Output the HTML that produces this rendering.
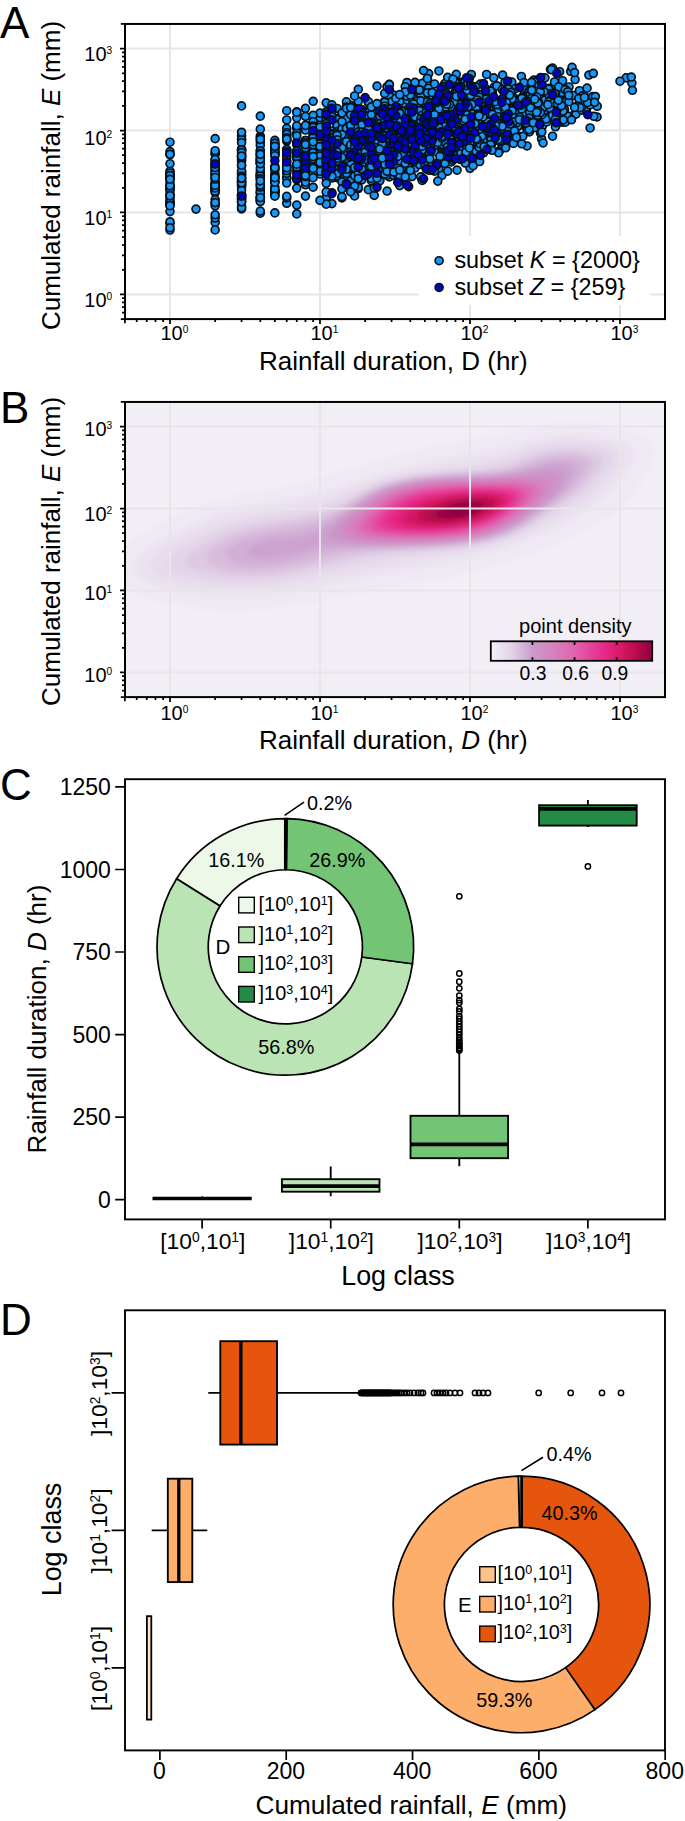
<!DOCTYPE html>
<html><head><meta charset="utf-8"><title>Rainfall duration and cumulated rainfall</title>
<style>html,body{margin:0;padding:0;background:#fff}svg{display:block}text{font-family:'Liberation Sans', Arial, sans-serif;fill:#000}</style>
</head><body>
<svg width="685" height="1821" viewBox="0 0 685 1821">
<defs>
<clipPath id="clipA"><rect x="125" y="23.95" width="540" height="295.15"/></clipPath>
<clipPath id="clipB"><rect x="125" y="401.95" width="540" height="295.15"/></clipPath>
<filter id="blur" x="-5%" y="-5%" width="110%" height="110%"><feGaussianBlur stdDeviation="2.5"/></filter>
<linearGradient id="cbar" x1="0" x2="1" y1="0" y2="0"><stop offset="0" stop-color="#f3f0f7"/><stop offset="0.13" stop-color="#e2d3e8"/><stop offset="0.26" stop-color="#c99bcb"/><stop offset="0.4" stop-color="#d77fbd"/><stop offset="0.52" stop-color="#df63af"/><stop offset="0.7" stop-color="#e7298a"/><stop offset="0.85" stop-color="#ce1256"/><stop offset="1" stop-color="#8e0040"/></linearGradient>
</defs>
<g id="panelA">
<path d="M170 23.95V319.1M125 294.43H665M320 23.95V319.1M125 212.49H665M470 23.95V319.1M125 130.55H665M620 23.95V319.1M125 48.61H665" stroke="#e6e6e6" stroke-width="2" fill="none" opacity="1"/>
<g clip-path="url(#clipA)"><g stroke="#04101a" stroke-width="1.7"><g fill="#1797f7"><circle cx="403.45" cy="126.94" r="3.95"/><circle cx="241.57" cy="186.86" r="3.95"/><circle cx="511.81" cy="82.07" r="3.95"/><circle cx="354.57" cy="138.18" r="3.95"/><circle cx="365.15" cy="144.05" r="3.95"/><circle cx="296.76" cy="154.29" r="3.95"/><circle cx="305.46" cy="176.88" r="3.95"/><circle cx="560.63" cy="88" r="3.95"/><circle cx="341.92" cy="153.56" r="3.95"/><circle cx="477.96" cy="101.87" r="3.95"/><circle cx="358.29" cy="112.64" r="3.95"/><circle cx="361.81" cy="179.85" r="3.95"/><circle cx="260.31" cy="175.89" r="3.95"/><circle cx="413.49" cy="109.99" r="3.95"/><circle cx="510.08" cy="100.17" r="3.95"/><circle cx="337.09" cy="160.18" r="3.95"/><circle cx="361.81" cy="147.95" r="3.95"/><circle cx="507.56" cy="125.2" r="3.95"/><circle cx="463.14" cy="101.5" r="3.95"/><circle cx="170" cy="223.62" r="3.95"/><circle cx="326.21" cy="161.6" r="3.95"/><circle cx="490.51" cy="107.3" r="3.95"/><circle cx="626.21" cy="77.83" r="3.95"/><circle cx="451.26" cy="117.35" r="3.95"/><circle cx="503.02" cy="108.88" r="3.95"/><circle cx="350.62" cy="150.79" r="3.95"/><circle cx="462.41" cy="82.11" r="3.95"/><circle cx="478.54" cy="134.64" r="3.95"/><circle cx="358.29" cy="159.41" r="3.95"/><circle cx="286.72" cy="150.17" r="3.95"/><circle cx="411.92" cy="130" r="3.95"/><circle cx="384.7" cy="101.16" r="3.95"/><circle cx="495.98" cy="129.48" r="3.95"/><circle cx="401.61" cy="162.46" r="3.95"/><circle cx="487.09" cy="137.44" r="3.95"/><circle cx="524.26" cy="113.17" r="3.95"/><circle cx="529.43" cy="131.83" r="3.95"/><circle cx="469.35" cy="123.33" r="3.95"/><circle cx="432.23" cy="101.04" r="3.95"/><circle cx="420.81" cy="95.92" r="3.95"/><circle cx="505.71" cy="102.61" r="3.95"/><circle cx="410.31" cy="145.81" r="3.95"/><circle cx="416.52" cy="126.8" r="3.95"/><circle cx="379.69" cy="172.27" r="3.95"/><circle cx="286.72" cy="135.09" r="3.95"/><circle cx="286.72" cy="157.43" r="3.95"/><circle cx="341.92" cy="197.97" r="3.95"/><circle cx="441.94" cy="140.24" r="3.95"/><circle cx="446.76" cy="152.36" r="3.95"/><circle cx="415.02" cy="168.02" r="3.95"/><circle cx="578.76" cy="94.28" r="3.95"/><circle cx="511.12" cy="124.89" r="3.95"/><circle cx="413.49" cy="109.61" r="3.95"/><circle cx="397.78" cy="125.4" r="3.95"/><circle cx="326.21" cy="140.72" r="3.95"/><circle cx="346.41" cy="168.04" r="3.95"/><circle cx="483.49" cy="97.09" r="3.95"/><circle cx="484.54" cy="118.19" r="3.95"/><circle cx="491.92" cy="124.76" r="3.95"/><circle cx="365.15" cy="129.61" r="3.95"/><circle cx="387.07" cy="151.32" r="3.95"/><circle cx="545.16" cy="94.28" r="3.95"/><circle cx="476.21" cy="123.04" r="3.95"/><circle cx="286.72" cy="161.07" r="3.95"/><circle cx="524.54" cy="92.89" r="3.95"/><circle cx="429.86" cy="101.24" r="3.95"/><circle cx="305.46" cy="184.77" r="3.95"/><circle cx="286.72" cy="110.69" r="3.95"/><circle cx="499.38" cy="150.9" r="3.95"/><circle cx="553.45" cy="95.24" r="3.95"/><circle cx="374.26" cy="156.63" r="3.95"/><circle cx="491.45" cy="144.63" r="3.95"/><circle cx="545.77" cy="99.17" r="3.95"/><circle cx="497.7" cy="124.52" r="3.95"/><circle cx="427.4" cy="128.3" r="3.95"/><circle cx="313.14" cy="158.93" r="3.95"/><circle cx="458.64" cy="123.64" r="3.95"/><circle cx="354.57" cy="139.81" r="3.95"/><circle cx="503.8" cy="137.13" r="3.95"/><circle cx="452.12" cy="120.26" r="3.95"/><circle cx="405.23" cy="149.36" r="3.95"/><circle cx="419.41" cy="142.86" r="3.95"/><circle cx="504.57" cy="95.04" r="3.95"/><circle cx="518.95" cy="137.78" r="3.95"/><circle cx="588.86" cy="75.03" r="3.95"/><circle cx="466.66" cy="96.8" r="3.95"/><circle cx="497.7" cy="111.11" r="3.95"/><circle cx="260.31" cy="177.92" r="3.95"/><circle cx="476.8" cy="102.24" r="3.95"/><circle cx="565.32" cy="96.94" r="3.95"/><circle cx="455.46" cy="125.66" r="3.95"/><circle cx="241.57" cy="171.65" r="3.95"/><circle cx="479.1" cy="143.53" r="3.95"/><circle cx="453.81" cy="131.68" r="3.95"/><circle cx="509.01" cy="99.03" r="3.95"/><circle cx="534.22" cy="114.11" r="3.95"/><circle cx="449.5" cy="133.53" r="3.95"/><circle cx="485.57" cy="88.55" r="3.95"/><circle cx="469.35" cy="125.11" r="3.95"/><circle cx="326.21" cy="150.59" r="3.95"/><circle cx="411.92" cy="95.17" r="3.95"/><circle cx="471.93" cy="122.2" r="3.95"/><circle cx="320" cy="158.78" r="3.95"/><circle cx="476.21" cy="151.25" r="3.95"/><circle cx="337.09" cy="121.69" r="3.95"/><circle cx="170" cy="174.66" r="3.95"/><circle cx="354.57" cy="147.78" r="3.95"/><circle cx="428.64" cy="88.18" r="3.95"/><circle cx="422.19" cy="154.03" r="3.95"/><circle cx="533.98" cy="79.98" r="3.95"/><circle cx="423.53" cy="125.04" r="3.95"/><circle cx="490.03" cy="95.99" r="3.95"/><circle cx="326.21" cy="148.21" r="3.95"/><circle cx="341.92" cy="138.59" r="3.95"/><circle cx="482.42" cy="137.08" r="3.95"/><circle cx="379.69" cy="154.01" r="3.95"/><circle cx="428.64" cy="73.54" r="3.95"/><circle cx="331.88" cy="156.34" r="3.95"/><circle cx="379.69" cy="145.9" r="3.95"/><circle cx="354.57" cy="138.24" r="3.95"/><circle cx="541.57" cy="138.98" r="3.95"/><circle cx="274.85" cy="190.99" r="3.95"/><circle cx="482.42" cy="131.05" r="3.95"/><circle cx="313.14" cy="133.42" r="3.95"/><circle cx="384.7" cy="115.03" r="3.95"/><circle cx="444.88" cy="97.16" r="3.95"/><circle cx="361.81" cy="145.63" r="3.95"/><circle cx="440.93" cy="121.77" r="3.95"/><circle cx="559.16" cy="110.94" r="3.95"/><circle cx="170" cy="175.82" r="3.95"/><circle cx="441.94" cy="130.69" r="3.95"/><circle cx="560.31" cy="93.78" r="3.95"/><circle cx="379.69" cy="180.47" r="3.95"/><circle cx="405.23" cy="126.33" r="3.95"/><circle cx="523.12" cy="102.17" r="3.95"/><circle cx="508.29" cy="121.55" r="3.95"/><circle cx="389.36" cy="154.75" r="3.95"/><circle cx="502.62" cy="145.08" r="3.95"/><circle cx="427.4" cy="118.41" r="3.95"/><circle cx="416.52" cy="147.86" r="3.95"/><circle cx="393.7" cy="101.42" r="3.95"/><circle cx="274.85" cy="195.31" r="3.95"/><circle cx="341.92" cy="121.98" r="3.95"/><circle cx="320" cy="156.41" r="3.95"/><circle cx="296.76" cy="179.61" r="3.95"/><circle cx="361.81" cy="142.89" r="3.95"/><circle cx="241.57" cy="159.42" r="3.95"/><circle cx="377.03" cy="165.41" r="3.95"/><circle cx="428.64" cy="122.44" r="3.95"/><circle cx="350.62" cy="171.62" r="3.95"/><circle cx="492.38" cy="92.57" r="3.95"/><circle cx="260.31" cy="136.05" r="3.95"/><circle cx="551.42" cy="106.5" r="3.95"/><circle cx="296.76" cy="127.68" r="3.95"/><circle cx="399.72" cy="171.63" r="3.95"/><circle cx="397.78" cy="126.94" r="3.95"/><circle cx="382.25" cy="121.79" r="3.95"/><circle cx="387.07" cy="137.49" r="3.95"/><circle cx="337.09" cy="174.54" r="3.95"/><circle cx="341.92" cy="138.34" r="3.95"/><circle cx="320" cy="158.78" r="3.95"/><circle cx="540.47" cy="103.44" r="3.95"/><circle cx="495.54" cy="120.96" r="3.95"/><circle cx="470" cy="142.74" r="3.95"/><circle cx="492.38" cy="110.89" r="3.95"/><circle cx="475.61" cy="96.86" r="3.95"/><circle cx="382.25" cy="126.79" r="3.95"/><circle cx="305.46" cy="141.38" r="3.95"/><circle cx="411.92" cy="124.57" r="3.95"/><circle cx="423.53" cy="101.76" r="3.95"/><circle cx="416.52" cy="135.33" r="3.95"/><circle cx="350.62" cy="137.17" r="3.95"/><circle cx="320" cy="167.55" r="3.95"/><circle cx="241.57" cy="202.05" r="3.95"/><circle cx="427.4" cy="78.84" r="3.95"/><circle cx="550.48" cy="69.34" r="3.95"/><circle cx="486.08" cy="112.75" r="3.95"/><circle cx="472.56" cy="164.63" r="3.95"/><circle cx="393.7" cy="123.23" r="3.95"/><circle cx="241.57" cy="208.9" r="3.95"/><circle cx="354.57" cy="143.08" r="3.95"/><circle cx="546.58" cy="107.76" r="3.95"/><circle cx="496.85" cy="108.81" r="3.95"/><circle cx="460.93" cy="130.72" r="3.95"/><circle cx="337.09" cy="161.58" r="3.95"/><circle cx="555.23" cy="108.02" r="3.95"/><circle cx="331.88" cy="137.8" r="3.95"/><circle cx="498.55" cy="126.43" r="3.95"/><circle cx="350.62" cy="158.59" r="3.95"/><circle cx="494.21" cy="86.95" r="3.95"/><circle cx="437.8" cy="124.32" r="3.95"/><circle cx="305.46" cy="182.05" r="3.95"/><circle cx="241.57" cy="173.45" r="3.95"/><circle cx="374.26" cy="140.86" r="3.95"/><circle cx="459.41" cy="107.5" r="3.95"/><circle cx="326.21" cy="139.83" r="3.95"/><circle cx="350.62" cy="136.19" r="3.95"/><circle cx="358.29" cy="155.28" r="3.95"/><circle cx="296.76" cy="111.83" r="3.95"/><circle cx="401.61" cy="121.44" r="3.95"/><circle cx="436.72" cy="142.57" r="3.95"/><circle cx="476.8" cy="133.73" r="3.95"/><circle cx="241.57" cy="206.34" r="3.95"/><circle cx="433.38" cy="110.78" r="3.95"/><circle cx="337.09" cy="171" r="3.95"/><circle cx="511.47" cy="111.57" r="3.95"/><circle cx="561.92" cy="93.09" r="3.95"/><circle cx="405.23" cy="134.69" r="3.95"/><circle cx="341.92" cy="135.41" r="3.95"/><circle cx="371.36" cy="149.06" r="3.95"/><circle cx="320" cy="166.95" r="3.95"/><circle cx="382.25" cy="119.14" r="3.95"/><circle cx="384.7" cy="127.18" r="3.95"/><circle cx="620" cy="81.22" r="3.95"/><circle cx="486.08" cy="117.83" r="3.95"/><circle cx="488.58" cy="131.69" r="3.95"/><circle cx="440.93" cy="106.78" r="3.95"/><circle cx="274.85" cy="166.41" r="3.95"/><circle cx="313.14" cy="140.85" r="3.95"/><circle cx="241.57" cy="174.54" r="3.95"/><circle cx="512.5" cy="137.9" r="3.95"/><circle cx="420.81" cy="176.74" r="3.95"/><circle cx="510.08" cy="100.86" r="3.95"/><circle cx="320" cy="152.96" r="3.95"/><circle cx="438.86" cy="132.59" r="3.95"/><circle cx="527.3" cy="115.97" r="3.95"/><circle cx="337.09" cy="108.47" r="3.95"/><circle cx="358.29" cy="178.5" r="3.95"/><circle cx="514.83" cy="118.31" r="3.95"/><circle cx="498.55" cy="152.79" r="3.95"/><circle cx="341.92" cy="167.35" r="3.95"/><circle cx="456.27" cy="115.33" r="3.95"/><circle cx="170" cy="201.65" r="3.95"/><circle cx="286.72" cy="169.75" r="3.95"/><circle cx="480.78" cy="127.16" r="3.95"/><circle cx="331.88" cy="130.97" r="3.95"/><circle cx="467.34" cy="98.47" r="3.95"/><circle cx="480.78" cy="107.69" r="3.95"/><circle cx="377.03" cy="170.95" r="3.95"/><circle cx="493.3" cy="103.9" r="3.95"/><circle cx="422.19" cy="138.69" r="3.95"/><circle cx="241.57" cy="185.26" r="3.95"/><circle cx="549.14" cy="88.18" r="3.95"/><circle cx="411.92" cy="96.64" r="3.95"/><circle cx="460.17" cy="113.09" r="3.95"/><circle cx="485.57" cy="137.14" r="3.95"/><circle cx="379.69" cy="118.19" r="3.95"/><circle cx="475.01" cy="104.76" r="3.95"/><circle cx="449.5" cy="140.48" r="3.95"/><circle cx="465.27" cy="86.89" r="3.95"/><circle cx="484.54" cy="126.9" r="3.95"/><circle cx="286.72" cy="167.4" r="3.95"/><circle cx="346.41" cy="141.89" r="3.95"/><circle cx="286.72" cy="178.11" r="3.95"/><circle cx="452.12" cy="116.72" r="3.95"/><circle cx="525.94" cy="100.85" r="3.95"/><circle cx="368.33" cy="156.31" r="3.95"/><circle cx="393.7" cy="118.32" r="3.95"/><circle cx="170" cy="151.54" r="3.95"/><circle cx="521.95" cy="124.82" r="3.95"/><circle cx="471.29" cy="124.88" r="3.95"/><circle cx="215.15" cy="165.77" r="3.95"/><circle cx="305.46" cy="165.14" r="3.95"/><circle cx="426.14" cy="162.56" r="3.95"/><circle cx="529.43" cy="88.73" r="3.95"/><circle cx="389.36" cy="176.88" r="3.95"/><circle cx="401.61" cy="138.73" r="3.95"/><circle cx="454.64" cy="124.5" r="3.95"/><circle cx="337.09" cy="177.61" r="3.95"/><circle cx="422.19" cy="83.29" r="3.95"/><circle cx="393.7" cy="95.16" r="3.95"/><circle cx="215.15" cy="167.09" r="3.95"/><circle cx="305.46" cy="164.08" r="3.95"/><circle cx="519.56" cy="107.45" r="3.95"/><circle cx="170" cy="203.85" r="3.95"/><circle cx="521.07" cy="123.79" r="3.95"/><circle cx="241.57" cy="139.47" r="3.95"/><circle cx="460.17" cy="142.69" r="3.95"/><circle cx="459.41" cy="110.32" r="3.95"/><circle cx="382.25" cy="125.37" r="3.95"/><circle cx="448.6" cy="130.31" r="3.95"/><circle cx="504.95" cy="113.95" r="3.95"/><circle cx="397.78" cy="150.62" r="3.95"/><circle cx="241.57" cy="149.18" r="3.95"/><circle cx="326.21" cy="135.33" r="3.95"/><circle cx="423.53" cy="145.27" r="3.95"/><circle cx="470" cy="131.9" r="3.95"/><circle cx="395.77" cy="128.36" r="3.95"/><circle cx="241.57" cy="161.13" r="3.95"/><circle cx="438.86" cy="145.89" r="3.95"/><circle cx="516.12" cy="105.99" r="3.95"/><circle cx="331.88" cy="157.81" r="3.95"/><circle cx="498.55" cy="101.96" r="3.95"/><circle cx="331.88" cy="203.58" r="3.95"/><circle cx="449.5" cy="121.97" r="3.95"/><circle cx="374.26" cy="140.24" r="3.95"/><circle cx="498.97" cy="101.7" r="3.95"/><circle cx="405.23" cy="113.75" r="3.95"/><circle cx="286.72" cy="203.26" r="3.95"/><circle cx="517.4" cy="115.78" r="3.95"/><circle cx="455.46" cy="116.05" r="3.95"/><circle cx="543.07" cy="142.93" r="3.95"/><circle cx="496.41" cy="120.2" r="3.95"/><circle cx="350.62" cy="154.97" r="3.95"/><circle cx="365.15" cy="153.22" r="3.95"/><circle cx="286.72" cy="128.41" r="3.95"/><circle cx="438.86" cy="169.27" r="3.95"/><circle cx="413.49" cy="85.5" r="3.95"/><circle cx="420.81" cy="120.29" r="3.95"/><circle cx="489.07" cy="111.56" r="3.95"/><circle cx="215.15" cy="203.29" r="3.95"/><circle cx="422.19" cy="132.46" r="3.95"/><circle cx="354.57" cy="132.17" r="3.95"/><circle cx="341.92" cy="147.14" r="3.95"/><circle cx="437.8" cy="101.71" r="3.95"/><circle cx="446.76" cy="107.08" r="3.95"/><circle cx="215.15" cy="205.77" r="3.95"/><circle cx="429.86" cy="136.78" r="3.95"/><circle cx="452.12" cy="120.93" r="3.95"/><circle cx="296.76" cy="205.09" r="3.95"/><circle cx="449.5" cy="140.88" r="3.95"/><circle cx="493.3" cy="109.07" r="3.95"/><circle cx="260.31" cy="175.14" r="3.95"/><circle cx="346.41" cy="153.16" r="3.95"/><circle cx="529.17" cy="100.25" r="3.95"/><circle cx="533.49" cy="114.9" r="3.95"/><circle cx="358.29" cy="147.3" r="3.95"/><circle cx="274.85" cy="169.91" r="3.95"/><circle cx="341.92" cy="134.05" r="3.95"/><circle cx="483.49" cy="140.31" r="3.95"/><circle cx="452.97" cy="127.25" r="3.95"/><circle cx="382.25" cy="127.08" r="3.95"/><circle cx="320" cy="160.41" r="3.95"/><circle cx="566.67" cy="99.25" r="3.95"/><circle cx="538.91" cy="105.87" r="3.95"/><circle cx="326.21" cy="102.87" r="3.95"/><circle cx="408.66" cy="145.01" r="3.95"/><circle cx="436.72" cy="114.3" r="3.95"/><circle cx="423.53" cy="70.6" r="3.95"/><circle cx="517.71" cy="114.78" r="3.95"/><circle cx="387.07" cy="175.11" r="3.95"/><circle cx="215.15" cy="192.61" r="3.95"/><circle cx="631.88" cy="83.04" r="3.95"/><circle cx="413.49" cy="151.66" r="3.95"/><circle cx="437.8" cy="114.48" r="3.95"/><circle cx="433.38" cy="133.01" r="3.95"/><circle cx="320" cy="117.58" r="3.95"/><circle cx="408.66" cy="115.38" r="3.95"/><circle cx="460.17" cy="110.84" r="3.95"/><circle cx="492.38" cy="102.2" r="3.95"/><circle cx="382.25" cy="153.42" r="3.95"/><circle cx="296.76" cy="158.51" r="3.95"/><circle cx="476.8" cy="111.15" r="3.95"/><circle cx="241.57" cy="135.85" r="3.95"/><circle cx="406.97" cy="155.8" r="3.95"/><circle cx="274.85" cy="147.38" r="3.95"/><circle cx="305.46" cy="140.46" r="3.95"/><circle cx="441.94" cy="175.28" r="3.95"/><circle cx="460.17" cy="126.47" r="3.95"/><circle cx="465.27" cy="115.34" r="3.95"/><circle cx="483.49" cy="152.77" r="3.95"/><circle cx="313.14" cy="154.89" r="3.95"/><circle cx="377.03" cy="150.63" r="3.95"/><circle cx="326.21" cy="122.76" r="3.95"/><circle cx="480.23" cy="94.72" r="3.95"/><circle cx="597.04" cy="116.95" r="3.95"/><circle cx="274.85" cy="190.88" r="3.95"/><circle cx="431.05" cy="123.68" r="3.95"/><circle cx="413.49" cy="132.88" r="3.95"/><circle cx="365.15" cy="131.63" r="3.95"/><circle cx="495.98" cy="105.88" r="3.95"/><circle cx="393.7" cy="167.75" r="3.95"/><circle cx="365.15" cy="160.2" r="3.95"/><circle cx="365.15" cy="151.63" r="3.95"/><circle cx="485.57" cy="140.35" r="3.95"/><circle cx="313.14" cy="149.46" r="3.95"/><circle cx="170" cy="171.15" r="3.95"/><circle cx="470.65" cy="132.92" r="3.95"/><circle cx="170" cy="154.61" r="3.95"/><circle cx="350.62" cy="110.34" r="3.95"/><circle cx="215.15" cy="182.74" r="3.95"/><circle cx="399.72" cy="161.85" r="3.95"/><circle cx="368.33" cy="102.32" r="3.95"/><circle cx="215.15" cy="186.04" r="3.95"/><circle cx="406.97" cy="82.5" r="3.95"/><circle cx="260.31" cy="171.49" r="3.95"/><circle cx="358.29" cy="188.52" r="3.95"/><circle cx="406.97" cy="116.83" r="3.95"/><circle cx="346.41" cy="178.93" r="3.95"/><circle cx="518.33" cy="102.79" r="3.95"/><circle cx="387.07" cy="135.35" r="3.95"/><circle cx="554.88" cy="118.96" r="3.95"/><circle cx="419.41" cy="139.58" r="3.95"/><circle cx="436.72" cy="145.21" r="3.95"/><circle cx="358.29" cy="154.85" r="3.95"/><circle cx="434.51" cy="151.55" r="3.95"/><circle cx="331.88" cy="171.69" r="3.95"/><circle cx="260.31" cy="200.96" r="3.95"/><circle cx="523.69" cy="120.59" r="3.95"/><circle cx="419.41" cy="90.3" r="3.95"/><circle cx="471.93" cy="89.18" r="3.95"/><circle cx="337.09" cy="142.57" r="3.95"/><circle cx="415.02" cy="137.66" r="3.95"/><circle cx="424.85" cy="125.27" r="3.95"/><circle cx="286.72" cy="178" r="3.95"/><circle cx="461.67" cy="93.16" r="3.95"/><circle cx="393.7" cy="117.41" r="3.95"/><circle cx="519.87" cy="109.25" r="3.95"/><circle cx="313.14" cy="160.56" r="3.95"/><circle cx="296.76" cy="117.84" r="3.95"/><circle cx="354.57" cy="134.12" r="3.95"/><circle cx="401.61" cy="136.81" r="3.95"/><circle cx="241.57" cy="154.52" r="3.95"/><circle cx="476.8" cy="115.88" r="3.95"/><circle cx="286.72" cy="132.68" r="3.95"/><circle cx="260.31" cy="160.79" r="3.95"/><circle cx="320" cy="132.35" r="3.95"/><circle cx="531.24" cy="128.47" r="3.95"/><circle cx="479.67" cy="121.66" r="3.95"/><circle cx="540.69" cy="95.79" r="3.95"/><circle cx="504.95" cy="124.19" r="3.95"/><circle cx="215.15" cy="189.89" r="3.95"/><circle cx="544.75" cy="115.01" r="3.95"/><circle cx="470" cy="168.35" r="3.95"/><circle cx="399.72" cy="138.31" r="3.95"/><circle cx="417.98" cy="160.53" r="3.95"/><circle cx="464.57" cy="149.93" r="3.95"/><circle cx="326.21" cy="162.77" r="3.95"/><circle cx="468.68" cy="90.02" r="3.95"/><circle cx="485.06" cy="126.35" r="3.95"/><circle cx="403.45" cy="147.13" r="3.95"/><circle cx="215.15" cy="154.32" r="3.95"/><circle cx="434.51" cy="171.12" r="3.95"/><circle cx="513.17" cy="115.84" r="3.95"/><circle cx="456.27" cy="134.73" r="3.95"/><circle cx="389.36" cy="95.31" r="3.95"/><circle cx="521.36" cy="76.44" r="3.95"/><circle cx="457.86" cy="154.6" r="3.95"/><circle cx="350.62" cy="105.23" r="3.95"/><circle cx="337.09" cy="144.95" r="3.95"/><circle cx="455.46" cy="111.08" r="3.95"/><circle cx="274.85" cy="140.29" r="3.95"/><circle cx="313.14" cy="187.23" r="3.95"/><circle cx="286.72" cy="141" r="3.95"/><circle cx="296.76" cy="127.45" r="3.95"/><circle cx="403.45" cy="164.89" r="3.95"/><circle cx="368.33" cy="138.86" r="3.95"/><circle cx="525.94" cy="88.64" r="3.95"/><circle cx="434.51" cy="115.75" r="3.95"/><circle cx="377.03" cy="153.88" r="3.95"/><circle cx="331.88" cy="178.04" r="3.95"/><circle cx="441.94" cy="148.33" r="3.95"/><circle cx="441.94" cy="108.46" r="3.95"/><circle cx="260.31" cy="154.79" r="3.95"/><circle cx="518.64" cy="136.28" r="3.95"/><circle cx="389.36" cy="135.2" r="3.95"/><circle cx="384.7" cy="132.71" r="3.95"/><circle cx="393.7" cy="128.86" r="3.95"/><circle cx="384.7" cy="93.46" r="3.95"/><circle cx="260.31" cy="129.13" r="3.95"/><circle cx="296.76" cy="150.97" r="3.95"/><circle cx="443.91" cy="129.23" r="3.95"/><circle cx="354.57" cy="169.73" r="3.95"/><circle cx="337.09" cy="148.17" r="3.95"/><circle cx="395.77" cy="121.36" r="3.95"/><circle cx="457.86" cy="95.13" r="3.95"/><circle cx="403.45" cy="111.54" r="3.95"/><circle cx="337.09" cy="118.45" r="3.95"/><circle cx="241.57" cy="181.25" r="3.95"/><circle cx="453.81" cy="138.43" r="3.95"/><circle cx="411.92" cy="176.5" r="3.95"/><circle cx="422.19" cy="103.75" r="3.95"/><circle cx="528.37" cy="122.94" r="3.95"/><circle cx="326.21" cy="123.85" r="3.95"/><circle cx="450.38" cy="145.37" r="3.95"/><circle cx="350.62" cy="126.35" r="3.95"/><circle cx="395.77" cy="119.8" r="3.95"/><circle cx="433.38" cy="128.2" r="3.95"/><circle cx="465.97" cy="110.97" r="3.95"/><circle cx="463.86" cy="114.01" r="3.95"/><circle cx="354.57" cy="136.48" r="3.95"/><circle cx="457.07" cy="100.1" r="3.95"/><circle cx="274.85" cy="173.79" r="3.95"/><circle cx="341.92" cy="169.46" r="3.95"/><circle cx="423.53" cy="129.45" r="3.95"/><circle cx="260.31" cy="162.67" r="3.95"/><circle cx="337.09" cy="131.72" r="3.95"/><circle cx="274.85" cy="147.3" r="3.95"/><circle cx="521.66" cy="102.62" r="3.95"/><circle cx="305.46" cy="172.5" r="3.95"/><circle cx="260.31" cy="198.03" r="3.95"/><circle cx="450.38" cy="123.39" r="3.95"/><circle cx="326.21" cy="155.13" r="3.95"/><circle cx="472.56" cy="126.69" r="3.95"/><circle cx="454.64" cy="82.16" r="3.95"/><circle cx="483.49" cy="144.72" r="3.95"/><circle cx="476.8" cy="101.68" r="3.95"/><circle cx="471.29" cy="108.62" r="3.95"/><circle cx="337.09" cy="119.26" r="3.95"/><circle cx="337.09" cy="148.78" r="3.95"/><circle cx="260.31" cy="141.66" r="3.95"/><circle cx="555.23" cy="112.96" r="3.95"/><circle cx="274.85" cy="154.96" r="3.95"/><circle cx="575.11" cy="79.53" r="3.95"/><circle cx="387.07" cy="130.06" r="3.95"/><circle cx="399.72" cy="179.09" r="3.95"/><circle cx="313.14" cy="163.8" r="3.95"/><circle cx="481.33" cy="107.14" r="3.95"/><circle cx="543.07" cy="111.4" r="3.95"/><circle cx="350.62" cy="180.97" r="3.95"/><circle cx="537.54" cy="99.25" r="3.95"/><circle cx="535.9" cy="115.55" r="3.95"/><circle cx="487.59" cy="108.7" r="3.95"/><circle cx="460.93" cy="111.88" r="3.95"/><circle cx="465.27" cy="100.11" r="3.95"/><circle cx="350.62" cy="138.82" r="3.95"/><circle cx="423.53" cy="102.95" r="3.95"/><circle cx="432.23" cy="98.49" r="3.95"/><circle cx="170" cy="205.14" r="3.95"/><circle cx="443.91" cy="123.95" r="3.95"/><circle cx="431.05" cy="170.03" r="3.95"/><circle cx="507.93" cy="125.32" r="3.95"/><circle cx="534.95" cy="127.57" r="3.95"/><circle cx="535.9" cy="81.84" r="3.95"/><circle cx="473.18" cy="120.39" r="3.95"/><circle cx="498.55" cy="122.92" r="3.95"/><circle cx="419.41" cy="89.73" r="3.95"/><circle cx="433.38" cy="142.92" r="3.95"/><circle cx="423.53" cy="124.3" r="3.95"/><circle cx="379.69" cy="142.87" r="3.95"/><circle cx="632.42" cy="90.29" r="3.95"/><circle cx="449.5" cy="120.18" r="3.95"/><circle cx="382.25" cy="147.68" r="3.95"/><circle cx="358.29" cy="187.28" r="3.95"/><circle cx="241.57" cy="184.98" r="3.95"/><circle cx="494.21" cy="124.63" r="3.95"/><circle cx="377.03" cy="86.17" r="3.95"/><circle cx="422.19" cy="180.42" r="3.95"/><circle cx="455.46" cy="91.43" r="3.95"/><circle cx="379.69" cy="136.21" r="3.95"/><circle cx="559.82" cy="105.78" r="3.95"/><circle cx="215.15" cy="222.41" r="3.95"/><circle cx="514.17" cy="110.89" r="3.95"/><circle cx="341.92" cy="155.39" r="3.95"/><circle cx="341.92" cy="147.89" r="3.95"/><circle cx="431.05" cy="140.3" r="3.95"/><circle cx="452.97" cy="117.8" r="3.95"/><circle cx="557.31" cy="102.22" r="3.95"/><circle cx="260.31" cy="156.86" r="3.95"/><circle cx="475.61" cy="101.84" r="3.95"/><circle cx="489.55" cy="108.07" r="3.95"/><circle cx="365.15" cy="150.42" r="3.95"/><circle cx="331.88" cy="148.33" r="3.95"/><circle cx="403.45" cy="175.23" r="3.95"/><circle cx="415.02" cy="123.21" r="3.95"/><circle cx="346.41" cy="144.61" r="3.95"/><circle cx="432.23" cy="142.21" r="3.95"/><circle cx="492.38" cy="123.77" r="3.95"/><circle cx="491.92" cy="135.42" r="3.95"/><circle cx="313.14" cy="152.51" r="3.95"/><circle cx="320" cy="149.38" r="3.95"/><circle cx="445.83" cy="150.3" r="3.95"/><circle cx="260.31" cy="116.14" r="3.95"/><circle cx="241.57" cy="165.82" r="3.95"/><circle cx="260.31" cy="193.18" r="3.95"/><circle cx="428.64" cy="161.51" r="3.95"/><circle cx="583.72" cy="93.77" r="3.95"/><circle cx="444.88" cy="144.74" r="3.95"/><circle cx="541.35" cy="81.73" r="3.95"/><circle cx="436.72" cy="115.37" r="3.95"/><circle cx="350.62" cy="123.32" r="3.95"/><circle cx="500.21" cy="108.67" r="3.95"/><circle cx="482.95" cy="127.02" r="3.95"/><circle cx="439.9" cy="116.94" r="3.95"/><circle cx="554.52" cy="81.95" r="3.95"/><circle cx="573" cy="115.67" r="3.95"/><circle cx="384.7" cy="145.24" r="3.95"/><circle cx="516.76" cy="127.29" r="3.95"/><circle cx="331.88" cy="156.53" r="3.95"/><circle cx="423.53" cy="127.39" r="3.95"/><circle cx="459.41" cy="157.21" r="3.95"/><circle cx="215.15" cy="152.93" r="3.95"/><circle cx="460.93" cy="110.98" r="3.95"/><circle cx="454.64" cy="123.91" r="3.95"/><circle cx="448.6" cy="119.78" r="3.95"/><circle cx="389.36" cy="146.02" r="3.95"/><circle cx="313.14" cy="164.7" r="3.95"/><circle cx="508.65" cy="129.12" r="3.95"/><circle cx="379.69" cy="134.38" r="3.95"/><circle cx="410.31" cy="122.75" r="3.95"/><circle cx="470.65" cy="90.94" r="3.95"/><circle cx="523.98" cy="82.57" r="3.95"/><circle cx="326.21" cy="160.48" r="3.95"/><circle cx="446.76" cy="124.45" r="3.95"/><circle cx="498.55" cy="136.52" r="3.95"/><circle cx="350.62" cy="153.62" r="3.95"/><circle cx="337.09" cy="125.67" r="3.95"/><circle cx="458.64" cy="141.62" r="3.95"/><circle cx="403.45" cy="142.64" r="3.95"/><circle cx="548.56" cy="98.2" r="3.95"/><circle cx="419.41" cy="106.15" r="3.95"/><circle cx="387.07" cy="167.88" r="3.95"/><circle cx="406.97" cy="159.42" r="3.95"/><circle cx="502.23" cy="88.65" r="3.95"/><circle cx="576.01" cy="114.03" r="3.95"/><circle cx="592.63" cy="96.54" r="3.95"/><circle cx="499.38" cy="125.15" r="3.95"/><circle cx="313.14" cy="135.12" r="3.95"/><circle cx="361.81" cy="122.42" r="3.95"/><circle cx="483.49" cy="140.64" r="3.95"/><circle cx="518.33" cy="102.14" r="3.95"/><circle cx="435.63" cy="144.77" r="3.95"/><circle cx="486.59" cy="74.46" r="3.95"/><circle cx="587.05" cy="88.17" r="3.95"/><circle cx="548.56" cy="89.01" r="3.95"/><circle cx="403.45" cy="156.14" r="3.95"/><circle cx="509.37" cy="100.87" r="3.95"/><circle cx="368.33" cy="189.65" r="3.95"/><circle cx="296.76" cy="213.9" r="3.95"/><circle cx="374.26" cy="195.35" r="3.95"/><circle cx="326.21" cy="113.34" r="3.95"/><circle cx="590.11" cy="127.95" r="3.95"/><circle cx="274.85" cy="145.07" r="3.95"/><circle cx="305.46" cy="141.8" r="3.95"/><circle cx="523.4" cy="111.89" r="3.95"/><circle cx="354.57" cy="117.28" r="3.95"/><circle cx="399.72" cy="137.61" r="3.95"/><circle cx="374.26" cy="116.74" r="3.95"/><circle cx="346.41" cy="134.91" r="3.95"/><circle cx="527.57" cy="119.22" r="3.95"/><circle cx="296.76" cy="179.34" r="3.95"/><circle cx="346.41" cy="172.41" r="3.95"/><circle cx="480.78" cy="108.55" r="3.95"/><circle cx="387.07" cy="146.77" r="3.95"/><circle cx="382.25" cy="167.75" r="3.95"/><circle cx="451.26" cy="161.93" r="3.95"/><circle cx="429.86" cy="119.42" r="3.95"/><circle cx="331.88" cy="174.24" r="3.95"/><circle cx="313.14" cy="164.4" r="3.95"/><circle cx="361.81" cy="123.71" r="3.95"/><circle cx="326.21" cy="151.51" r="3.95"/><circle cx="477.96" cy="131.03" r="3.95"/><circle cx="296.76" cy="142.11" r="3.95"/><circle cx="529.17" cy="90.55" r="3.95"/><circle cx="393.7" cy="154.27" r="3.95"/><circle cx="416.52" cy="107.62" r="3.95"/><circle cx="545.16" cy="116.78" r="3.95"/><circle cx="331.88" cy="144.5" r="3.95"/><circle cx="481.88" cy="136.16" r="3.95"/><circle cx="374.26" cy="150.25" r="3.95"/><circle cx="411.92" cy="123.9" r="3.95"/><circle cx="483.49" cy="115.15" r="3.95"/><circle cx="365.15" cy="128.76" r="3.95"/><circle cx="437.8" cy="94.63" r="3.95"/><circle cx="560.15" cy="99.58" r="3.95"/><circle cx="320" cy="145.56" r="3.95"/><circle cx="331.88" cy="133.82" r="3.95"/><circle cx="524.54" cy="106.51" r="3.95"/><circle cx="305.46" cy="174.43" r="3.95"/><circle cx="393.7" cy="105.14" r="3.95"/><circle cx="350.62" cy="158.07" r="3.95"/><circle cx="379.69" cy="130.02" r="3.95"/><circle cx="578.4" cy="104.94" r="3.95"/><circle cx="379.69" cy="178.66" r="3.95"/><circle cx="358.29" cy="151.58" r="3.95"/><circle cx="368.33" cy="162.24" r="3.95"/><circle cx="215.15" cy="160.1" r="3.95"/><circle cx="415.02" cy="147.94" r="3.95"/><circle cx="393.7" cy="175.36" r="3.95"/><circle cx="305.46" cy="153.87" r="3.95"/><circle cx="597.23" cy="106.24" r="3.95"/><circle cx="445.83" cy="107.78" r="3.95"/><circle cx="517.4" cy="105.91" r="3.95"/><circle cx="534.22" cy="112.65" r="3.95"/><circle cx="577.53" cy="94.64" r="3.95"/><circle cx="424.85" cy="102.73" r="3.95"/><circle cx="382.25" cy="143.94" r="3.95"/><circle cx="542.43" cy="126.06" r="3.95"/><circle cx="354.57" cy="143.34" r="3.95"/><circle cx="436.72" cy="104.14" r="3.95"/><circle cx="331.88" cy="157.95" r="3.95"/><circle cx="413.49" cy="133.61" r="3.95"/><circle cx="481.33" cy="116.85" r="3.95"/><circle cx="341.92" cy="140.9" r="3.95"/><circle cx="361.81" cy="143.59" r="3.95"/><circle cx="539.13" cy="112.23" r="3.95"/><circle cx="346.41" cy="173.33" r="3.95"/><circle cx="442.93" cy="118.63" r="3.95"/><circle cx="286.72" cy="149.44" r="3.95"/><circle cx="326.21" cy="117.17" r="3.95"/><circle cx="461.67" cy="95.7" r="3.95"/><circle cx="445.83" cy="119.96" r="3.95"/><circle cx="562.55" cy="122.17" r="3.95"/><circle cx="387.07" cy="86.68" r="3.95"/><circle cx="320" cy="154.13" r="3.95"/><circle cx="305.46" cy="147.68" r="3.95"/><circle cx="389.36" cy="129.59" r="3.95"/><circle cx="170" cy="163.68" r="3.95"/><circle cx="260.31" cy="197.06" r="3.95"/><circle cx="215.15" cy="190.14" r="3.95"/><circle cx="431.05" cy="149.93" r="3.95"/><circle cx="432.23" cy="125.76" r="3.95"/><circle cx="476.8" cy="108.41" r="3.95"/><circle cx="546.78" cy="121.96" r="3.95"/><circle cx="403.45" cy="155.55" r="3.95"/><circle cx="326.21" cy="170.58" r="3.95"/><circle cx="215.15" cy="188.77" r="3.95"/><circle cx="358.29" cy="128.7" r="3.95"/><circle cx="420.81" cy="122.02" r="3.95"/><circle cx="498.55" cy="112.39" r="3.95"/><circle cx="361.81" cy="137.03" r="3.95"/><circle cx="490.98" cy="93.05" r="3.95"/><circle cx="341.92" cy="127.88" r="3.95"/><circle cx="305.46" cy="157.37" r="3.95"/><circle cx="313.14" cy="137.4" r="3.95"/><circle cx="468.68" cy="119.79" r="3.95"/><circle cx="416.52" cy="145.89" r="3.95"/><circle cx="447.69" cy="111.16" r="3.95"/><circle cx="405.23" cy="135.47" r="3.95"/><circle cx="382.25" cy="142.36" r="3.95"/><circle cx="286.72" cy="134.45" r="3.95"/><circle cx="350.62" cy="162.75" r="3.95"/><circle cx="387.07" cy="160.71" r="3.95"/><circle cx="429.86" cy="136.38" r="3.95"/><circle cx="480.78" cy="144.32" r="3.95"/><circle cx="472.56" cy="115.96" r="3.95"/><circle cx="358.29" cy="89.32" r="3.95"/><circle cx="496.41" cy="115.36" r="3.95"/><circle cx="286.72" cy="183.03" r="3.95"/><circle cx="379.69" cy="144.91" r="3.95"/><circle cx="479.1" cy="128.62" r="3.95"/><circle cx="377.03" cy="144.33" r="3.95"/><circle cx="215.15" cy="170.11" r="3.95"/><circle cx="331.88" cy="104.84" r="3.95"/><circle cx="503.8" cy="98.21" r="3.95"/><circle cx="528.37" cy="104.89" r="3.95"/><circle cx="411.92" cy="140.53" r="3.95"/><circle cx="374.26" cy="130.71" r="3.95"/><circle cx="457.07" cy="170.11" r="3.95"/><circle cx="504.95" cy="82.04" r="3.95"/><circle cx="562.08" cy="92.4" r="3.95"/><circle cx="384.7" cy="173.88" r="3.95"/><circle cx="581.64" cy="110.16" r="3.95"/><circle cx="241.57" cy="194.76" r="3.95"/><circle cx="405.23" cy="107.33" r="3.95"/><circle cx="427.4" cy="135.94" r="3.95"/><circle cx="452.97" cy="119.88" r="3.95"/><circle cx="365.15" cy="155.11" r="3.95"/><circle cx="395.77" cy="163.54" r="3.95"/><circle cx="463.86" cy="154.05" r="3.95"/><circle cx="391.57" cy="141.76" r="3.95"/><circle cx="459.41" cy="128.87" r="3.95"/><circle cx="443.91" cy="148.35" r="3.95"/><circle cx="525.94" cy="114.47" r="3.95"/><circle cx="499.8" cy="141.73" r="3.95"/><circle cx="451.26" cy="131.17" r="3.95"/><circle cx="451.26" cy="120.21" r="3.95"/><circle cx="433.38" cy="109.03" r="3.95"/><circle cx="337.09" cy="142.43" r="3.95"/><circle cx="365.15" cy="170.45" r="3.95"/><circle cx="399.72" cy="147.26" r="3.95"/><circle cx="365.15" cy="156.54" r="3.95"/><circle cx="296.76" cy="158.08" r="3.95"/><circle cx="354.57" cy="151.06" r="3.95"/><circle cx="415.02" cy="128.83" r="3.95"/><circle cx="455.46" cy="139.17" r="3.95"/><circle cx="443.91" cy="147.32" r="3.95"/><circle cx="426.14" cy="161.7" r="3.95"/><circle cx="501.02" cy="112.79" r="3.95"/><circle cx="405.23" cy="124.87" r="3.95"/><circle cx="274.85" cy="191.15" r="3.95"/><circle cx="515.48" cy="109.39" r="3.95"/><circle cx="447.69" cy="128.31" r="3.95"/><circle cx="486.59" cy="123.23" r="3.95"/><circle cx="397.78" cy="163.11" r="3.95"/><circle cx="426.14" cy="114.47" r="3.95"/><circle cx="377.03" cy="146.14" r="3.95"/><circle cx="468.02" cy="122.2" r="3.95"/><circle cx="416.52" cy="135.03" r="3.95"/><circle cx="460.17" cy="159.34" r="3.95"/><circle cx="490.98" cy="124.22" r="3.95"/><circle cx="313.14" cy="122.74" r="3.95"/><circle cx="417.98" cy="138.93" r="3.95"/><circle cx="354.57" cy="151" r="3.95"/><circle cx="331.88" cy="111.31" r="3.95"/><circle cx="358.29" cy="166.1" r="3.95"/><circle cx="350.62" cy="110.99" r="3.95"/><circle cx="478.54" cy="113.27" r="3.95"/><circle cx="429.86" cy="101.69" r="3.95"/><circle cx="573.13" cy="95.47" r="3.95"/><circle cx="484.01" cy="119.35" r="3.95"/><circle cx="500.21" cy="140.5" r="3.95"/><circle cx="532.25" cy="121.89" r="3.95"/><circle cx="484.54" cy="119.88" r="3.95"/><circle cx="477.96" cy="129.64" r="3.95"/><circle cx="371.36" cy="162.44" r="3.95"/><circle cx="449.5" cy="101.25" r="3.95"/><circle cx="505.71" cy="117.67" r="3.95"/><circle cx="326.21" cy="163.34" r="3.95"/><circle cx="274.85" cy="153.52" r="3.95"/><circle cx="296.76" cy="132.92" r="3.95"/><circle cx="397.78" cy="118.14" r="3.95"/><circle cx="458.64" cy="130.15" r="3.95"/><circle cx="549.34" cy="93.74" r="3.95"/><circle cx="464.57" cy="130.86" r="3.95"/><circle cx="215.15" cy="174.15" r="3.95"/><circle cx="358.29" cy="150.09" r="3.95"/><circle cx="354.57" cy="117.32" r="3.95"/><circle cx="401.61" cy="142.68" r="3.95"/><circle cx="548.76" cy="107.05" r="3.95"/><circle cx="320" cy="139.32" r="3.95"/><circle cx="326.21" cy="156.81" r="3.95"/><circle cx="274.85" cy="177.92" r="3.95"/><circle cx="170" cy="201.76" r="3.95"/><circle cx="470.65" cy="116.17" r="3.95"/><circle cx="496.85" cy="112.6" r="3.95"/><circle cx="260.31" cy="199.39" r="3.95"/><circle cx="483.49" cy="104.43" r="3.95"/><circle cx="475.61" cy="97.99" r="3.95"/><circle cx="554.34" cy="99.68" r="3.95"/><circle cx="286.72" cy="171.27" r="3.95"/><circle cx="500.62" cy="111.43" r="3.95"/><circle cx="439.9" cy="107.36" r="3.95"/><circle cx="448.6" cy="102.45" r="3.95"/><circle cx="377.03" cy="136.09" r="3.95"/><circle cx="320" cy="159.05" r="3.95"/><circle cx="524.26" cy="104.05" r="3.95"/><circle cx="331.88" cy="152.2" r="3.95"/><circle cx="365.15" cy="159.22" r="3.95"/><circle cx="337.09" cy="147.75" r="3.95"/><circle cx="382.25" cy="115.76" r="3.95"/><circle cx="320" cy="144.89" r="3.95"/><circle cx="535.42" cy="89.58" r="3.95"/><circle cx="420.81" cy="124.51" r="3.95"/><circle cx="326.21" cy="147.68" r="3.95"/><circle cx="326.21" cy="154.02" r="3.95"/><circle cx="286.72" cy="197.98" r="3.95"/><circle cx="528.37" cy="104.44" r="3.95"/><circle cx="401.61" cy="120.33" r="3.95"/><circle cx="466.66" cy="120.97" r="3.95"/><circle cx="274.85" cy="191.04" r="3.95"/><circle cx="365.15" cy="132.9" r="3.95"/><circle cx="494.21" cy="127.54" r="3.95"/><circle cx="536.61" cy="116.6" r="3.95"/><circle cx="457.07" cy="137.4" r="3.95"/><circle cx="529.17" cy="98.01" r="3.95"/><circle cx="531.49" cy="114.49" r="3.95"/><circle cx="452.97" cy="128.27" r="3.95"/><circle cx="444.88" cy="163.48" r="3.95"/><circle cx="461.67" cy="119.97" r="3.95"/><circle cx="526.49" cy="119.53" r="3.95"/><circle cx="411.92" cy="140.21" r="3.95"/><circle cx="461.67" cy="121.8" r="3.95"/><circle cx="399.72" cy="140.2" r="3.95"/><circle cx="436.72" cy="109.31" r="3.95"/><circle cx="475.61" cy="99.6" r="3.95"/><circle cx="486.08" cy="96.69" r="3.95"/><circle cx="593.81" cy="116.24" r="3.95"/><circle cx="539.36" cy="97.84" r="3.95"/><circle cx="350.62" cy="150.16" r="3.95"/><circle cx="286.72" cy="152.41" r="3.95"/><circle cx="399.72" cy="185.59" r="3.95"/><circle cx="452.97" cy="160.03" r="3.95"/><circle cx="457.07" cy="90.7" r="3.95"/><circle cx="541.78" cy="112.73" r="3.95"/><circle cx="531.49" cy="84.57" r="3.95"/><circle cx="296.76" cy="144.56" r="3.95"/><circle cx="389.36" cy="119.78" r="3.95"/><circle cx="533.49" cy="116.34" r="3.95"/><circle cx="326.21" cy="163.77" r="3.95"/><circle cx="274.85" cy="177.16" r="3.95"/><circle cx="305.46" cy="176.57" r="3.95"/><circle cx="170" cy="211.61" r="3.95"/><circle cx="397.78" cy="114.98" r="3.95"/><circle cx="500.62" cy="106.39" r="3.95"/><circle cx="488.58" cy="117.75" r="3.95"/><circle cx="368.33" cy="110.45" r="3.95"/><circle cx="451.26" cy="147.89" r="3.95"/><circle cx="411.92" cy="131.58" r="3.95"/><circle cx="454.64" cy="98.74" r="3.95"/><circle cx="476.21" cy="128.85" r="3.95"/><circle cx="470.65" cy="122.43" r="3.95"/><circle cx="346.41" cy="112.52" r="3.95"/><circle cx="521.95" cy="112.5" r="3.95"/><circle cx="525.38" cy="123.44" r="3.95"/><circle cx="498.97" cy="118.1" r="3.95"/><circle cx="350.62" cy="130.38" r="3.95"/><circle cx="215.15" cy="174.49" r="3.95"/><circle cx="453.81" cy="105.11" r="3.95"/><circle cx="260.31" cy="213.14" r="3.95"/><circle cx="403.45" cy="139.04" r="3.95"/><circle cx="427.4" cy="129.18" r="3.95"/><circle cx="365.15" cy="112.68" r="3.95"/><circle cx="457.86" cy="111.33" r="3.95"/><circle cx="331.88" cy="135.06" r="3.95"/><circle cx="170" cy="188.23" r="3.95"/><circle cx="260.31" cy="163.36" r="3.95"/><circle cx="391.57" cy="101.61" r="3.95"/><circle cx="274.85" cy="143.37" r="3.95"/><circle cx="507.56" cy="115.33" r="3.95"/><circle cx="358.29" cy="172.41" r="3.95"/><circle cx="564.56" cy="109.66" r="3.95"/><circle cx="371.36" cy="165.42" r="3.95"/><circle cx="408.66" cy="93.52" r="3.95"/><circle cx="545.98" cy="94.67" r="3.95"/><circle cx="410.31" cy="100.95" r="3.95"/><circle cx="215.15" cy="162.88" r="3.95"/><circle cx="377.03" cy="136.13" r="3.95"/><circle cx="417.98" cy="107.03" r="3.95"/><circle cx="465.27" cy="89.56" r="3.95"/><circle cx="448.6" cy="111.89" r="3.95"/><circle cx="405.23" cy="148.4" r="3.95"/><circle cx="361.81" cy="138.07" r="3.95"/><circle cx="368.33" cy="151.96" r="3.95"/><circle cx="417.98" cy="100.68" r="3.95"/><circle cx="586.29" cy="110.06" r="3.95"/><circle cx="337.09" cy="166.22" r="3.95"/><circle cx="341.92" cy="196.53" r="3.95"/><circle cx="358.29" cy="114.09" r="3.95"/><circle cx="374.26" cy="120.33" r="3.95"/><circle cx="274.85" cy="186.78" r="3.95"/><circle cx="513.51" cy="122.91" r="3.95"/><circle cx="393.7" cy="129.73" r="3.95"/><circle cx="241.57" cy="194.92" r="3.95"/><circle cx="548.17" cy="102.8" r="3.95"/><circle cx="445.83" cy="121.75" r="3.95"/><circle cx="215.15" cy="229.89" r="3.95"/><circle cx="416.52" cy="147.54" r="3.95"/><circle cx="465.97" cy="98.76" r="3.95"/><circle cx="405.23" cy="174.87" r="3.95"/><circle cx="337.09" cy="138.96" r="3.95"/><circle cx="542.43" cy="99.59" r="3.95"/><circle cx="447.69" cy="171.12" r="3.95"/><circle cx="361.81" cy="109.52" r="3.95"/><circle cx="529.43" cy="120.83" r="3.95"/><circle cx="274.85" cy="150.47" r="3.95"/><circle cx="432.23" cy="120.38" r="3.95"/><circle cx="361.81" cy="134.41" r="3.95"/><circle cx="528.11" cy="96.72" r="3.95"/><circle cx="469.35" cy="91.86" r="3.95"/><circle cx="305.46" cy="140.44" r="3.95"/><circle cx="432.23" cy="132.42" r="3.95"/><circle cx="486.08" cy="102.1" r="3.95"/><circle cx="374.26" cy="162.72" r="3.95"/><circle cx="274.85" cy="143.4" r="3.95"/><circle cx="384.7" cy="166.02" r="3.95"/><circle cx="361.81" cy="152.69" r="3.95"/><circle cx="538.45" cy="87.8" r="3.95"/><circle cx="427.4" cy="125.32" r="3.95"/><circle cx="553.81" cy="110.3" r="3.95"/><circle cx="408.66" cy="121.78" r="3.95"/><circle cx="305.46" cy="161.04" r="3.95"/><circle cx="570.68" cy="71.39" r="3.95"/><circle cx="486.08" cy="147.39" r="3.95"/><circle cx="406.97" cy="119.38" r="3.95"/><circle cx="326.21" cy="161.68" r="3.95"/><circle cx="371.36" cy="180.68" r="3.95"/><circle cx="241.57" cy="139.59" r="3.95"/><circle cx="477.38" cy="143.66" r="3.95"/><circle cx="260.31" cy="173.77" r="3.95"/><circle cx="447.69" cy="100.54" r="3.95"/><circle cx="439.9" cy="107.96" r="3.95"/><circle cx="458.64" cy="143.42" r="3.95"/><circle cx="506.08" cy="104.62" r="3.95"/><circle cx="426.14" cy="126.1" r="3.95"/><circle cx="274.85" cy="212.92" r="3.95"/><circle cx="397.78" cy="118.46" r="3.95"/><circle cx="457.07" cy="117.6" r="3.95"/><circle cx="405.23" cy="102.15" r="3.95"/><circle cx="260.31" cy="175.9" r="3.95"/><circle cx="331.88" cy="168.07" r="3.95"/><circle cx="389.36" cy="124.33" r="3.95"/><circle cx="320" cy="113.13" r="3.95"/><circle cx="403.45" cy="106.81" r="3.95"/><circle cx="170" cy="177.28" r="3.95"/><circle cx="450.38" cy="118.92" r="3.95"/><circle cx="436.72" cy="120.72" r="3.95"/><circle cx="365.15" cy="143.8" r="3.95"/><circle cx="331.88" cy="167.26" r="3.95"/><circle cx="495.98" cy="120.2" r="3.95"/><circle cx="241.57" cy="198.12" r="3.95"/><circle cx="395.77" cy="116.58" r="3.95"/><circle cx="533.73" cy="106.01" r="3.95"/><circle cx="274.85" cy="193.22" r="3.95"/><circle cx="513.84" cy="97.67" r="3.95"/><circle cx="457.07" cy="92.22" r="3.95"/><circle cx="350.62" cy="129.64" r="3.95"/><circle cx="241.57" cy="150.94" r="3.95"/><circle cx="241.57" cy="156.25" r="3.95"/><circle cx="422.19" cy="151.5" r="3.95"/><circle cx="195.98" cy="209.1" r="3.95"/><circle cx="397.78" cy="119.79" r="3.95"/><circle cx="371.36" cy="153.61" r="3.95"/><circle cx="423.53" cy="133.85" r="3.95"/><circle cx="462.41" cy="86.92" r="3.95"/><circle cx="368.33" cy="112.36" r="3.95"/><circle cx="361.81" cy="163.8" r="3.95"/><circle cx="341.92" cy="121.99" r="3.95"/><circle cx="241.57" cy="171.02" r="3.95"/><circle cx="416.52" cy="131.52" r="3.95"/><circle cx="170" cy="142.18" r="3.95"/><circle cx="241.57" cy="157.66" r="3.95"/><circle cx="518.02" cy="126.12" r="3.95"/><circle cx="326.21" cy="173.84" r="3.95"/><circle cx="286.72" cy="139.91" r="3.95"/><circle cx="499.8" cy="132.26" r="3.95"/><circle cx="415.02" cy="119.15" r="3.95"/><circle cx="506.46" cy="105.66" r="3.95"/><circle cx="260.31" cy="197.74" r="3.95"/><circle cx="387.07" cy="118.36" r="3.95"/><circle cx="457.07" cy="143.54" r="3.95"/><circle cx="215.15" cy="178.24" r="3.95"/><circle cx="393.7" cy="118.25" r="3.95"/><circle cx="374.26" cy="121.28" r="3.95"/><circle cx="579.37" cy="90.68" r="3.95"/><circle cx="465.27" cy="126.21" r="3.95"/><circle cx="377.03" cy="140.65" r="3.95"/><circle cx="434.51" cy="95.64" r="3.95"/><circle cx="555.93" cy="100.87" r="3.95"/><circle cx="487.09" cy="110.17" r="3.95"/><circle cx="522.25" cy="97.13" r="3.95"/><circle cx="427.4" cy="117.89" r="3.95"/><circle cx="365.15" cy="135.83" r="3.95"/><circle cx="431.05" cy="112.12" r="3.95"/><circle cx="456.27" cy="132.77" r="3.95"/><circle cx="582.46" cy="95.85" r="3.95"/><circle cx="215.15" cy="184.38" r="3.95"/><circle cx="341.92" cy="126.52" r="3.95"/><circle cx="346.41" cy="118.79" r="3.95"/><circle cx="524.54" cy="115.08" r="3.95"/><circle cx="365.15" cy="135.24" r="3.95"/><circle cx="215.15" cy="188.88" r="3.95"/><circle cx="493.75" cy="77.82" r="3.95"/><circle cx="514.17" cy="139.72" r="3.95"/><circle cx="507.2" cy="138.02" r="3.95"/><circle cx="442.93" cy="144.34" r="3.95"/><circle cx="566.96" cy="100.21" r="3.95"/><circle cx="170" cy="194.24" r="3.95"/><circle cx="422.19" cy="122.55" r="3.95"/><circle cx="538.68" cy="86.19" r="3.95"/><circle cx="215.15" cy="199.6" r="3.95"/><circle cx="497.28" cy="117.47" r="3.95"/><circle cx="387.07" cy="163.25" r="3.95"/><circle cx="502.23" cy="110.92" r="3.95"/><circle cx="331.88" cy="137.99" r="3.95"/><circle cx="463.14" cy="109.1" r="3.95"/><circle cx="450.38" cy="116.47" r="3.95"/><circle cx="493.3" cy="100.22" r="3.95"/><circle cx="361.81" cy="174.57" r="3.95"/><circle cx="428.64" cy="147.28" r="3.95"/><circle cx="241.57" cy="149.41" r="3.95"/><circle cx="326.21" cy="178.13" r="3.95"/><circle cx="470.65" cy="121.38" r="3.95"/><circle cx="515.48" cy="88.66" r="3.95"/><circle cx="477.38" cy="104.88" r="3.95"/><circle cx="241.57" cy="142.69" r="3.95"/><circle cx="528.64" cy="92.93" r="3.95"/><circle cx="490.98" cy="139.76" r="3.95"/><circle cx="326.21" cy="147.69" r="3.95"/><circle cx="170" cy="177.45" r="3.95"/><circle cx="395.77" cy="151.73" r="3.95"/><circle cx="422.19" cy="124.47" r="3.95"/><circle cx="432.23" cy="97.09" r="3.95"/><circle cx="320" cy="173.92" r="3.95"/><circle cx="358.29" cy="101.26" r="3.95"/><circle cx="350.62" cy="145.76" r="3.95"/><circle cx="460.17" cy="113.9" r="3.95"/><circle cx="552.53" cy="136.21" r="3.95"/><circle cx="274.85" cy="182.34" r="3.95"/><circle cx="358.29" cy="142.05" r="3.95"/><circle cx="241.57" cy="149.92" r="3.95"/><circle cx="433.38" cy="142.18" r="3.95"/><circle cx="433.38" cy="123.87" r="3.95"/><circle cx="445.83" cy="117" r="3.95"/><circle cx="374.26" cy="134.94" r="3.95"/><circle cx="493.3" cy="123.41" r="3.95"/><circle cx="361.81" cy="171.83" r="3.95"/><circle cx="305.46" cy="142.67" r="3.95"/><circle cx="442.93" cy="154.11" r="3.95"/><circle cx="478.54" cy="96.03" r="3.95"/><circle cx="393.7" cy="130.56" r="3.95"/><circle cx="555.76" cy="92.49" r="3.95"/><circle cx="465.27" cy="163" r="3.95"/><circle cx="408.66" cy="135.66" r="3.95"/><circle cx="473.18" cy="125.11" r="3.95"/><circle cx="296.76" cy="112.27" r="3.95"/><circle cx="472.56" cy="101.11" r="3.95"/><circle cx="305.46" cy="159.75" r="3.95"/><circle cx="320" cy="135.94" r="3.95"/><circle cx="440.93" cy="127.93" r="3.95"/><circle cx="534.22" cy="112.27" r="3.95"/><circle cx="434.51" cy="83.96" r="3.95"/><circle cx="484.54" cy="99.08" r="3.95"/><circle cx="530.73" cy="115.27" r="3.95"/><circle cx="286.72" cy="137.76" r="3.95"/><circle cx="489.55" cy="129.43" r="3.95"/><circle cx="556.8" cy="114.59" r="3.95"/><circle cx="473.8" cy="112.01" r="3.95"/><circle cx="510.43" cy="93.77" r="3.95"/><circle cx="354.57" cy="146.64" r="3.95"/><circle cx="427.4" cy="92.73" r="3.95"/><circle cx="354.57" cy="186" r="3.95"/><circle cx="446.76" cy="122.82" r="3.95"/><circle cx="593.33" cy="73.37" r="3.95"/><circle cx="437.8" cy="181.1" r="3.95"/><circle cx="399.72" cy="101.67" r="3.95"/><circle cx="286.72" cy="119.94" r="3.95"/><circle cx="170" cy="182.64" r="3.95"/><circle cx="326.21" cy="133.07" r="3.95"/><circle cx="379.69" cy="157.55" r="3.95"/><circle cx="419.41" cy="164.56" r="3.95"/><circle cx="434.51" cy="115.3" r="3.95"/><circle cx="439.9" cy="119.14" r="3.95"/><circle cx="581.41" cy="107.39" r="3.95"/><circle cx="260.31" cy="168.35" r="3.95"/><circle cx="428.64" cy="151.76" r="3.95"/><circle cx="361.81" cy="131.29" r="3.95"/><circle cx="354.57" cy="175.86" r="3.95"/><circle cx="439.9" cy="107.33" r="3.95"/><circle cx="468.02" cy="95.27" r="3.95"/><circle cx="313.14" cy="115.24" r="3.95"/><circle cx="487.59" cy="118.81" r="3.95"/><circle cx="337.09" cy="125.42" r="3.95"/><circle cx="296.76" cy="164.88" r="3.95"/><circle cx="313.14" cy="129.36" r="3.95"/><circle cx="536.37" cy="91.64" r="3.95"/><circle cx="241.57" cy="176.26" r="3.95"/><circle cx="358.29" cy="149.6" r="3.95"/><circle cx="405.23" cy="138.04" r="3.95"/><circle cx="391.57" cy="151.53" r="3.95"/><circle cx="406.97" cy="110.3" r="3.95"/><circle cx="451.26" cy="99.04" r="3.95"/><circle cx="451.26" cy="122.63" r="3.95"/><circle cx="384.7" cy="147.09" r="3.95"/><circle cx="368.33" cy="161.5" r="3.95"/><circle cx="320" cy="134.13" r="3.95"/><circle cx="516.76" cy="100.14" r="3.95"/><circle cx="260.31" cy="150.93" r="3.95"/><circle cx="479.67" cy="129.13" r="3.95"/><circle cx="445.83" cy="120.53" r="3.95"/><circle cx="313.14" cy="167.44" r="3.95"/><circle cx="568.99" cy="86.93" r="3.95"/><circle cx="368.33" cy="130.79" r="3.95"/><circle cx="408.66" cy="134.47" r="3.95"/><circle cx="453.81" cy="112.03" r="3.95"/><circle cx="429.86" cy="133.84" r="3.95"/><circle cx="445.83" cy="151.81" r="3.95"/><circle cx="361.81" cy="130.25" r="3.95"/><circle cx="368.33" cy="140.38" r="3.95"/><circle cx="326.21" cy="197.58" r="3.95"/><circle cx="589.9" cy="104.9" r="3.95"/><circle cx="313.14" cy="127.71" r="3.95"/><circle cx="326.21" cy="111.87" r="3.95"/><circle cx="524.26" cy="122.55" r="3.95"/><circle cx="443.91" cy="123.61" r="3.95"/><circle cx="305.46" cy="165.61" r="3.95"/><circle cx="433.38" cy="115.12" r="3.95"/><circle cx="326.21" cy="173.9" r="3.95"/><circle cx="354.57" cy="109.29" r="3.95"/><circle cx="320" cy="143.58" r="3.95"/><circle cx="326.21" cy="138.81" r="3.95"/><circle cx="565.32" cy="122.18" r="3.95"/><circle cx="420.81" cy="120.87" r="3.95"/><circle cx="446.76" cy="154.13" r="3.95"/><circle cx="170" cy="230.03" r="3.95"/><circle cx="170" cy="198.59" r="3.95"/><circle cx="354.57" cy="157.71" r="3.95"/><circle cx="490.98" cy="97.55" r="3.95"/><circle cx="595.35" cy="96.49" r="3.95"/><circle cx="484.54" cy="106.51" r="3.95"/><circle cx="411.92" cy="159.51" r="3.95"/><circle cx="384.7" cy="155.45" r="3.95"/><circle cx="296.76" cy="171.34" r="3.95"/><circle cx="437.8" cy="134.3" r="3.95"/><circle cx="346.41" cy="101.77" r="3.95"/><circle cx="422.19" cy="135.19" r="3.95"/><circle cx="215.15" cy="150.71" r="3.95"/><circle cx="415.02" cy="123.75" r="3.95"/><circle cx="354.57" cy="118.9" r="3.95"/><circle cx="305.46" cy="144.61" r="3.95"/><circle cx="436.72" cy="129.25" r="3.95"/><circle cx="498.55" cy="125.11" r="3.95"/><circle cx="391.57" cy="125.91" r="3.95"/><circle cx="499.8" cy="137.94" r="3.95"/><circle cx="496.41" cy="112.46" r="3.95"/><circle cx="433.38" cy="107.35" r="3.95"/><circle cx="444.88" cy="83.44" r="3.95"/><circle cx="481.88" cy="122.85" r="3.95"/><circle cx="379.69" cy="134.02" r="3.95"/><circle cx="427.4" cy="127.2" r="3.95"/><circle cx="368.33" cy="115.9" r="3.95"/><circle cx="564.56" cy="102.56" r="3.95"/><circle cx="350.62" cy="127.4" r="3.95"/><circle cx="365.15" cy="142.31" r="3.95"/><circle cx="350.62" cy="148.11" r="3.95"/><circle cx="326.21" cy="127.74" r="3.95"/><circle cx="326.21" cy="118.21" r="3.95"/><circle cx="532.5" cy="102.84" r="3.95"/><circle cx="331.88" cy="170.11" r="3.95"/><circle cx="341.92" cy="144.9" r="3.95"/><circle cx="481.88" cy="94.4" r="3.95"/><circle cx="389.36" cy="115.87" r="3.95"/><circle cx="320" cy="143.71" r="3.95"/><circle cx="480.23" cy="119.33" r="3.95"/><circle cx="260.31" cy="145.23" r="3.95"/><circle cx="358.29" cy="152.27" r="3.95"/><circle cx="490.98" cy="110.61" r="3.95"/><circle cx="389.36" cy="157.73" r="3.95"/><circle cx="397.78" cy="107.69" r="3.95"/><circle cx="241.57" cy="201.59" r="3.95"/><circle cx="440.93" cy="108.69" r="3.95"/><circle cx="341.92" cy="113.1" r="3.95"/><circle cx="502.62" cy="121.9" r="3.95"/><circle cx="550.1" cy="108.07" r="3.95"/><circle cx="439.9" cy="137.21" r="3.95"/><circle cx="379.69" cy="180.78" r="3.95"/><circle cx="305.46" cy="108.35" r="3.95"/><circle cx="320" cy="171.29" r="3.95"/><circle cx="371.36" cy="139.36" r="3.95"/><circle cx="490.51" cy="144.61" r="3.95"/><circle cx="473.18" cy="165.63" r="3.95"/><circle cx="463.86" cy="87.41" r="3.95"/><circle cx="320" cy="156.09" r="3.95"/><circle cx="286.72" cy="139.57" r="3.95"/><circle cx="427.4" cy="146.92" r="3.95"/><circle cx="384.7" cy="126.56" r="3.95"/><circle cx="426.14" cy="128.98" r="3.95"/><circle cx="350.62" cy="142.55" r="3.95"/><circle cx="405.23" cy="142.16" r="3.95"/><circle cx="286.72" cy="173.35" r="3.95"/><circle cx="546.58" cy="114.63" r="3.95"/><circle cx="579.86" cy="107.71" r="3.95"/><circle cx="341.92" cy="149.11" r="3.95"/><circle cx="401.61" cy="134.68" r="3.95"/><circle cx="460.17" cy="104.55" r="3.95"/><circle cx="397.78" cy="123.97" r="3.95"/><circle cx="410.31" cy="159.55" r="3.95"/><circle cx="326.21" cy="151.05" r="3.95"/><circle cx="403.45" cy="161" r="3.95"/><circle cx="341.92" cy="166.92" r="3.95"/><circle cx="387.07" cy="147.26" r="3.95"/><circle cx="450.38" cy="123.69" r="3.95"/><circle cx="346.41" cy="152.36" r="3.95"/><circle cx="517.08" cy="117.93" r="3.95"/><circle cx="389.36" cy="115.18" r="3.95"/><circle cx="447.69" cy="77.27" r="3.95"/><circle cx="552.53" cy="68.09" r="3.95"/><circle cx="487.59" cy="115.38" r="3.95"/><circle cx="260.31" cy="190.12" r="3.95"/><circle cx="469.35" cy="121.98" r="3.95"/><circle cx="631.33" cy="77.03" r="3.95"/><circle cx="426.14" cy="146.61" r="3.95"/><circle cx="494.21" cy="107.15" r="3.95"/><circle cx="541.78" cy="92.04" r="3.95"/><circle cx="337.09" cy="131.65" r="3.95"/><circle cx="405.23" cy="120.66" r="3.95"/><circle cx="469.35" cy="126.04" r="3.95"/><circle cx="391.57" cy="171.05" r="3.95"/><circle cx="437.8" cy="133.92" r="3.95"/><circle cx="457.86" cy="118.8" r="3.95"/><circle cx="440.93" cy="103.13" r="3.95"/><circle cx="313.14" cy="121.68" r="3.95"/><circle cx="296.76" cy="188.09" r="3.95"/><circle cx="374.26" cy="142.51" r="3.95"/><circle cx="466.66" cy="92.46" r="3.95"/><circle cx="441.94" cy="97.95" r="3.95"/><circle cx="374.26" cy="166.19" r="3.95"/><circle cx="377.03" cy="161.68" r="3.95"/><circle cx="384.7" cy="114.8" r="3.95"/><circle cx="397.78" cy="136.33" r="3.95"/><circle cx="326.21" cy="143.69" r="3.95"/><circle cx="296.76" cy="178.6" r="3.95"/><circle cx="562.55" cy="80.68" r="3.95"/><circle cx="241.57" cy="207.69" r="3.95"/><circle cx="466.66" cy="131.31" r="3.95"/><circle cx="578.76" cy="98.49" r="3.95"/><circle cx="368.33" cy="129.32" r="3.95"/><circle cx="313.14" cy="144.63" r="3.95"/><circle cx="387.07" cy="154.9" r="3.95"/><circle cx="415.02" cy="123.4" r="3.95"/><circle cx="274.85" cy="193.13" r="3.95"/><circle cx="401.61" cy="167.93" r="3.95"/><circle cx="296.76" cy="135.73" r="3.95"/><circle cx="377.03" cy="140.09" r="3.95"/><circle cx="384.7" cy="102.42" r="3.95"/><circle cx="170" cy="173.2" r="3.95"/><circle cx="389.36" cy="84.41" r="3.95"/><circle cx="428.64" cy="170" r="3.95"/><circle cx="475.61" cy="119.18" r="3.95"/><circle cx="215.15" cy="217.99" r="3.95"/><circle cx="337.09" cy="133.52" r="3.95"/><circle cx="305.46" cy="163.1" r="3.95"/><circle cx="341.92" cy="128.78" r="3.95"/><circle cx="479.1" cy="120.44" r="3.95"/><circle cx="361.81" cy="170.44" r="3.95"/><circle cx="470" cy="113.64" r="3.95"/><circle cx="395.77" cy="170.26" r="3.95"/><circle cx="361.81" cy="124.84" r="3.95"/><circle cx="458.64" cy="126.24" r="3.95"/><circle cx="350.62" cy="138.49" r="3.95"/><circle cx="476.21" cy="108.62" r="3.95"/><circle cx="170" cy="221.74" r="3.95"/><circle cx="426.14" cy="126.79" r="3.95"/><circle cx="426.14" cy="123.73" r="3.95"/><circle cx="420.81" cy="101.67" r="3.95"/><circle cx="415.02" cy="130.55" r="3.95"/><circle cx="331.88" cy="192.69" r="3.95"/><circle cx="516.76" cy="122.7" r="3.95"/><circle cx="241.57" cy="178.96" r="3.95"/><circle cx="458.64" cy="107.85" r="3.95"/><circle cx="444.88" cy="98.51" r="3.95"/><circle cx="487.59" cy="131.33" r="3.95"/><circle cx="350.62" cy="162.75" r="3.95"/><circle cx="502.62" cy="110.33" r="3.95"/><circle cx="438.86" cy="111.67" r="3.95"/><circle cx="296.76" cy="156.47" r="3.95"/><circle cx="405.23" cy="94.37" r="3.95"/><circle cx="320" cy="136.34" r="3.95"/><circle cx="466.66" cy="116.24" r="3.95"/><circle cx="170" cy="205.72" r="3.95"/><circle cx="470" cy="114.2" r="3.95"/><circle cx="449.5" cy="116.66" r="3.95"/><circle cx="413.49" cy="138.04" r="3.95"/><circle cx="475.01" cy="135.2" r="3.95"/><circle cx="215.15" cy="214.77" r="3.95"/><circle cx="387.07" cy="171.26" r="3.95"/><circle cx="274.85" cy="189.18" r="3.95"/><circle cx="326.21" cy="143.38" r="3.95"/><circle cx="567.4" cy="116.01" r="3.95"/><circle cx="350.62" cy="151.22" r="3.95"/><circle cx="454.64" cy="114.47" r="3.95"/><circle cx="296.76" cy="143.68" r="3.95"/><circle cx="260.31" cy="192.39" r="3.95"/><circle cx="444.88" cy="115.08" r="3.95"/><circle cx="416.52" cy="106.36" r="3.95"/><circle cx="368.33" cy="101.72" r="3.95"/><circle cx="479.67" cy="161.56" r="3.95"/><circle cx="419.41" cy="110.6" r="3.95"/><circle cx="529.69" cy="112.56" r="3.95"/><circle cx="419.41" cy="140.57" r="3.95"/><circle cx="445.83" cy="134.53" r="3.95"/><circle cx="296.76" cy="125.82" r="3.95"/><circle cx="555.58" cy="125.56" r="3.95"/><circle cx="397.78" cy="150.24" r="3.95"/><circle cx="558.66" cy="86.89" r="3.95"/><circle cx="506.08" cy="106.67" r="3.95"/><circle cx="241.57" cy="180.89" r="3.95"/><circle cx="544.33" cy="118.57" r="3.95"/><circle cx="397.78" cy="175.59" r="3.95"/><circle cx="460.17" cy="118.26" r="3.95"/><circle cx="479.1" cy="147.28" r="3.95"/><circle cx="503.02" cy="117.3" r="3.95"/><circle cx="401.61" cy="146.24" r="3.95"/><circle cx="480.23" cy="84.05" r="3.95"/><circle cx="505.33" cy="135.76" r="3.95"/><circle cx="374.26" cy="146.72" r="3.95"/><circle cx="274.85" cy="180.75" r="3.95"/><circle cx="491.92" cy="90.95" r="3.95"/><circle cx="346.41" cy="153.35" r="3.95"/><circle cx="350.62" cy="114.51" r="3.95"/><circle cx="377.03" cy="111.69" r="3.95"/><circle cx="341.92" cy="142.6" r="3.95"/><circle cx="437.8" cy="114.92" r="3.95"/><circle cx="286.72" cy="170.57" r="3.95"/><circle cx="371.36" cy="157.95" r="3.95"/><circle cx="525.1" cy="105.51" r="3.95"/><circle cx="354.57" cy="130.38" r="3.95"/><circle cx="382.25" cy="127.67" r="3.95"/><circle cx="346.41" cy="136.87" r="3.95"/><circle cx="410.31" cy="89.76" r="3.95"/><circle cx="274.85" cy="152.87" r="3.95"/><circle cx="274.85" cy="148.88" r="3.95"/><circle cx="408.66" cy="111.28" r="3.95"/><circle cx="468.02" cy="136.45" r="3.95"/><circle cx="528.64" cy="101.02" r="3.95"/><circle cx="379.69" cy="123.47" r="3.95"/><circle cx="305.46" cy="173.31" r="3.95"/><circle cx="274.85" cy="168.85" r="3.95"/><circle cx="543.91" cy="91.63" r="3.95"/><circle cx="523.12" cy="98.26" r="3.95"/><circle cx="274.85" cy="182.19" r="3.95"/><circle cx="405.23" cy="135.4" r="3.95"/><circle cx="513.51" cy="143.45" r="3.95"/><circle cx="415.02" cy="158.13" r="3.95"/><circle cx="546.18" cy="119.05" r="3.95"/><circle cx="490.98" cy="106.99" r="3.95"/><circle cx="417.98" cy="120.75" r="3.95"/><circle cx="260.31" cy="138.16" r="3.95"/><circle cx="572.05" cy="67.32" r="3.95"/><circle cx="480.23" cy="143.95" r="3.95"/><circle cx="395.77" cy="108.57" r="3.95"/><circle cx="587.48" cy="102.47" r="3.95"/><circle cx="377.03" cy="106.53" r="3.95"/><circle cx="379.69" cy="120.79" r="3.95"/><circle cx="527.03" cy="129.97" r="3.95"/><circle cx="313.14" cy="173.25" r="3.95"/><circle cx="274.85" cy="152.45" r="3.95"/><circle cx="477.96" cy="121.1" r="3.95"/><circle cx="468.68" cy="126.68" r="3.95"/><circle cx="473.8" cy="140.67" r="3.95"/><circle cx="541.78" cy="114.7" r="3.95"/><circle cx="326.21" cy="145.35" r="3.95"/><circle cx="514.17" cy="100.59" r="3.95"/><circle cx="346.41" cy="158.39" r="3.95"/><circle cx="479.1" cy="97" r="3.95"/><circle cx="346.41" cy="107.08" r="3.95"/><circle cx="550.86" cy="99.22" r="3.95"/><circle cx="286.72" cy="165.57" r="3.95"/><circle cx="358.29" cy="150.65" r="3.95"/><circle cx="422.19" cy="127.76" r="3.95"/><circle cx="526.76" cy="124.05" r="3.95"/><circle cx="382.25" cy="128.16" r="3.95"/><circle cx="215.15" cy="170.81" r="3.95"/><circle cx="397.78" cy="166.48" r="3.95"/><circle cx="413.49" cy="111.26" r="3.95"/><circle cx="382.25" cy="138.68" r="3.95"/><circle cx="461.67" cy="150.36" r="3.95"/><circle cx="377.03" cy="139.97" r="3.95"/><circle cx="446.76" cy="93.57" r="3.95"/><circle cx="540.47" cy="133.1" r="3.95"/><circle cx="452.97" cy="106.82" r="3.95"/><circle cx="377.03" cy="164.69" r="3.95"/><circle cx="411.92" cy="89.76" r="3.95"/><circle cx="529.17" cy="118.17" r="3.95"/><circle cx="326.21" cy="171.59" r="3.95"/><circle cx="399.72" cy="176.1" r="3.95"/><circle cx="313.14" cy="158.75" r="3.95"/><circle cx="326.21" cy="134.74" r="3.95"/><circle cx="451.26" cy="128.4" r="3.95"/><circle cx="331.88" cy="174.02" r="3.95"/><circle cx="379.69" cy="162.51" r="3.95"/><circle cx="445.83" cy="138.13" r="3.95"/><circle cx="439.9" cy="156.46" r="3.95"/><circle cx="514.5" cy="130.97" r="3.95"/><circle cx="260.31" cy="160.59" r="3.95"/><circle cx="493.75" cy="106.65" r="3.95"/><circle cx="313.14" cy="137.6" r="3.95"/><circle cx="501.02" cy="103.15" r="3.95"/><circle cx="413.49" cy="158.45" r="3.95"/><circle cx="537.77" cy="115.13" r="3.95"/><circle cx="424.85" cy="137.72" r="3.95"/><circle cx="413.49" cy="125.47" r="3.95"/><circle cx="354.57" cy="128.66" r="3.95"/><circle cx="393.7" cy="134.04" r="3.95"/><circle cx="521.95" cy="101.68" r="3.95"/><circle cx="341.92" cy="128.76" r="3.95"/><circle cx="495.98" cy="111.14" r="3.95"/><circle cx="215.15" cy="183.29" r="3.95"/><circle cx="428.64" cy="164.88" r="3.95"/><circle cx="432.23" cy="92.48" r="3.95"/><circle cx="313.14" cy="101.32" r="3.95"/><circle cx="341.92" cy="181.78" r="3.95"/><circle cx="525.66" cy="106.15" r="3.95"/><circle cx="326.21" cy="159.82" r="3.95"/><circle cx="528.11" cy="95.67" r="3.95"/><circle cx="450.38" cy="130.35" r="3.95"/><circle cx="260.31" cy="163.72" r="3.95"/><circle cx="429.86" cy="120.29" r="3.95"/><circle cx="429.86" cy="126.81" r="3.95"/><circle cx="460.17" cy="136.79" r="3.95"/><circle cx="504.18" cy="112.65" r="3.95"/><circle cx="384.7" cy="132.41" r="3.95"/><circle cx="506.83" cy="93.86" r="3.95"/><circle cx="436.72" cy="133.73" r="3.95"/><circle cx="406.97" cy="140.82" r="3.95"/><circle cx="326.21" cy="156.44" r="3.95"/><circle cx="444.88" cy="104.93" r="3.95"/><circle cx="406.97" cy="132.75" r="3.95"/><circle cx="361.81" cy="165.22" r="3.95"/><circle cx="522.83" cy="136.33" r="3.95"/><circle cx="403.45" cy="142.84" r="3.95"/><circle cx="361.81" cy="150.49" r="3.95"/><circle cx="496.41" cy="122.19" r="3.95"/><circle cx="420.81" cy="100.78" r="3.95"/><circle cx="457.07" cy="121.53" r="3.95"/><circle cx="486.59" cy="149.12" r="3.95"/><circle cx="406.97" cy="96.15" r="3.95"/><circle cx="384.7" cy="157.01" r="3.95"/><circle cx="474.41" cy="134.64" r="3.95"/><circle cx="486.59" cy="98.86" r="3.95"/><circle cx="411.92" cy="125.07" r="3.95"/><circle cx="563.33" cy="119.86" r="3.95"/><circle cx="527.03" cy="145.96" r="3.95"/><circle cx="574.58" cy="107.4" r="3.95"/><circle cx="492.84" cy="129.42" r="3.95"/><circle cx="460.93" cy="153.25" r="3.95"/><circle cx="528.9" cy="129.6" r="3.95"/><circle cx="346.41" cy="128.29" r="3.95"/><circle cx="463.86" cy="134.96" r="3.95"/><circle cx="453.81" cy="101.99" r="3.95"/><circle cx="544.75" cy="110.25" r="3.95"/><circle cx="429.86" cy="170.13" r="3.95"/><circle cx="393.7" cy="137.45" r="3.95"/><circle cx="391.57" cy="132.31" r="3.95"/><circle cx="525.66" cy="122.86" r="3.95"/><circle cx="495.98" cy="115.49" r="3.95"/><circle cx="518.95" cy="107.61" r="3.95"/><circle cx="433.38" cy="124.02" r="3.95"/><circle cx="594.59" cy="102.35" r="3.95"/><circle cx="274.85" cy="167.73" r="3.95"/><circle cx="490.03" cy="119.68" r="3.95"/><circle cx="389.36" cy="84.66" r="3.95"/><circle cx="346.41" cy="108.23" r="3.95"/><circle cx="241.57" cy="183.39" r="3.95"/><circle cx="350.62" cy="125.92" r="3.95"/><circle cx="391.57" cy="124.78" r="3.95"/><circle cx="361.81" cy="170.6" r="3.95"/><circle cx="384.7" cy="136.86" r="3.95"/><circle cx="467.34" cy="114.61" r="3.95"/><circle cx="436.72" cy="163.64" r="3.95"/><circle cx="350.62" cy="107.56" r="3.95"/><circle cx="296.76" cy="167.18" r="3.95"/><circle cx="540.25" cy="93.74" r="3.95"/><circle cx="423.53" cy="149.36" r="3.95"/><circle cx="563.18" cy="111.08" r="3.95"/><circle cx="548.95" cy="101.91" r="3.95"/><circle cx="405.23" cy="176.89" r="3.95"/><circle cx="542.86" cy="107.76" r="3.95"/><circle cx="413.49" cy="145.52" r="3.95"/><circle cx="399.72" cy="160.64" r="3.95"/><circle cx="408.66" cy="139.55" r="3.95"/><circle cx="354.57" cy="195.91" r="3.95"/><circle cx="406.97" cy="160.74" r="3.95"/><circle cx="497.28" cy="112.24" r="3.95"/><circle cx="526.21" cy="121.58" r="3.95"/><circle cx="556.97" cy="123.83" r="3.95"/><circle cx="170" cy="190.39" r="3.95"/><circle cx="260.31" cy="150.76" r="3.95"/><circle cx="341.92" cy="150.03" r="3.95"/><circle cx="346.41" cy="155.7" r="3.95"/><circle cx="354.57" cy="127.7" r="3.95"/><circle cx="337.09" cy="160.83" r="3.95"/><circle cx="260.31" cy="158.78" r="3.95"/><circle cx="450.38" cy="126.38" r="3.95"/><circle cx="540.25" cy="91.58" r="3.95"/><circle cx="555.93" cy="118.39" r="3.95"/><circle cx="408.66" cy="127.1" r="3.95"/><circle cx="460.17" cy="133.62" r="3.95"/><circle cx="341.92" cy="147.54" r="3.95"/><circle cx="379.69" cy="127.04" r="3.95"/><circle cx="286.72" cy="196.31" r="3.95"/><circle cx="517.71" cy="102.47" r="3.95"/><circle cx="368.33" cy="154.11" r="3.95"/><circle cx="422.19" cy="115.2" r="3.95"/><circle cx="469.35" cy="130.68" r="3.95"/><circle cx="426.14" cy="112.76" r="3.95"/><circle cx="566.37" cy="101.39" r="3.95"/><circle cx="260.31" cy="183.65" r="3.95"/><circle cx="361.81" cy="142.03" r="3.95"/><circle cx="260.31" cy="201.51" r="3.95"/><circle cx="477.38" cy="117.67" r="3.95"/><circle cx="361.81" cy="140.57" r="3.95"/><circle cx="296.76" cy="167.18" r="3.95"/><circle cx="477.38" cy="139.63" r="3.95"/><circle cx="525.38" cy="103.09" r="3.95"/><circle cx="406.97" cy="144.66" r="3.95"/><circle cx="241.57" cy="165.14" r="3.95"/><circle cx="405.23" cy="118.61" r="3.95"/><circle cx="464.57" cy="136.17" r="3.95"/><circle cx="461.67" cy="119.15" r="3.95"/><circle cx="274.85" cy="176.45" r="3.95"/><circle cx="260.31" cy="186.99" r="3.95"/><circle cx="490.98" cy="132.63" r="3.95"/><circle cx="403.45" cy="151.16" r="3.95"/><circle cx="529.17" cy="104.29" r="3.95"/><circle cx="410.31" cy="95.03" r="3.95"/><circle cx="341.92" cy="147.71" r="3.95"/><circle cx="313.14" cy="156.54" r="3.95"/><circle cx="326.21" cy="191.89" r="3.95"/><circle cx="428.64" cy="133.98" r="3.95"/><circle cx="529.95" cy="95.47" r="3.95"/><circle cx="466.66" cy="121.03" r="3.95"/><circle cx="557.82" cy="99.47" r="3.95"/><circle cx="510.78" cy="91.43" r="3.95"/><circle cx="371.36" cy="122.13" r="3.95"/><circle cx="371.36" cy="152.08" r="3.95"/><circle cx="511.47" cy="122.46" r="3.95"/><circle cx="393.7" cy="172" r="3.95"/><circle cx="241.57" cy="182.12" r="3.95"/><circle cx="331.88" cy="144.1" r="3.95"/><circle cx="215.15" cy="138.67" r="3.95"/><circle cx="486.08" cy="99.15" r="3.95"/><circle cx="525.1" cy="99" r="3.95"/><circle cx="506.46" cy="123.36" r="3.95"/><circle cx="401.61" cy="154.36" r="3.95"/><circle cx="350.62" cy="191.74" r="3.95"/><circle cx="313.14" cy="168.45" r="3.95"/><circle cx="443.91" cy="133.03" r="3.95"/><circle cx="437.8" cy="142.38" r="3.95"/><circle cx="415.02" cy="116.86" r="3.95"/><circle cx="241.57" cy="105.88" r="3.95"/><circle cx="456.27" cy="131.49" r="3.95"/><circle cx="354.57" cy="126.51" r="3.95"/><circle cx="326.21" cy="148.99" r="3.95"/><circle cx="464.57" cy="94.39" r="3.95"/><circle cx="488.58" cy="114.85" r="3.95"/><circle cx="274.85" cy="155.71" r="3.95"/><circle cx="445.83" cy="143.46" r="3.95"/><circle cx="341.92" cy="134.57" r="3.95"/><circle cx="403.45" cy="155.87" r="3.95"/><circle cx="452.12" cy="111.22" r="3.95"/><circle cx="215.15" cy="173.24" r="3.95"/><circle cx="408.66" cy="154.79" r="3.95"/><circle cx="320" cy="162.38" r="3.95"/><circle cx="460.17" cy="130.41" r="3.95"/><circle cx="313.14" cy="125.96" r="3.95"/><circle cx="361.81" cy="146.72" r="3.95"/><circle cx="510.08" cy="119.26" r="3.95"/><circle cx="454.64" cy="158.74" r="3.95"/><circle cx="451.26" cy="107.81" r="3.95"/><circle cx="260.31" cy="159.04" r="3.95"/><circle cx="429.86" cy="158.83" r="3.95"/><circle cx="516.44" cy="137.42" r="3.95"/><circle cx="513.17" cy="119.18" r="3.95"/><circle cx="449.5" cy="148.21" r="3.95"/><circle cx="399.72" cy="169.96" r="3.95"/><circle cx="423.53" cy="124.06" r="3.95"/><circle cx="405.23" cy="86.7" r="3.95"/><circle cx="215.15" cy="191.21" r="3.95"/><circle cx="215.15" cy="202.6" r="3.95"/><circle cx="416.52" cy="156.11" r="3.95"/><circle cx="509.01" cy="112.47" r="3.95"/><circle cx="420.81" cy="118.81" r="3.95"/><circle cx="484.01" cy="146.6" r="3.95"/><circle cx="305.46" cy="130.03" r="3.95"/><circle cx="536.84" cy="100.22" r="3.95"/><circle cx="241.57" cy="195.16" r="3.95"/><circle cx="379.69" cy="163.73" r="3.95"/><circle cx="313.14" cy="127.3" r="3.95"/><circle cx="384.7" cy="133.42" r="3.95"/><circle cx="241.57" cy="199.1" r="3.95"/><circle cx="313.14" cy="141.86" r="3.95"/><circle cx="408.66" cy="138.95" r="3.95"/><circle cx="477.38" cy="99.96" r="3.95"/><circle cx="468.68" cy="144.84" r="3.95"/><circle cx="455.46" cy="147.66" r="3.95"/><circle cx="361.81" cy="134.74" r="3.95"/><circle cx="534.95" cy="103.52" r="3.95"/><circle cx="536.84" cy="97.11" r="3.95"/><circle cx="521.95" cy="98.42" r="3.95"/><circle cx="462.41" cy="146.52" r="3.95"/><circle cx="326.21" cy="129.43" r="3.95"/><circle cx="382.25" cy="156.91" r="3.95"/><circle cx="498.55" cy="139.41" r="3.95"/><circle cx="458.64" cy="95.21" r="3.95"/><circle cx="538.68" cy="102.63" r="3.95"/><circle cx="530.98" cy="98.57" r="3.95"/><circle cx="170" cy="195.83" r="3.95"/><circle cx="565.17" cy="89.5" r="3.95"/><circle cx="358.29" cy="173.59" r="3.95"/><circle cx="387.07" cy="119.56" r="3.95"/><circle cx="506.08" cy="117.75" r="3.95"/><circle cx="313.14" cy="177.63" r="3.95"/><circle cx="241.57" cy="190.36" r="3.95"/><circle cx="410.31" cy="155.67" r="3.95"/><circle cx="170" cy="179.1" r="3.95"/><circle cx="557.65" cy="108.66" r="3.95"/><circle cx="531.49" cy="82.36" r="3.95"/><circle cx="429.86" cy="124.15" r="3.95"/><circle cx="241.57" cy="198.88" r="3.95"/><circle cx="410.31" cy="170.33" r="3.95"/><circle cx="470" cy="125.77" r="3.95"/><circle cx="401.61" cy="121.3" r="3.95"/><circle cx="503.41" cy="100.59" r="3.95"/><circle cx="384.7" cy="106.2" r="3.95"/><circle cx="350.62" cy="133.3" r="3.95"/><circle cx="431.05" cy="116.57" r="3.95"/><circle cx="574.58" cy="72.54" r="3.95"/><circle cx="443.91" cy="86.51" r="3.95"/><circle cx="476.21" cy="138.76" r="3.95"/><circle cx="416.52" cy="133.43" r="3.95"/><circle cx="405.23" cy="91.91" r="3.95"/><circle cx="491.92" cy="150.29" r="3.95"/><circle cx="413.49" cy="103.81" r="3.95"/><circle cx="305.46" cy="196.09" r="3.95"/><circle cx="371.36" cy="114.8" r="3.95"/><circle cx="377.03" cy="128.9" r="3.95"/><circle cx="460.93" cy="96.7" r="3.95"/><circle cx="371.36" cy="151.81" r="3.95"/><circle cx="365.15" cy="152.15" r="3.95"/><circle cx="341.92" cy="121.59" r="3.95"/><circle cx="170" cy="188.94" r="3.95"/><circle cx="260.31" cy="211.1" r="3.95"/><circle cx="405.23" cy="163.29" r="3.95"/><circle cx="260.31" cy="197.58" r="3.95"/><circle cx="453.81" cy="130.4" r="3.95"/><circle cx="559.65" cy="71.69" r="3.95"/><circle cx="393.7" cy="146.4" r="3.95"/><circle cx="470.65" cy="85.95" r="3.95"/><circle cx="471.93" cy="124.44" r="3.95"/><circle cx="286.72" cy="165.4" r="3.95"/><circle cx="571.5" cy="119.77" r="3.95"/><circle cx="516.44" cy="113.43" r="3.95"/><circle cx="537.07" cy="107.35" r="3.95"/><circle cx="326.21" cy="171.3" r="3.95"/><circle cx="490.51" cy="126.27" r="3.95"/><circle cx="413.49" cy="162.01" r="3.95"/><circle cx="519.56" cy="117.07" r="3.95"/><circle cx="241.57" cy="182.82" r="3.95"/><circle cx="506.46" cy="138.28" r="3.95"/><circle cx="395.77" cy="98.26" r="3.95"/><circle cx="365.15" cy="157.23" r="3.95"/><circle cx="476.21" cy="126.81" r="3.95"/><circle cx="509.01" cy="99.35" r="3.95"/><circle cx="326.21" cy="204.13" r="3.95"/><circle cx="241.57" cy="196.78" r="3.95"/><circle cx="384.7" cy="164.26" r="3.95"/><circle cx="508.29" cy="89.04" r="3.95"/><circle cx="447.69" cy="122.09" r="3.95"/><circle cx="341.92" cy="158.29" r="3.95"/><circle cx="505.71" cy="147.74" r="3.95"/><circle cx="438.86" cy="70.95" r="3.95"/><circle cx="260.31" cy="153.54" r="3.95"/><circle cx="341.92" cy="157.33" r="3.95"/><circle cx="408.66" cy="142.79" r="3.95"/><circle cx="452.12" cy="134.58" r="3.95"/><circle cx="437.8" cy="133.55" r="3.95"/><circle cx="458.64" cy="137.86" r="3.95"/><circle cx="435.63" cy="105.1" r="3.95"/><circle cx="361.81" cy="159.13" r="3.95"/><circle cx="358.29" cy="178.61" r="3.95"/><circle cx="427.4" cy="101.76" r="3.95"/><circle cx="456.27" cy="74.32" r="3.95"/><circle cx="286.72" cy="139.11" r="3.95"/><circle cx="458.64" cy="112.49" r="3.95"/><circle cx="426.14" cy="119.56" r="3.95"/><circle cx="326.21" cy="162.68" r="3.95"/><circle cx="531.74" cy="90.24" r="3.95"/><circle cx="215.15" cy="187.95" r="3.95"/><circle cx="512.16" cy="114.92" r="3.95"/><circle cx="537.77" cy="103.18" r="3.95"/><circle cx="274.85" cy="177.63" r="3.95"/><circle cx="365.15" cy="159.3" r="3.95"/><circle cx="286.72" cy="155.86" r="3.95"/><circle cx="444.88" cy="126.51" r="3.95"/><circle cx="411.92" cy="143.49" r="3.95"/><circle cx="413.49" cy="138.25" r="3.95"/><circle cx="382.25" cy="132.43" r="3.95"/><circle cx="391.57" cy="158.94" r="3.95"/><circle cx="241.57" cy="178.28" r="3.95"/><circle cx="470.65" cy="95.3" r="3.95"/><circle cx="397.78" cy="123.55" r="3.95"/><circle cx="337.09" cy="135.34" r="3.95"/><circle cx="389.36" cy="144.37" r="3.95"/><circle cx="337.09" cy="158.22" r="3.95"/><circle cx="379.69" cy="115.73" r="3.95"/><circle cx="464.57" cy="82.61" r="3.95"/><circle cx="439.9" cy="118.52" r="3.95"/><circle cx="286.72" cy="151.56" r="3.95"/><circle cx="527.03" cy="100.92" r="3.95"/><circle cx="170" cy="175.55" r="3.95"/><circle cx="384.7" cy="129.98" r="3.95"/><circle cx="170" cy="195.69" r="3.95"/><circle cx="494.21" cy="99.13" r="3.95"/><circle cx="320" cy="135.99" r="3.95"/><circle cx="326.21" cy="128.05" r="3.95"/><circle cx="331.88" cy="147.21" r="3.95"/><circle cx="358.29" cy="131.77" r="3.95"/><circle cx="170" cy="227.76" r="3.95"/><circle cx="354.57" cy="167.59" r="3.95"/><circle cx="170" cy="186.06" r="3.95"/><circle cx="466.66" cy="90.49" r="3.95"/><circle cx="456.27" cy="81.35" r="3.95"/><circle cx="393.7" cy="137.45" r="3.95"/><circle cx="326.21" cy="171.64" r="3.95"/><circle cx="521.66" cy="143.81" r="3.95"/><circle cx="215.15" cy="167.47" r="3.95"/><circle cx="527.57" cy="120.95" r="3.95"/><circle cx="296.76" cy="151.07" r="3.95"/><circle cx="495.1" cy="104.36" r="3.95"/><circle cx="549.91" cy="108.1" r="3.95"/><circle cx="568.84" cy="101.79" r="3.95"/><circle cx="389.36" cy="138.18" r="3.95"/><circle cx="286.72" cy="167.79" r="3.95"/><circle cx="387.07" cy="117.46" r="3.95"/><circle cx="484.01" cy="110.38" r="3.95"/><circle cx="241.57" cy="156.77" r="3.95"/><circle cx="371.36" cy="166.45" r="3.95"/><circle cx="426.14" cy="124.15" r="3.95"/><circle cx="382.25" cy="135.48" r="3.95"/><circle cx="491.45" cy="131.76" r="3.95"/><circle cx="540.47" cy="112.54" r="3.95"/><circle cx="241.57" cy="201.86" r="3.95"/><circle cx="274.85" cy="146.29" r="3.95"/><circle cx="470" cy="142.53" r="3.95"/><circle cx="260.31" cy="185.18" r="3.95"/><circle cx="401.61" cy="110.73" r="3.95"/><circle cx="553.81" cy="102.95" r="3.95"/><circle cx="489.55" cy="119.73" r="3.95"/><circle cx="391.57" cy="143.94" r="3.95"/><circle cx="326.21" cy="161.16" r="3.95"/><circle cx="429.86" cy="103.57" r="3.95"/><circle cx="541.78" cy="84.76" r="3.95"/><circle cx="434.51" cy="131.21" r="3.95"/><circle cx="391.57" cy="108.93" r="3.95"/><circle cx="502.62" cy="75.02" r="3.95"/><circle cx="473.18" cy="113.87" r="3.95"/><circle cx="486.59" cy="112.77" r="3.95"/><circle cx="326.21" cy="162.31" r="3.95"/><circle cx="525.94" cy="122.85" r="3.95"/><circle cx="399.72" cy="121.81" r="3.95"/><circle cx="326.21" cy="123.67" r="3.95"/><circle cx="492.38" cy="114.26" r="3.95"/><circle cx="469.35" cy="156.49" r="3.95"/><circle cx="456.27" cy="96.34" r="3.95"/><circle cx="458.64" cy="115.81" r="3.95"/><circle cx="260.31" cy="154.36" r="3.95"/><circle cx="422.19" cy="150.12" r="3.95"/><circle cx="260.31" cy="178.74" r="3.95"/><circle cx="497.7" cy="116.72" r="3.95"/><circle cx="510.78" cy="92.25" r="3.95"/><circle cx="416.52" cy="135.85" r="3.95"/><circle cx="481.88" cy="102.56" r="3.95"/><circle cx="462.41" cy="139.22" r="3.95"/><circle cx="326.21" cy="183.25" r="3.95"/><circle cx="436.72" cy="124.67" r="3.95"/><circle cx="408.66" cy="134.01" r="3.95"/><circle cx="502.62" cy="100.7" r="3.95"/><circle cx="215.15" cy="185.42" r="3.95"/><circle cx="241.57" cy="132.23" r="3.95"/><circle cx="379.69" cy="123.73" r="3.95"/><circle cx="326.21" cy="114.73" r="3.95"/><circle cx="494.21" cy="122.09" r="3.95"/><circle cx="507.56" cy="93.96" r="3.95"/><circle cx="379.69" cy="151.05" r="3.95"/><circle cx="215.15" cy="159.32" r="3.95"/><circle cx="496.41" cy="122.88" r="3.95"/><circle cx="504.57" cy="93.31" r="3.95"/><circle cx="471.93" cy="104.34" r="3.95"/><circle cx="371.36" cy="178.46" r="3.95"/><circle cx="431.05" cy="129.81" r="3.95"/><circle cx="215.15" cy="179.06" r="3.95"/><circle cx="584.4" cy="97.45" r="3.95"/><circle cx="537.54" cy="110.77" r="3.95"/><circle cx="399.72" cy="94.65" r="3.95"/><circle cx="420.81" cy="159.06" r="3.95"/><circle cx="552.35" cy="115.35" r="3.95"/><circle cx="405.23" cy="136.78" r="3.95"/><circle cx="477.96" cy="114.07" r="3.95"/><circle cx="443.91" cy="133.3" r="3.95"/><circle cx="337.09" cy="175.85" r="3.95"/><circle cx="387.07" cy="191.02" r="3.95"/><circle cx="555.41" cy="119.13" r="3.95"/><circle cx="557.31" cy="103.41" r="3.95"/><circle cx="437.8" cy="120.13" r="3.95"/><circle cx="382.25" cy="143.87" r="3.95"/><circle cx="260.31" cy="180.87" r="3.95"/><circle cx="499.8" cy="130.58" r="3.95"/><circle cx="447.69" cy="146.73" r="3.95"/><circle cx="496.85" cy="85.82" r="3.95"/><circle cx="488.09" cy="121.76" r="3.95"/><circle cx="361.81" cy="132.03" r="3.95"/><circle cx="331.88" cy="116.54" r="3.95"/><circle cx="493.3" cy="130.11" r="3.95"/><circle cx="361.81" cy="169.35" r="3.95"/><circle cx="561.44" cy="105.74" r="3.95"/><circle cx="445.83" cy="107.01" r="3.95"/><circle cx="466.66" cy="148.87" r="3.95"/><circle cx="530.47" cy="107.72" r="3.95"/><circle cx="482.95" cy="116.88" r="3.95"/><circle cx="241.57" cy="178.04" r="3.95"/><circle cx="379.69" cy="149.04" r="3.95"/><circle cx="320" cy="200.38" r="3.95"/><circle cx="551.42" cy="69.72" r="3.95"/><circle cx="544.95" cy="77.87" r="3.95"/><circle cx="490.51" cy="91.02" r="3.95"/><circle cx="455.46" cy="82.51" r="3.95"/><circle cx="395.77" cy="109.03" r="3.95"/><circle cx="403.45" cy="134.46" r="3.95"/><circle cx="382.25" cy="157.89" r="3.95"/><circle cx="420.81" cy="122.32" r="3.95"/><circle cx="358.29" cy="142.02" r="3.95"/><circle cx="393.7" cy="141.68" r="3.95"/><circle cx="438.86" cy="127.61" r="3.95"/><circle cx="446.76" cy="132.74" r="3.95"/><circle cx="374.26" cy="188.07" r="3.95"/><circle cx="387.07" cy="127.85" r="3.95"/><circle cx="341.92" cy="188.79" r="3.95"/><circle cx="439.9" cy="116.52" r="3.95"/><circle cx="305.46" cy="125.39" r="3.95"/><circle cx="326.21" cy="131.94" r="3.95"/><circle cx="320" cy="127.13" r="3.95"/><circle cx="346.41" cy="169.28" r="3.95"/><circle cx="512.16" cy="110.54" r="3.95"/><circle cx="350.62" cy="156.83" r="3.95"/><circle cx="170" cy="154.3" r="3.95"/><circle cx="377.03" cy="178" r="3.95"/><circle cx="337.09" cy="169.6" r="3.95"/><circle cx="496.85" cy="104.47" r="3.95"/><circle cx="512.16" cy="98.84" r="3.95"/><circle cx="337.09" cy="173.5" r="3.95"/><circle cx="567.84" cy="91.75" r="3.95"/><circle cx="427.4" cy="78.46" r="3.95"/><circle cx="513.51" cy="121.79" r="3.95"/><circle cx="534.7" cy="99.19" r="3.95"/><circle cx="389.36" cy="122.12" r="3.95"/><circle cx="455.46" cy="113.8" r="3.95"/><circle cx="346.41" cy="141.63" r="3.95"/><circle cx="399.72" cy="112.11" r="3.95"/><circle cx="393.7" cy="152.58" r="3.95"/><circle cx="521.66" cy="108.97" r="3.95"/><circle cx="502.23" cy="126.31" r="3.95"/><circle cx="475.61" cy="118.95" r="3.95"/><circle cx="495.54" cy="125.36" r="3.95"/><circle cx="459.41" cy="131.3" r="3.95"/><circle cx="436.72" cy="117.82" r="3.95"/><circle cx="475.61" cy="86.79" r="3.95"/><circle cx="215.15" cy="163.93" r="3.95"/><circle cx="393.7" cy="117.84" r="3.95"/><circle cx="415.02" cy="152.52" r="3.95"/><circle cx="403.45" cy="139.62" r="3.95"/><circle cx="506.46" cy="102.27" r="3.95"/><circle cx="441.94" cy="138.2" r="3.95"/><circle cx="371.36" cy="106.91" r="3.95"/><circle cx="408.66" cy="127.73" r="3.95"/><circle cx="453.81" cy="134.89" r="3.95"/><circle cx="502.23" cy="89.53" r="3.95"/><circle cx="170" cy="185.73" r="3.95"/><circle cx="399.72" cy="113.46" r="3.95"/><circle cx="422.19" cy="146.2" r="3.95"/><circle cx="568.7" cy="95.34" r="3.95"/><circle cx="463.86" cy="120.93" r="3.95"/><circle cx="547.78" cy="104.67" r="3.95"/><circle cx="465.97" cy="152.2" r="3.95"/><circle cx="403.45" cy="154.71" r="3.95"/><circle cx="510.08" cy="124.06" r="3.95"/><circle cx="438.86" cy="108.94" r="3.95"/><circle cx="465.97" cy="85.61" r="3.95"/><circle cx="241.57" cy="152.49" r="3.95"/><circle cx="533.24" cy="122.66" r="3.95"/><circle cx="475.01" cy="123.59" r="3.95"/><circle cx="554.88" cy="93.55" r="3.95"/><circle cx="449.5" cy="104.24" r="3.95"/><circle cx="446.76" cy="104.21" r="3.95"/><circle cx="477.96" cy="115.12" r="3.95"/><circle cx="441.94" cy="136.19" r="3.95"/><circle cx="274.85" cy="196.19" r="3.95"/><circle cx="320" cy="146.51" r="3.95"/><circle cx="451.26" cy="134.92" r="3.95"/><circle cx="389.36" cy="149.05" r="3.95"/><circle cx="331.88" cy="176.17" r="3.95"/><circle cx="260.31" cy="139.37" r="3.95"/><circle cx="470" cy="136.93" r="3.95"/><circle cx="465.27" cy="119.14" r="3.95"/><circle cx="473.18" cy="133.17" r="3.95"/><circle cx="424.85" cy="165.67" r="3.95"/><circle cx="456.27" cy="134.14" r="3.95"/><circle cx="441.94" cy="136.19" r="3.95"/><circle cx="429.86" cy="108.18" r="3.95"/><circle cx="509.72" cy="95.09" r="3.95"/><circle cx="460.93" cy="134.44" r="3.95"/><circle cx="305.46" cy="175.57" r="3.95"/><circle cx="442.93" cy="86.65" r="3.95"/><circle cx="397.78" cy="156.41" r="3.95"/><circle cx="431.05" cy="118.97" r="3.95"/><circle cx="384.7" cy="136.19" r="3.95"/><circle cx="241.57" cy="156.14" r="3.95"/><circle cx="505.33" cy="107.45" r="3.95"/><circle cx="417.98" cy="127.36" r="3.95"/><circle cx="471.29" cy="74.46" r="3.95"/><circle cx="459.41" cy="107.86" r="3.95"/><circle cx="350.62" cy="144.81" r="3.95"/><circle cx="541.78" cy="131.94" r="3.95"/><circle cx="434.51" cy="114.68" r="3.95"/><circle cx="215.15" cy="177.47" r="3.95"/><circle cx="479.1" cy="115.96" r="3.95"/><circle cx="495.1" cy="101.73" r="3.95"/><circle cx="469.35" cy="147.88" r="3.95"/><circle cx="468.02" cy="106.47" r="3.95"/><circle cx="555.41" cy="126.79" r="3.95"/><circle cx="471.29" cy="131.72" r="3.95"/><circle cx="410.31" cy="134.72" r="3.95"/><circle cx="452.97" cy="79.19" r="3.95"/><circle cx="346.41" cy="183.44" r="3.95"/><circle cx="397.78" cy="126.36" r="3.95"/><circle cx="305.46" cy="116.37" r="3.95"/><circle cx="296.76" cy="164.22" r="3.95"/><circle cx="350.62" cy="125.53" r="3.95"/><circle cx="384.7" cy="122.11" r="3.95"/><circle cx="337.09" cy="139.83" r="3.95"/><circle cx="485.06" cy="110.69" r="3.95"/><circle cx="391.57" cy="146.79" r="3.95"/><circle cx="354.57" cy="146.96" r="3.95"/><circle cx="411.92" cy="131.56" r="3.95"/><circle cx="519.26" cy="119.54" r="3.95"/><circle cx="337.09" cy="151.85" r="3.95"/><circle cx="415.02" cy="82.35" r="3.95"/><circle cx="558.32" cy="100.26" r="3.95"/><circle cx="536.61" cy="112.35" r="3.95"/><circle cx="377.03" cy="103.67" r="3.95"/><circle cx="170" cy="179.24" r="3.95"/><circle cx="354.57" cy="95.97" r="3.95"/></g><g fill="#0303c6"><circle cx="365.15" cy="175.61" r="3.95"/><circle cx="410.31" cy="106.95" r="3.95"/><circle cx="296.76" cy="178.2" r="3.95"/><circle cx="395.77" cy="106.81" r="3.95"/><circle cx="520.47" cy="105.26" r="3.95"/><circle cx="494.65" cy="118.42" r="3.95"/><circle cx="463.86" cy="141.16" r="3.95"/><circle cx="391.57" cy="127.28" r="3.95"/><circle cx="368.33" cy="173.87" r="3.95"/><circle cx="411.92" cy="111.85" r="3.95"/><circle cx="423.53" cy="119.69" r="3.95"/><circle cx="215.15" cy="163.98" r="3.95"/><circle cx="455.46" cy="120.38" r="3.95"/><circle cx="556.1" cy="122.64" r="3.95"/><circle cx="389.36" cy="134.92" r="3.95"/><circle cx="434.51" cy="122.06" r="3.95"/><circle cx="448.6" cy="128.63" r="3.95"/><circle cx="393.7" cy="144.81" r="3.95"/><circle cx="403.45" cy="138.66" r="3.95"/><circle cx="331.88" cy="150.39" r="3.95"/><circle cx="382.25" cy="126.45" r="3.95"/><circle cx="432.23" cy="128.76" r="3.95"/><circle cx="389.36" cy="89.63" r="3.95"/><circle cx="441.94" cy="117.06" r="3.95"/><circle cx="350.62" cy="131.96" r="3.95"/><circle cx="452.12" cy="114.41" r="3.95"/><circle cx="449.5" cy="157.47" r="3.95"/><circle cx="393.7" cy="161.83" r="3.95"/><circle cx="331.88" cy="108.35" r="3.95"/><circle cx="465.97" cy="103.88" r="3.95"/><circle cx="450.38" cy="119.92" r="3.95"/><circle cx="331.88" cy="154.38" r="3.95"/><circle cx="449.5" cy="84.69" r="3.95"/><circle cx="413.49" cy="108.07" r="3.95"/><circle cx="424.85" cy="118.12" r="3.95"/><circle cx="408.66" cy="186.59" r="3.95"/><circle cx="434.51" cy="122.99" r="3.95"/><circle cx="447.69" cy="95.55" r="3.95"/><circle cx="361.81" cy="110.53" r="3.95"/><circle cx="542" cy="84.85" r="3.95"/><circle cx="377.03" cy="164.8" r="3.95"/><circle cx="397.78" cy="129.98" r="3.95"/><circle cx="389.36" cy="163.9" r="3.95"/><circle cx="416.52" cy="132.23" r="3.95"/><circle cx="497.28" cy="132.92" r="3.95"/><circle cx="457.07" cy="134.26" r="3.95"/><circle cx="413.49" cy="128.92" r="3.95"/><circle cx="296.76" cy="174.61" r="3.95"/><circle cx="389.36" cy="113.09" r="3.95"/><circle cx="455.46" cy="146.54" r="3.95"/><circle cx="508.65" cy="121.96" r="3.95"/><circle cx="436.72" cy="102.51" r="3.95"/><circle cx="457.07" cy="111.16" r="3.95"/><circle cx="424.85" cy="137.65" r="3.95"/><circle cx="415.02" cy="145.98" r="3.95"/><circle cx="556.28" cy="112.22" r="3.95"/><circle cx="457.07" cy="86.95" r="3.95"/><circle cx="337.09" cy="143.44" r="3.95"/><circle cx="488.58" cy="103.86" r="3.95"/><circle cx="471.29" cy="117.08" r="3.95"/><circle cx="448.6" cy="156.61" r="3.95"/><circle cx="424.85" cy="142.8" r="3.95"/><circle cx="488.58" cy="129.87" r="3.95"/><circle cx="525.38" cy="120.31" r="3.95"/><circle cx="397.78" cy="143.08" r="3.95"/><circle cx="399.72" cy="129.74" r="3.95"/><circle cx="489.07" cy="101.12" r="3.95"/><circle cx="507.56" cy="81" r="3.95"/><circle cx="326.21" cy="134.99" r="3.95"/><circle cx="501.83" cy="99.42" r="3.95"/><circle cx="395.77" cy="125.84" r="3.95"/><circle cx="470.65" cy="85.35" r="3.95"/><circle cx="354.57" cy="152.06" r="3.95"/><circle cx="490.98" cy="124.2" r="3.95"/><circle cx="358.29" cy="134.81" r="3.95"/><circle cx="460.17" cy="111.37" r="3.95"/><circle cx="485.57" cy="90.98" r="3.95"/><circle cx="331.88" cy="119.84" r="3.95"/><circle cx="361.81" cy="141.31" r="3.95"/><circle cx="296.76" cy="153.35" r="3.95"/><circle cx="326.21" cy="149.69" r="3.95"/><circle cx="431.05" cy="150.75" r="3.95"/><circle cx="406.97" cy="138.5" r="3.95"/><circle cx="465.27" cy="130.43" r="3.95"/><circle cx="451.26" cy="142.69" r="3.95"/><circle cx="395.77" cy="115.54" r="3.95"/><circle cx="296.76" cy="143.09" r="3.95"/><circle cx="440.93" cy="87.94" r="3.95"/><circle cx="241.57" cy="196.11" r="3.95"/><circle cx="320" cy="134.32" r="3.95"/><circle cx="286.72" cy="152.91" r="3.95"/><circle cx="411.92" cy="159.47" r="3.95"/><circle cx="479.1" cy="102.22" r="3.95"/><circle cx="449.5" cy="152.11" r="3.95"/><circle cx="350.62" cy="155.13" r="3.95"/><circle cx="507.2" cy="134.2" r="3.95"/><circle cx="371.36" cy="122.27" r="3.95"/><circle cx="358.29" cy="144.95" r="3.95"/><circle cx="485.57" cy="110.14" r="3.95"/><circle cx="313.14" cy="130.67" r="3.95"/><circle cx="326.21" cy="159.62" r="3.95"/><circle cx="389.36" cy="120.67" r="3.95"/><circle cx="361.81" cy="158.22" r="3.95"/><circle cx="368.33" cy="146.44" r="3.95"/><circle cx="426.14" cy="168.87" r="3.95"/><circle cx="393.7" cy="138.19" r="3.95"/><circle cx="460.93" cy="86.4" r="3.95"/><circle cx="413.49" cy="152.41" r="3.95"/><circle cx="432.23" cy="140.32" r="3.95"/><circle cx="480.23" cy="155.25" r="3.95"/><circle cx="423.53" cy="128.53" r="3.95"/><circle cx="495.1" cy="137.77" r="3.95"/><circle cx="368.33" cy="122.61" r="3.95"/><circle cx="305.46" cy="162.46" r="3.95"/><circle cx="406.97" cy="159.02" r="3.95"/><circle cx="434.51" cy="122.25" r="3.95"/><circle cx="326.21" cy="126.1" r="3.95"/><circle cx="326.21" cy="166.65" r="3.95"/><circle cx="331.88" cy="168.77" r="3.95"/><circle cx="354.57" cy="157.05" r="3.95"/><circle cx="379.69" cy="136.87" r="3.95"/><circle cx="326.21" cy="131.5" r="3.95"/><circle cx="519.56" cy="87.42" r="3.95"/><circle cx="413.49" cy="128.6" r="3.95"/><circle cx="326.21" cy="141.18" r="3.95"/><circle cx="358.29" cy="158.08" r="3.95"/><circle cx="488.09" cy="126.55" r="3.95"/><circle cx="470" cy="137.7" r="3.95"/><circle cx="365.15" cy="132.93" r="3.95"/><circle cx="358.29" cy="167.36" r="3.95"/><circle cx="365.15" cy="97.58" r="3.95"/><circle cx="455.46" cy="158.45" r="3.95"/><circle cx="413.49" cy="160.38" r="3.95"/><circle cx="432.23" cy="134.61" r="3.95"/><circle cx="401.61" cy="140.65" r="3.95"/><circle cx="458.64" cy="88.17" r="3.95"/><circle cx="379.69" cy="126.62" r="3.95"/><circle cx="371.36" cy="153.41" r="3.95"/><circle cx="326.21" cy="173.93" r="3.95"/><circle cx="393.7" cy="154.65" r="3.95"/><circle cx="405.23" cy="142.18" r="3.95"/><circle cx="488.09" cy="126.76" r="3.95"/><circle cx="446.76" cy="115.84" r="3.95"/><circle cx="354.57" cy="115.53" r="3.95"/><circle cx="501.83" cy="102.42" r="3.95"/><circle cx="387.07" cy="117.72" r="3.95"/><circle cx="384.7" cy="125.27" r="3.95"/><circle cx="354.57" cy="139.25" r="3.95"/><circle cx="465.27" cy="128.49" r="3.95"/><circle cx="410.31" cy="125.51" r="3.95"/><circle cx="346.41" cy="184.48" r="3.95"/><circle cx="331.88" cy="140.57" r="3.95"/><circle cx="539.58" cy="124.67" r="3.95"/><circle cx="423.53" cy="178.86" r="3.95"/><circle cx="503.8" cy="91.41" r="3.95"/><circle cx="337.09" cy="155.52" r="3.95"/><circle cx="429.86" cy="106.14" r="3.95"/><circle cx="393.7" cy="110.58" r="3.95"/><circle cx="447.69" cy="150.92" r="3.95"/><circle cx="358.29" cy="145.79" r="3.95"/><circle cx="487.09" cy="149.29" r="3.95"/><circle cx="426.14" cy="138.37" r="3.95"/><circle cx="440.93" cy="131.68" r="3.95"/><circle cx="384.7" cy="108.91" r="3.95"/><circle cx="405.23" cy="123.93" r="3.95"/><circle cx="504.18" cy="116.65" r="3.95"/><circle cx="354.57" cy="142.03" r="3.95"/><circle cx="587.8" cy="114.63" r="3.95"/><circle cx="427.4" cy="124.42" r="3.95"/><circle cx="431.05" cy="124.73" r="3.95"/><circle cx="438.86" cy="135.06" r="3.95"/><circle cx="354.57" cy="120.99" r="3.95"/><circle cx="506.46" cy="139.49" r="3.95"/><circle cx="371.36" cy="160.14" r="3.95"/><circle cx="525.66" cy="101.82" r="3.95"/><circle cx="389.36" cy="156.93" r="3.95"/><circle cx="474.41" cy="132.39" r="3.95"/><circle cx="326.21" cy="144.98" r="3.95"/><circle cx="463.86" cy="107.6" r="3.95"/><circle cx="326.21" cy="153.52" r="3.95"/><circle cx="462.41" cy="158.66" r="3.95"/><circle cx="494.21" cy="129.75" r="3.95"/><circle cx="389.36" cy="124.65" r="3.95"/><circle cx="473.18" cy="88.28" r="3.95"/><circle cx="377.03" cy="127.87" r="3.95"/><circle cx="377.03" cy="173.32" r="3.95"/><circle cx="440.93" cy="119.7" r="3.95"/><circle cx="397.78" cy="182.39" r="3.95"/><circle cx="274.85" cy="160.72" r="3.95"/><circle cx="401.61" cy="131.2" r="3.95"/><circle cx="435.63" cy="100.51" r="3.95"/><circle cx="406.97" cy="184.69" r="3.95"/><circle cx="508.29" cy="113.83" r="3.95"/><circle cx="436.72" cy="165.12" r="3.95"/><circle cx="397.78" cy="145.77" r="3.95"/><circle cx="506.46" cy="117.58" r="3.95"/><circle cx="411.92" cy="139.41" r="3.95"/><circle cx="408.66" cy="132.16" r="3.95"/><circle cx="391.57" cy="112.37" r="3.95"/><circle cx="447.69" cy="133.88" r="3.95"/><circle cx="556.8" cy="73.38" r="3.95"/><circle cx="469.35" cy="78.58" r="3.95"/><circle cx="470.65" cy="138.23" r="3.95"/><circle cx="482.42" cy="126.43" r="3.95"/><circle cx="460.17" cy="107.2" r="3.95"/><circle cx="427.4" cy="115.97" r="3.95"/><circle cx="461.67" cy="95.35" r="3.95"/><circle cx="371.36" cy="147.23" r="3.95"/><circle cx="382.25" cy="109.45" r="3.95"/><circle cx="358.29" cy="108.7" r="3.95"/><circle cx="458.64" cy="131.72" r="3.95"/><circle cx="422.19" cy="159.91" r="3.95"/><circle cx="379.69" cy="111.31" r="3.95"/><circle cx="444.88" cy="101.41" r="3.95"/><circle cx="405.23" cy="118.42" r="3.95"/><circle cx="331.88" cy="193.61" r="3.95"/><circle cx="452.12" cy="124.01" r="3.95"/><circle cx="438.86" cy="94.26" r="3.95"/><circle cx="471.93" cy="158.4" r="3.95"/><circle cx="305.46" cy="156.09" r="3.95"/><circle cx="420.81" cy="140.63" r="3.95"/><circle cx="326.21" cy="131.44" r="3.95"/><circle cx="331.88" cy="163.15" r="3.95"/><circle cx="473.8" cy="91.51" r="3.95"/><circle cx="432.23" cy="169.41" r="3.95"/><circle cx="341.92" cy="166.43" r="3.95"/><circle cx="433.38" cy="123.31" r="3.95"/><circle cx="466.66" cy="77.69" r="3.95"/><circle cx="382.25" cy="114.04" r="3.95"/><circle cx="326.21" cy="113.96" r="3.95"/><circle cx="361.81" cy="114.48" r="3.95"/><circle cx="305.46" cy="167.77" r="3.95"/><circle cx="374.26" cy="158" r="3.95"/><circle cx="493.75" cy="96.79" r="3.95"/><circle cx="427.4" cy="114.9" r="3.95"/><circle cx="371.36" cy="138.42" r="3.95"/><circle cx="552.72" cy="94.63" r="3.95"/><circle cx="387.07" cy="150.91" r="3.95"/><circle cx="483.49" cy="83.48" r="3.95"/><circle cx="410.31" cy="129.87" r="3.95"/><circle cx="428.64" cy="106.44" r="3.95"/><circle cx="371.36" cy="133.48" r="3.95"/><circle cx="341.92" cy="169.7" r="3.95"/><circle cx="286.72" cy="161.94" r="3.95"/><circle cx="459.41" cy="143.56" r="3.95"/><circle cx="377.03" cy="187.34" r="3.95"/><circle cx="411.92" cy="89.52" r="3.95"/><circle cx="540.69" cy="77.44" r="3.95"/><circle cx="411.92" cy="111.99" r="3.95"/><circle cx="451.26" cy="147.47" r="3.95"/><circle cx="432.23" cy="132.28" r="3.95"/><circle cx="405.23" cy="149.23" r="3.95"/><circle cx="462.41" cy="136.58" r="3.95"/><circle cx="382.25" cy="138.53" r="3.95"/><circle cx="518.02" cy="105.36" r="3.95"/><circle cx="419.41" cy="128.59" r="3.95"/><circle cx="417.98" cy="154.14" r="3.95"/><circle cx="419.41" cy="133.91" r="3.95"/><circle cx="470.65" cy="124.06" r="3.95"/></g></g></g>
<rect x="419" y="236" width="231" height="69" fill="#fff"/>
<circle cx="439.1" cy="260.7" r="3.95" fill="#1797f7" stroke="#04101a" stroke-width="1.7"/>
<circle cx="439.1" cy="287.45" r="3.95" fill="#0303c6" stroke="#04101a" stroke-width="1.7"/>
<text x="454.4" y="268" font-size="23.4">subset <tspan font-style="italic">K</tspan> = {2000}</text>
<text x="454.4" y="294.8" font-size="23.4">subset <tspan font-style="italic">Z</tspan> = {259}</text>
<path d="M124.85 319.1v4.2M125 319.1h-4.2M136.72 319.1v3M125 312.61h-3M146.76 319.1v3M125 307.12h-3M155.46 319.1v3M125 302.37h-3M163.14 319.1v3M125 298.18h-3M170 319.1v5M125 294.43h-5M215.15 319.1v3M125 269.76h-3M241.57 319.1v3M125 255.33h-3M260.31 319.1v3M125 245.1h-3M274.85 319.1v3M125 237.16h-3M286.72 319.1v3M125 230.67h-3M296.76 319.1v3M125 225.18h-3M305.46 319.1v3M125 220.43h-3M313.14 319.1v3M125 216.24h-3M320 319.1v5M125 212.49h-5M365.15 319.1v3M125 187.82h-3M391.57 319.1v3M125 173.39h-3M410.31 319.1v3M125 163.16h-3M424.85 319.1v3M125 155.22h-3M436.72 319.1v3M125 148.73h-3M446.76 319.1v3M125 143.24h-3M455.46 319.1v3M125 138.49h-3M463.14 319.1v3M125 134.3h-3M470 319.1v5M125 130.55h-5M515.15 319.1v3M125 105.88h-3M541.57 319.1v3M125 91.45h-3M560.31 319.1v3M125 81.22h-3M574.85 319.1v3M125 73.28h-3M586.72 319.1v3M125 66.79h-3M596.76 319.1v3M125 61.3h-3M605.46 319.1v3M125 56.55h-3M613.14 319.1v3M125 52.36h-3M620 319.1v5M125 48.61h-5M125 23.94h-4.2" stroke="#000" stroke-width="1.75" fill="none"/>
<rect x="125" y="23.95" width="540" height="295.15" fill="none" stroke="#000" stroke-width="2"/>
<text x="160.5" y="339.9" font-size="20" text-anchor="start">10<tspan dy="-7" font-size="10.2">0</tspan></text><text x="112.2" y="306.83" font-size="20" text-anchor="end">10<tspan dy="-7" font-size="10.2">0</tspan></text><text x="310.5" y="339.9" font-size="20" text-anchor="start">10<tspan dy="-7" font-size="10.2">1</tspan></text><text x="112.2" y="224.89" font-size="20" text-anchor="end">10<tspan dy="-7" font-size="10.2">1</tspan></text><text x="460.5" y="339.9" font-size="20" text-anchor="start">10<tspan dy="-7" font-size="10.2">2</tspan></text><text x="112.2" y="145.45" font-size="20" text-anchor="end">10<tspan dy="-7" font-size="10.2">2</tspan></text><text x="610.5" y="339.9" font-size="20" text-anchor="start">10<tspan dy="-7" font-size="10.2">3</tspan></text><text x="112.2" y="61.01" font-size="20" text-anchor="end">10<tspan dy="-7" font-size="10.2">3</tspan></text>
<text x="393.3" y="370.3" font-size="26" text-anchor="middle">Rainfall duration, D (hr)</text>
<text transform="translate(60,175.5) rotate(-90)" font-size="26" text-anchor="middle">Cumulated rainfall, <tspan font-style="italic">E</tspan> (mm)</text>
<text x="0" y="37.8" font-size="44">A</text>
</g>
<g id="panelB">
<rect x="125" y="401.95" width="540" height="295.15" fill="#f1eef6"/>
<g clip-path="url(#clipB)"><g filter="url(#blur)"><path d="M115.0 560.9 116.3 558.0 117.4 556.0 119.0 553.7 121.0 551.1 123.0 548.9 125.0 546.9 127.0 545.0 129.0 543.3 131.0 541.7 133.3 540.0 136.1 538.0 139.0 536.0 141.0 534.6 143.0 533.3 145.2 532.0 148.5 530.0 151.0 528.5 153.0 527.3 155.5 526.0 159.0 524.0 161.0 522.9 163.0 521.8 166.7 520.0 169.0 518.8 171.0 517.8 174.9 516.0 177.0 515.0 179.3 514.0 183.0 512.3 185.0 511.5 188.9 509.9 191.0 509.1 194.3 508.0 197.0 506.9 200.0 505.9 203.0 504.9 206.2 503.9 209.0 503.1 212.9 502.0 215.0 501.3 219.0 500.3 221.0 499.8 225.0 498.7 228.5 497.9 231.0 497.3 235.0 496.5 237.4 495.9 241.0 495.2 245.0 494.4 247.3 493.9 251.0 493.2 255.0 492.4 257.7 491.9 261.0 491.3 265.0 490.6 268.4 489.9 271.0 489.4 275.0 488.7 278.7 487.9 281.0 487.5 285.0 486.6 288.3 485.9 291.0 485.3 295.0 484.4 297.1 483.9 301.0 483.0 305.0 482.0 307.0 481.4 311.0 480.4 313.0 479.8 317.0 478.7 319.6 477.9 323.0 476.9 326.4 475.9 329.0 475.1 332.9 473.9 335.0 473.3 339.0 472.0 341.0 471.4 345.0 470.1 347.0 469.5 351.0 468.2 353.0 467.6 357.0 466.3 359.0 465.7 363.0 464.5 365.0 463.9 369.0 462.6 371.3 461.9 375.0 460.8 378.1 459.9 381.0 459.1 385.0 458.0 387.0 457.4 391.0 456.3 393.0 455.8 397.0 454.7 399.9 453.9 403.0 453.1 407.0 452.2 409.0 451.7 413.0 450.7 416.3 449.9 419.0 449.3 423.0 448.4 425.4 447.9 429.0 447.2 433.0 446.3 435.1 445.9 439.0 445.2 443.0 444.4 445.6 443.9 449.0 443.3 453.0 442.6 457.0 442.0 459.0 441.6 463.0 441.0 467.0 440.3 469.5 439.9 473.0 439.4 477.0 438.7 481.0 438.1 483.0 437.8 487.0 437.1 491.0 436.4 493.6 435.9 497.0 435.3 501.0 434.5 503.8 433.9 507.0 433.3 511.0 432.4 513.1 431.9 517.0 431.0 521.0 430.2 523.0 429.7 527.0 428.8 531.0 428.0 533.0 427.5 537.0 426.7 541.0 426.0 543.0 425.6 547.0 424.9 551.0 424.3 553.8 423.9 557.0 423.5 561.0 423.1 565.0 422.8 569.0 422.6 573.0 422.5 577.0 422.4 581.0 422.5 585.0 422.7 589.0 423.0 593.0 423.5 596.3 423.9 599.0 424.3 603.0 425.0 607.0 425.8 609.0 426.2 613.0 427.0 617.0 427.9 619.0 428.4 623.0 429.4 625.1 429.9 629.0 431.0 632.0 431.9 635.0 432.9 637.7 433.9 641.0 435.4 643.0 436.4 645.8 437.9 648.6 439.9 650.8 441.9 652.5 443.9 653.8 445.9 655.0 449.3 655.5 451.9 655.3 455.9 654.9 457.9 653.5 461.9 652.7 463.9 651.0 467.1 649.4 469.9 648.1 471.9 646.8 473.9 645.0 476.8 643.0 479.9 641.7 481.9 640.3 483.9 639.0 485.9 637.0 488.8 635.0 491.5 633.1 493.9 631.4 495.9 629.7 497.9 627.8 499.9 625.9 502.0 623.8 504.0 621.7 505.9 619.4 507.9 617.0 509.9 615.0 511.6 613.0 513.1 611.0 514.6 609.0 516.0 606.3 518.0 603.3 520.0 601.0 521.5 599.0 522.7 597.0 524.0 593.6 526.0 591.0 527.5 589.0 528.6 586.5 530.0 583.0 531.8 581.0 532.9 578.9 534.0 575.0 535.9 573.0 536.9 570.7 538.0 567.0 539.7 565.0 540.6 561.9 542.0 559.0 543.2 557.0 544.1 553.0 545.8 551.0 546.6 547.6 548.0 545.0 549.0 542.6 550.0 539.0 551.3 537.0 552.1 533.0 553.6 531.0 554.3 527.0 555.7 525.0 556.4 521.0 557.8 519.0 558.5 515.0 559.8 513.0 560.4 509.0 561.7 507.0 562.4 503.0 563.6 501.0 564.2 497.0 565.4 494.9 566.0 491.0 567.1 487.8 568.0 485.0 568.7 481.0 569.8 479.0 570.3 475.0 571.3 472.5 572.0 469.0 572.8 465.0 573.8 463.0 574.2 459.0 575.2 455.3 576.0 453.0 576.5 449.0 577.3 445.8 578.0 443.0 578.5 439.0 579.3 435.6 580.0 433.0 580.5 429.0 581.2 425.0 581.9 423.0 582.3 419.0 583.0 415.0 583.6 413.0 584.0 409.0 584.6 405.0 585.3 401.0 585.9 399.0 586.3 395.0 586.9 391.0 587.5 388.4 588.0 385.0 588.5 381.0 589.2 377.0 589.8 375.0 590.2 371.0 590.9 367.0 591.5 364.5 592.0 361.0 592.6 357.0 593.3 353.2 594.0 351.0 594.4 347.0 595.1 343.0 595.8 341.0 596.2 337.0 597.0 333.0 597.7 331.0 598.1 327.0 598.9 323.0 599.6 321.0 600.0 317.0 600.7 313.0 601.4 310.1 602.0 307.0 602.5 303.0 603.2 299.0 603.9 297.0 604.2 293.0 604.9 289.0 605.5 285.7 606.0 283.0 606.4 279.0 606.9 275.0 607.4 271.0 607.9 269.0 608.1 265.0 608.5 261.0 608.9 257.0 609.2 253.0 609.5 249.0 609.8 245.0 609.9 243.0 610.0 239.0 610.1 235.0 610.2 231.0 610.2 227.0 610.2 223.0 610.1 219.4 610.0 217.0 609.8 213.0 609.6 209.0 609.4 205.0 609.0 201.0 608.6 197.0 608.2 195.0 607.9 191.0 607.4 187.0 606.9 183.0 606.3 181.0 606.0 177.0 605.3 173.0 604.6 169.7 604.0 167.0 603.4 163.0 602.6 160.3 602.0 157.0 601.2 153.0 600.1 151.0 599.6 147.0 598.3 145.0 597.7 141.0 596.2 139.0 595.5 135.6 594.0 133.0 592.7 131.0 591.6 128.1 590.0 125.2 588.0 123.0 586.2 121.0 584.4 119.0 582.3 117.2 580.0 116.0 578.0 115.0 575.8Z" fill="#efe9f3"/><path d="M567.0 433.9 571.0 433.8 575.0 433.8 578.6 433.9 581.0 434.1 585.0 434.4 589.0 434.8 593.0 435.3 597.0 435.9 599.0 436.2 603.0 436.9 607.0 437.6 609.0 438.0 613.0 438.9 617.0 439.9 619.0 440.5 623.0 441.9 625.0 442.7 627.5 443.9 630.6 445.9 632.8 448.0 634.2 450.0 635.1 451.9 635.6 455.9 635.0 458.8 633.7 462.0 632.6 463.9 631.0 466.3 629.0 468.9 627.0 471.3 625.0 473.6 623.0 475.8 621.1 477.9 619.3 479.9 617.6 481.9 615.8 483.9 614.1 486.0 612.3 487.9 610.5 489.9 608.7 491.9 606.8 493.9 604.8 495.9 602.7 497.9 600.5 499.9 598.2 501.9 595.8 503.9 593.2 505.9 591.0 507.6 589.0 509.0 587.0 510.4 584.6 511.9 581.4 514.0 579.0 515.4 577.0 516.6 574.6 518.0 571.0 519.9 569.0 521.0 567.0 522.0 563.2 524.0 561.0 525.1 559.0 526.0 555.0 528.0 553.0 528.9 550.8 530.0 547.0 531.7 545.0 532.6 542.1 534.0 539.0 535.3 537.0 536.2 533.0 537.9 531.0 538.7 527.9 540.0 525.0 541.1 522.7 542.0 519.0 543.4 517.0 544.1 513.0 545.5 511.0 546.1 507.0 547.5 505.0 548.1 501.0 549.3 498.8 550.0 495.0 551.1 491.8 552.0 489.0 552.8 485.0 553.8 483.0 554.4 479.0 555.4 476.7 556.0 473.0 556.9 469.0 557.9 467.0 558.4 463.0 559.3 460.2 560.0 457.0 560.7 453.0 561.6 451.0 562.0 447.0 562.9 443.0 563.7 441.0 564.1 437.0 564.9 433.0 565.7 431.0 566.0 427.0 566.8 423.0 567.5 420.2 568.0 417.0 568.5 413.0 569.2 409.0 569.8 407.0 570.2 403.0 570.9 399.0 571.5 396.3 572.0 393.0 572.5 389.0 573.2 385.0 573.9 383.0 574.2 379.0 575.0 375.0 575.7 373.0 576.1 369.0 576.8 365.0 577.6 363.0 578.0 359.0 578.8 355.0 579.6 353.0 580.0 349.0 580.8 345.0 581.6 343.0 582.0 339.0 582.9 335.0 583.7 333.0 584.1 329.0 585.0 325.0 585.8 323.0 586.2 319.0 587.0 315.0 587.8 313.0 588.2 309.0 589.0 305.0 589.8 303.0 590.1 299.0 590.9 295.0 591.6 292.8 592.0 289.0 592.6 285.0 593.2 281.0 593.8 279.0 594.1 275.0 594.7 271.0 595.1 267.0 595.6 263.2 595.9 261.0 596.2 257.0 596.5 253.0 596.8 249.0 597.0 245.0 597.1 241.0 597.2 237.0 597.3 233.0 597.2 229.0 597.1 225.0 597.0 221.0 596.8 217.0 596.5 213.0 596.2 210.2 596.0 207.0 595.7 203.0 595.2 199.0 594.8 195.0 594.3 192.4 594.0 189.0 593.5 185.0 593.0 181.0 592.3 178.6 592.0 175.0 591.3 171.0 590.6 168.0 590.0 165.0 589.3 161.0 588.2 159.0 587.6 155.0 586.3 153.0 585.5 149.4 584.0 147.0 582.7 145.0 581.5 142.7 580.0 140.3 578.0 138.5 576.0 137.0 573.7 135.5 570.0 135.2 566.0 136.1 562.0 137.0 560.0 139.0 556.8 141.0 554.3 143.0 552.3 145.0 550.5 147.0 548.8 149.0 547.3 151.0 545.9 154.0 544.0 157.0 542.1 159.0 540.9 161.0 539.7 164.2 538.0 167.0 536.4 169.0 535.4 171.7 534.0 175.0 532.2 177.0 531.2 179.5 530.0 183.0 528.2 185.0 527.2 187.7 526.0 191.0 524.4 193.0 523.5 196.7 522.0 199.0 521.0 201.6 520.0 205.0 518.6 207.0 517.9 211.0 516.5 213.0 515.8 217.0 514.5 219.0 513.9 223.0 512.7 225.8 511.9 229.0 511.1 233.0 510.1 235.0 509.6 239.0 508.7 242.5 508.0 245.0 507.4 249.0 506.6 252.4 505.9 255.0 505.4 259.0 504.7 263.0 504.0 265.0 503.6 269.0 502.9 273.0 502.3 275.0 501.9 279.0 501.2 283.0 500.5 286.0 499.9 289.0 499.4 293.0 498.6 296.3 497.9 299.0 497.4 303.0 496.5 305.8 496.0 309.0 495.2 313.0 494.3 315.0 493.8 319.0 492.8 322.3 492.0 325.0 491.2 329.0 490.1 331.0 489.5 335.0 488.4 337.0 487.8 341.0 486.5 343.0 485.8 347.0 484.5 349.0 483.8 353.0 482.4 355.0 481.8 359.0 480.4 361.0 479.7 365.0 478.4 367.0 477.7 371.0 476.4 373.0 475.8 377.0 474.6 379.2 473.9 383.0 472.8 386.3 471.9 389.0 471.1 393.0 470.1 395.0 469.6 399.0 468.6 401.8 467.9 405.0 467.1 409.0 466.2 411.0 465.8 415.0 464.9 419.0 464.0 421.0 463.6 425.0 462.7 429.0 461.9 431.0 461.5 435.0 460.7 439.0 460.0 441.0 459.6 445.0 458.8 449.0 458.2 451.0 457.8 455.0 457.1 459.0 456.5 462.2 455.9 465.0 455.5 469.0 454.8 473.0 454.1 475.0 453.8 479.0 453.1 483.0 452.3 485.0 451.9 489.0 451.1 493.0 450.2 495.0 449.7 499.0 448.7 501.8 447.9 505.0 447.1 509.0 446.0 511.0 445.4 515.0 444.2 517.0 443.6 521.0 442.5 523.0 441.9 527.0 440.8 530.1 440.0 533.0 439.2 537.0 438.2 539.0 437.7 543.0 436.9 547.0 436.1 549.0 435.8 553.0 435.1 557.0 434.6 561.0 434.2 565.0 434.0 567.0 433.9Z" fill="#ebe2f0"/><path d="M551.0 441.9 555.0 441.3 559.0 440.9 563.0 440.6 567.0 440.4 571.0 440.3 575.0 440.4 579.0 440.6 583.0 440.9 587.0 441.3 591.0 441.8 593.0 442.1 597.0 442.7 601.0 443.4 603.6 443.9 607.0 444.7 611.0 445.9 613.0 446.6 616.1 447.9 619.0 449.7 621.0 451.6 622.6 454.0 623.2 455.9 623.0 459.0 622.1 461.9 621.0 463.9 619.0 466.8 617.0 469.3 615.0 471.6 613.0 473.7 611.0 475.9 609.0 477.9 607.2 479.9 605.3 481.9 603.4 483.9 601.6 485.9 599.7 488.0 597.7 489.9 595.7 491.9 593.6 493.9 591.3 496.0 589.0 497.9 587.0 499.6 585.0 501.1 583.0 502.6 581.0 504.0 578.1 506.0 575.0 507.9 573.0 509.2 571.0 510.4 568.3 511.9 565.0 513.8 563.0 514.9 561.0 516.0 557.4 518.0 555.0 519.2 553.0 520.3 549.9 522.0 547.0 523.5 545.0 524.6 542.4 526.0 539.0 527.8 537.0 528.8 534.8 530.0 531.0 531.8 529.0 532.8 526.5 534.0 523.0 535.6 521.0 536.4 517.2 538.0 515.0 538.9 512.0 540.0 509.0 541.0 506.2 542.0 503.0 543.0 499.7 544.0 497.0 544.8 493.0 545.8 491.0 546.4 487.0 547.4 484.2 548.0 481.0 548.7 477.0 549.6 474.9 550.0 471.0 550.8 467.0 551.5 464.3 552.0 461.0 552.6 457.0 553.3 453.0 553.9 451.0 554.3 447.0 554.9 443.0 555.6 440.3 556.0 437.0 556.5 433.0 557.2 429.0 557.8 427.0 558.1 423.0 558.7 419.0 559.3 415.0 560.0 413.0 560.3 409.0 560.9 405.0 561.6 402.6 562.0 399.0 562.6 395.0 563.2 391.0 563.9 389.0 564.3 385.0 565.0 381.0 565.7 379.0 566.1 375.0 566.9 371.0 567.7 369.0 568.1 365.0 568.9 361.0 569.8 359.0 570.2 355.0 571.1 351.0 571.9 349.0 572.4 345.0 573.3 342.0 574.0 339.0 574.6 335.0 575.5 333.0 576.0 329.0 576.8 325.0 577.7 323.0 578.2 319.0 579.0 315.0 579.9 313.0 580.3 309.0 581.1 305.0 581.9 303.0 582.3 299.0 583.1 295.0 583.8 293.0 584.2 289.0 584.9 285.0 585.5 282.3 586.0 279.0 586.4 275.0 587.0 271.0 587.5 267.0 587.9 265.0 588.1 261.0 588.5 257.0 588.8 253.0 589.1 249.0 589.3 245.0 589.4 241.0 589.4 237.0 589.4 233.0 589.3 229.0 589.1 225.0 588.9 221.0 588.6 217.0 588.3 213.2 588.0 211.0 587.7 207.0 587.3 203.0 586.9 199.0 586.4 195.8 586.0 193.0 585.6 189.0 585.0 185.0 584.4 182.2 584.0 179.0 583.4 175.0 582.6 172.3 582.0 169.0 581.1 165.5 580.0 163.0 579.0 160.7 578.0 157.1 576.0 155.0 574.3 153.0 572.3 151.4 570.0 150.7 568.0 150.6 564.0 151.2 562.0 153.0 558.8 155.0 556.3 157.0 554.3 159.0 552.6 161.0 551.1 163.0 549.7 165.7 548.0 169.0 546.0 171.0 544.8 173.0 543.7 176.2 542.0 179.0 540.5 181.0 539.4 183.9 538.0 187.0 536.3 189.0 535.3 191.8 534.0 195.0 532.4 197.0 531.4 200.2 530.0 203.0 528.7 205.0 527.8 209.0 526.2 211.0 525.3 214.7 524.0 217.0 523.1 220.4 522.0 223.0 521.1 226.7 520.0 229.0 519.3 233.0 518.2 235.0 517.6 239.0 516.6 242.0 516.0 245.0 515.3 249.0 514.4 251.3 514.0 255.0 513.2 259.0 512.5 262.0 512.0 265.0 511.4 269.0 510.7 273.0 510.1 275.0 509.7 279.0 509.0 283.0 508.4 285.5 507.9 289.0 507.3 293.0 506.6 296.7 505.9 299.0 505.5 303.0 504.7 307.0 503.9 309.0 503.5 313.0 502.7 316.2 502.0 319.0 501.3 323.0 500.3 325.0 499.7 329.0 498.6 331.1 497.9 335.0 496.6 337.0 495.9 341.0 494.4 343.0 493.6 347.0 492.0 349.0 491.1 351.8 490.0 355.0 488.6 357.0 487.7 361.0 486.1 363.0 485.2 366.4 484.0 369.0 482.9 371.8 481.9 375.0 480.8 377.6 479.9 381.0 478.8 384.1 477.9 387.0 477.1 391.0 476.0 393.0 475.5 397.0 474.5 399.8 473.9 403.0 473.2 407.0 472.4 409.5 472.0 413.0 471.2 417.0 470.5 420.9 469.9 423.0 469.6 427.0 468.9 431.0 468.4 434.4 467.9 437.0 467.5 441.0 467.0 445.0 466.5 449.0 466.0 451.0 465.8 455.0 465.2 459.0 464.7 463.0 464.2 465.3 463.9 469.0 463.4 473.0 462.8 477.0 462.2 479.0 461.8 483.0 461.0 487.0 460.2 489.0 459.7 493.0 458.7 495.6 457.9 499.0 456.9 502.3 455.9 505.0 455.1 508.4 453.9 511.0 453.0 514.3 451.9 517.0 451.0 520.2 449.9 523.0 449.0 526.3 447.9 529.0 447.1 533.0 446.0 535.0 445.4 539.0 444.4 541.0 443.9 545.0 443.0 549.0 442.2 551.0 441.9Z" fill="#e7dbec"/><path d="M559.0 445.9 563.0 445.6 567.0 445.4 571.0 445.4 575.0 445.5 579.0 445.8 581.0 445.9 585.0 446.4 589.0 446.9 593.0 447.6 595.0 447.9 599.0 448.9 602.7 449.9 605.0 450.8 607.4 451.9 610.2 453.9 611.8 456.0 612.6 459.9 611.3 463.9 610.2 465.9 608.8 467.9 607.0 470.1 605.0 472.5 603.0 474.7 601.0 476.8 599.0 479.0 597.0 481.1 595.0 483.2 593.0 485.3 591.0 487.4 589.0 489.3 587.0 491.2 585.0 493.0 583.0 494.7 581.0 496.4 579.0 497.9 576.3 500.0 573.5 501.9 571.0 503.6 569.0 504.9 567.0 506.2 564.1 507.9 561.0 509.8 559.0 511.0 557.0 512.1 553.9 514.0 551.0 515.7 549.0 516.9 547.0 518.0 543.8 520.0 541.0 521.6 539.0 522.8 537.0 524.0 533.6 526.0 531.0 527.4 529.0 528.5 526.3 530.0 523.0 531.6 521.0 532.6 518.1 534.0 515.0 535.3 513.0 536.1 509.0 537.7 507.0 538.4 503.0 539.8 501.0 540.4 497.0 541.6 495.0 542.2 491.0 543.3 488.2 544.0 485.0 544.8 481.0 545.6 479.0 546.0 475.0 546.8 471.0 547.5 468.2 548.0 465.0 548.5 461.0 549.1 457.0 549.7 454.4 550.0 451.0 550.4 447.0 550.9 443.0 551.4 439.0 551.8 437.0 552.0 433.0 552.4 429.0 552.9 425.0 553.3 421.0 553.6 417.5 554.0 415.0 554.2 411.0 554.7 407.0 555.1 403.0 555.6 399.6 556.0 397.0 556.3 393.0 556.9 389.0 557.4 385.6 558.0 383.0 558.4 379.0 559.1 375.0 559.9 373.0 560.3 369.0 561.1 365.0 562.0 363.0 562.4 359.0 563.3 356.2 564.0 353.0 564.7 349.0 565.6 347.0 566.1 343.0 567.1 339.3 568.0 337.0 568.5 333.0 569.4 330.8 570.0 327.0 570.8 323.0 571.8 321.0 572.2 317.0 573.1 313.2 574.0 311.0 574.4 307.0 575.3 303.8 576.0 301.0 576.5 297.0 577.3 293.5 578.0 291.0 578.4 287.0 579.1 283.0 579.8 281.0 580.1 277.0 580.7 273.0 581.2 269.0 581.7 266.3 582.0 263.0 582.3 259.0 582.6 255.0 582.8 251.0 583.0 247.0 583.1 243.0 583.1 239.0 583.1 235.0 583.0 231.0 582.8 227.0 582.5 223.0 582.1 221.0 581.9 217.0 581.5 213.0 581.1 209.0 580.5 205.0 580.0 203.0 579.7 199.0 579.1 195.0 578.5 191.8 578.0 189.0 577.4 185.0 576.6 182.2 576.0 179.0 575.0 175.7 574.0 173.0 572.7 171.0 571.6 168.7 570.0 166.9 568.0 165.9 564.0 167.0 560.4 168.7 558.0 170.7 556.0 173.0 554.0 175.0 552.5 177.0 551.2 179.0 549.9 182.2 548.0 185.0 546.3 187.0 545.2 189.2 544.0 192.9 542.0 195.0 540.8 197.0 539.8 200.5 538.0 203.0 536.7 205.0 535.7 208.7 534.0 211.0 532.9 213.1 532.0 217.0 530.3 219.0 529.5 223.0 528.0 225.0 527.3 229.0 526.0 231.0 525.3 235.0 524.2 237.0 523.6 241.0 522.5 243.4 522.0 247.0 521.1 251.0 520.2 253.0 519.8 257.0 519.0 261.0 518.3 263.0 517.9 267.0 517.2 271.0 516.5 274.5 516.0 277.0 515.5 281.0 514.9 285.0 514.2 287.0 513.9 291.0 513.2 295.0 512.6 298.5 511.9 301.0 511.5 305.0 510.8 309.0 510.0 311.0 509.6 315.0 508.7 318.3 507.9 321.0 507.3 325.0 506.2 327.0 505.5 331.0 504.2 333.0 503.4 336.7 501.9 339.0 500.9 341.2 499.9 345.0 498.1 347.0 497.1 349.3 495.9 353.0 494.1 355.0 493.0 357.2 491.9 361.0 490.1 363.0 489.2 365.7 487.9 369.0 486.5 371.0 485.7 375.0 484.2 377.0 483.4 381.0 482.0 383.0 481.4 387.0 480.2 389.0 479.6 393.0 478.5 395.3 477.9 399.0 477.0 403.0 476.2 405.0 475.7 409.0 474.9 413.0 474.3 415.1 473.9 419.0 473.3 423.0 472.7 427.0 472.2 429.2 471.9 433.0 471.5 437.0 471.0 441.0 470.6 445.0 470.3 448.9 469.9 451.0 469.7 455.0 469.4 459.0 469.0 463.0 468.7 467.0 468.4 471.0 468.1 473.0 467.9 477.0 467.5 481.0 467.0 485.0 466.4 488.0 465.9 491.0 465.3 495.0 464.4 497.0 463.9 501.0 462.7 503.3 461.9 507.0 460.6 509.0 459.9 513.0 458.4 515.0 457.6 519.0 456.1 521.0 455.3 524.8 453.9 527.0 453.2 530.7 451.9 533.0 451.2 537.0 450.0 539.0 449.5 543.0 448.5 545.5 447.9 549.0 447.2 553.0 446.6 557.0 446.1 559.0 445.9Z" fill="#e3d5e9"/><path d="M563.0 449.9 567.0 449.8 571.0 449.9 573.0 450.0 577.0 450.3 581.0 450.7 585.0 451.3 588.4 452.0 591.0 452.6 595.0 453.8 597.0 454.7 599.2 455.9 601.3 457.9 602.5 461.9 601.4 465.9 600.2 467.9 598.8 469.9 597.0 472.3 595.0 474.7 593.0 477.0 591.0 479.3 589.0 481.5 587.0 483.6 585.0 485.7 583.0 487.7 581.0 489.7 579.0 491.5 577.0 493.2 575.0 494.9 573.0 496.5 571.0 498.0 568.4 499.9 565.5 501.9 563.0 503.6 561.0 505.0 559.0 506.2 556.3 508.0 553.1 509.9 551.0 511.3 549.0 512.6 546.8 514.0 543.7 516.0 541.0 517.7 539.0 519.0 537.0 520.2 534.3 522.0 531.0 524.0 529.0 525.2 527.0 526.4 524.2 528.0 521.0 529.7 519.0 530.7 516.4 532.0 513.0 533.5 511.0 534.4 507.0 535.9 505.0 536.7 501.4 538.0 499.0 538.8 495.0 540.0 493.0 540.6 489.0 541.6 487.0 542.1 483.0 543.1 479.0 543.9 477.0 544.3 473.0 545.0 469.0 545.7 467.0 546.0 463.0 546.6 459.0 547.2 455.0 547.6 451.7 548.0 449.0 548.3 445.0 548.7 441.0 549.1 437.0 549.4 433.0 549.7 429.0 550.0 427.0 550.1 423.0 550.4 419.0 550.7 415.0 551.0 411.0 551.2 407.0 551.5 403.0 551.8 400.1 552.0 397.0 552.2 393.0 552.6 389.0 552.9 385.0 553.3 381.0 553.7 378.9 554.0 375.0 554.5 371.0 555.1 367.0 555.7 365.0 556.0 361.0 556.8 357.0 557.7 355.0 558.1 351.0 559.1 347.3 560.0 345.0 560.5 341.0 561.5 339.0 562.0 335.0 563.0 331.3 564.0 329.0 564.5 325.0 565.5 323.0 566.0 319.0 567.0 315.0 567.9 313.0 568.3 309.0 569.3 305.8 570.0 303.0 570.6 299.0 571.4 296.2 572.0 293.0 572.6 289.0 573.3 285.3 574.0 283.0 574.3 279.0 575.0 275.0 575.5 271.6 576.0 269.0 576.3 265.0 576.7 261.0 577.0 257.0 577.2 253.0 577.4 249.0 577.5 245.0 577.5 241.0 577.4 237.0 577.2 233.0 576.9 229.0 576.5 225.0 576.1 223.0 575.8 219.0 575.2 215.0 574.6 211.5 574.0 209.0 573.5 205.0 572.6 202.0 572.0 199.0 571.1 195.0 570.0 193.0 569.2 190.0 568.0 187.0 566.0 185.4 564.0 184.9 562.0 185.3 560.0 187.0 557.2 189.0 555.1 191.0 553.3 193.0 551.7 195.4 550.0 198.4 548.0 201.0 546.3 203.0 545.0 205.0 543.8 208.2 542.0 211.0 540.4 213.0 539.3 215.7 538.0 219.0 536.4 221.0 535.5 224.6 534.0 227.0 533.0 229.8 532.0 233.0 530.8 235.7 530.0 239.0 528.9 242.5 528.0 245.0 527.3 249.0 526.3 251.0 525.8 255.0 524.9 259.0 524.1 261.0 523.8 265.0 523.0 269.0 522.3 271.2 522.0 275.0 521.3 279.0 520.7 283.0 520.1 285.0 519.7 289.0 519.1 293.0 518.5 296.2 518.0 299.0 517.5 303.0 516.8 307.0 516.1 309.0 515.7 313.0 514.8 316.8 514.0 319.0 513.4 323.0 512.2 325.0 511.6 329.0 510.1 331.0 509.3 334.2 507.9 337.0 506.6 339.0 505.6 342.1 503.9 345.0 502.4 347.0 501.2 349.2 499.9 352.7 497.9 355.0 496.6 357.0 495.5 359.8 494.0 363.0 492.3 365.0 491.2 367.7 489.9 371.0 488.4 373.0 487.5 376.9 485.9 379.0 485.1 382.3 483.9 385.0 483.0 388.5 481.9 391.0 481.2 395.0 480.1 397.0 479.6 401.0 478.7 404.5 477.9 407.0 477.4 411.0 476.6 415.0 476.0 417.0 475.7 421.0 475.1 425.0 474.5 429.0 474.1 431.0 473.9 435.0 473.4 439.0 473.0 443.0 472.7 447.0 472.4 451.0 472.2 454.9 471.9 457.0 471.8 461.0 471.5 465.0 471.3 469.0 471.0 473.0 470.8 477.0 470.5 481.0 470.2 484.2 469.9 487.0 469.6 491.0 469.1 495.0 468.5 498.1 467.9 501.0 467.3 505.0 466.2 507.0 465.6 511.0 464.3 513.0 463.5 517.0 462.0 519.0 461.2 522.0 459.9 525.0 458.7 527.1 457.9 531.0 456.5 533.0 455.8 537.0 454.5 539.1 453.9 543.0 452.9 547.0 452.0 549.0 451.6 553.0 450.9 557.0 450.4 561.0 450.1 563.0 449.9Z" fill="#dec9e3"/><path d="M549.0 455.7 553.0 455.0 557.0 454.5 561.0 454.2 565.0 454.1 569.0 454.2 573.0 454.5 577.0 455.0 581.0 455.7 583.0 456.2 587.0 457.6 589.0 458.7 591.0 460.3 592.6 463.9 591.8 467.9 590.8 469.9 589.0 472.7 587.0 475.5 585.1 477.9 583.4 479.9 581.7 481.9 579.9 483.9 578.1 486.0 576.2 487.9 574.1 490.0 572.0 492.0 569.7 493.9 567.3 496.0 565.0 497.8 563.0 499.3 561.0 500.8 559.0 502.2 556.5 503.9 553.6 506.0 551.0 507.7 549.0 509.0 547.0 510.3 544.6 511.9 541.6 514.0 539.0 515.7 537.0 517.1 535.0 518.4 532.7 520.0 529.6 522.0 527.0 523.6 525.0 524.8 523.0 526.0 519.5 528.0 517.0 529.3 515.0 530.3 511.5 532.0 509.0 533.1 506.9 534.0 503.0 535.5 501.0 536.2 497.0 537.5 495.0 538.2 491.0 539.3 488.6 540.0 485.0 540.9 481.0 541.8 479.0 542.2 475.0 543.0 471.0 543.7 469.0 544.0 465.0 544.6 461.0 545.2 457.0 545.6 454.0 546.0 451.0 546.3 447.0 546.7 443.0 547.1 439.0 547.4 435.0 547.6 431.0 547.9 429.0 548.0 425.0 548.2 421.0 548.5 417.0 548.7 413.0 548.9 409.0 549.1 405.0 549.3 401.0 549.4 397.0 549.6 393.0 549.8 390.5 550.0 387.0 550.2 383.0 550.4 379.0 550.7 375.0 551.0 371.0 551.3 367.0 551.6 363.4 552.0 361.0 552.2 357.0 552.8 353.0 553.4 349.4 554.0 347.0 554.4 343.0 555.3 340.0 556.0 337.0 556.7 333.0 557.7 331.0 558.2 327.0 559.2 324.3 560.0 321.0 560.8 317.0 561.8 315.0 562.3 311.0 563.3 308.1 564.0 305.0 564.7 301.0 565.6 299.0 566.0 295.0 566.8 291.0 567.6 289.0 568.0 285.0 568.7 281.0 569.4 277.2 570.0 275.0 570.3 271.0 570.7 267.0 571.2 263.0 571.5 259.0 571.7 255.0 571.9 251.0 571.9 247.0 571.9 243.0 571.7 239.0 571.4 235.0 570.9 231.0 570.4 228.6 570.0 225.0 569.2 221.0 568.2 219.0 567.6 215.0 566.3 213.0 565.4 210.3 564.0 207.8 562.0 206.5 560.0 206.8 556.0 207.9 554.0 209.5 552.0 211.5 550.0 213.9 548.0 216.6 546.0 219.0 544.4 221.0 543.2 223.1 542.0 226.9 540.0 229.0 539.0 231.2 538.0 235.0 536.4 237.0 535.7 241.0 534.3 243.0 533.6 247.0 532.5 249.0 531.9 253.0 530.9 257.0 530.0 259.0 529.5 263.0 528.7 267.0 528.0 269.0 527.6 273.0 527.0 277.0 526.3 279.3 526.0 283.0 525.4 287.0 524.8 291.0 524.2 293.0 523.9 297.0 523.2 301.0 522.6 304.7 522.0 307.0 521.5 311.0 520.7 314.1 520.0 317.0 519.2 320.9 518.0 323.0 517.2 326.3 516.0 329.0 514.8 331.0 513.9 334.9 511.9 337.0 510.8 339.0 509.7 342.0 507.9 345.0 506.1 347.0 504.9 349.0 503.6 351.6 501.9 354.7 499.9 357.0 498.5 359.0 497.3 361.3 495.9 364.8 493.9 367.0 492.7 369.0 491.7 372.7 489.9 375.0 488.9 377.2 487.9 381.0 486.4 383.0 485.7 387.0 484.3 389.0 483.6 393.0 482.4 395.0 481.9 399.0 480.8 403.0 479.9 405.0 479.5 409.0 478.7 413.0 478.0 415.0 477.6 419.0 477.0 423.0 476.5 427.0 476.0 429.0 475.8 433.0 475.3 437.0 474.9 441.0 474.6 445.0 474.3 449.0 474.1 451.9 474.0 455.0 473.8 459.0 473.5 463.0 473.3 467.0 473.1 471.0 472.9 475.0 472.7 479.0 472.5 483.0 472.3 487.0 472.0 489.0 471.8 493.0 471.3 497.0 470.9 501.0 470.3 503.2 469.9 507.0 469.1 511.0 468.2 513.0 467.6 517.0 466.3 519.0 465.6 523.0 464.1 525.0 463.3 528.4 462.0 531.0 460.9 533.7 459.9 537.0 458.8 539.8 458.0 543.0 457.0 547.0 456.1 549.0 455.7Z" fill="#d8bcdc"/><path d="M549.0 459.8 553.0 459.1 557.0 458.7 561.0 458.5 565.0 458.5 569.0 458.9 573.0 459.5 575.0 460.0 579.0 461.7 581.0 463.1 582.8 465.9 582.5 469.9 581.0 473.4 579.5 476.0 578.2 477.9 576.8 479.9 575.0 482.3 573.0 484.8 571.0 487.1 569.0 489.3 567.0 491.3 565.0 493.2 563.0 495.0 561.0 496.7 559.0 498.4 557.0 500.0 554.4 501.9 551.7 504.0 549.0 505.9 547.0 507.3 545.0 508.7 543.0 510.1 540.3 512.0 537.4 514.0 535.0 515.6 533.0 517.0 531.0 518.4 528.7 520.0 525.7 522.0 523.0 523.7 521.0 524.9 519.0 526.0 515.6 528.0 513.0 529.3 511.0 530.3 507.3 532.0 505.0 532.9 502.4 534.0 499.0 535.2 496.8 536.0 493.0 537.2 490.3 538.0 487.0 538.9 483.0 539.8 481.0 540.3 477.0 541.2 473.0 541.9 471.0 542.2 467.0 542.9 463.0 543.5 459.0 544.0 457.0 544.2 453.0 544.7 449.0 545.1 445.0 545.4 441.0 545.7 437.0 545.9 435.0 546.1 431.0 546.3 427.0 546.5 423.0 546.7 419.0 546.9 415.0 547.1 411.0 547.2 407.0 547.4 403.0 547.5 399.0 547.7 395.0 547.8 391.0 547.9 389.0 548.0 385.0 548.2 381.0 548.3 377.0 548.5 373.0 548.6 369.0 548.8 365.0 548.9 361.0 549.1 357.0 549.3 353.0 549.5 349.0 549.8 346.6 550.0 343.0 550.3 339.0 550.8 335.0 551.4 332.2 552.0 329.0 552.6 325.0 553.5 323.0 554.0 319.0 555.1 315.7 556.0 313.0 556.6 309.0 557.7 307.0 558.2 303.0 559.2 299.8 560.0 297.0 560.6 293.0 561.4 290.6 562.0 287.0 562.7 283.0 563.4 279.6 564.0 277.0 564.3 273.0 564.8 269.0 565.3 265.0 565.6 261.0 565.8 257.0 565.9 253.0 565.9 249.0 565.6 245.0 565.2 241.0 564.6 237.8 564.0 235.0 563.1 231.7 562.0 229.0 560.4 227.0 558.7 225.5 556.0 226.3 552.0 227.8 550.0 229.8 548.0 232.4 546.0 235.0 544.3 237.0 543.2 239.5 542.0 243.0 540.4 245.0 539.6 249.0 538.2 251.0 537.6 255.0 536.4 257.0 535.9 261.0 535.0 265.0 534.1 267.0 533.7 271.0 533.0 275.0 532.3 277.2 532.0 281.0 531.4 285.0 530.8 289.0 530.2 291.0 529.9 295.0 529.4 299.0 528.8 303.0 528.1 305.0 527.7 309.0 526.9 312.6 526.0 315.0 525.2 318.7 524.0 321.0 523.0 323.4 522.0 327.0 520.3 329.0 519.2 331.3 518.0 334.8 516.0 337.0 514.7 339.0 513.4 341.4 511.9 344.4 509.9 347.0 508.2 349.0 506.9 351.0 505.5 353.2 503.9 356.1 502.0 359.0 500.0 361.0 498.7 363.0 497.4 365.4 495.9 369.0 494.0 371.0 492.8 373.0 491.8 377.0 489.9 379.0 489.0 381.7 487.9 385.0 486.6 387.0 485.9 391.0 484.6 393.2 483.9 397.0 482.9 400.7 481.9 403.0 481.4 407.0 480.5 410.0 479.9 413.0 479.4 417.0 478.7 421.0 478.1 423.0 477.9 427.0 477.4 431.0 476.9 435.0 476.5 439.0 476.2 443.0 476.0 445.0 475.8 449.0 475.5 453.0 475.3 457.0 475.1 461.0 475.0 465.0 474.8 469.0 474.6 473.0 474.5 477.0 474.3 481.0 474.1 484.0 473.9 487.0 473.7 491.0 473.4 495.0 473.1 499.0 472.7 503.0 472.2 505.1 471.9 509.0 471.3 513.0 470.5 515.9 469.9 519.0 469.1 523.0 468.0 525.0 467.3 528.9 465.9 531.0 465.2 534.4 463.9 537.0 463.0 540.4 461.9 543.0 461.2 547.0 460.2 549.0 459.8Z" fill="#d2afd5"/><path d="M551.0 463.9 555.0 463.5 559.0 463.4 563.0 463.7 565.0 464.0 569.0 465.3 571.0 466.5 573.0 469.4 573.2 471.9 572.9 473.9 571.3 477.9 570.3 479.9 569.0 482.2 567.0 485.2 565.0 487.9 563.3 489.9 561.5 491.9 559.5 493.9 557.4 496.0 555.1 498.0 553.0 499.8 551.0 501.4 549.0 502.9 547.0 504.4 545.0 505.9 542.2 507.9 539.5 510.0 537.0 511.7 535.0 513.2 533.0 514.6 531.0 516.0 528.2 518.0 525.3 520.0 523.0 521.5 521.0 522.8 519.0 524.0 515.7 526.0 513.0 527.4 511.0 528.5 508.0 530.0 505.0 531.3 503.0 532.1 499.0 533.7 497.0 534.4 493.0 535.8 491.0 536.4 487.0 537.5 485.0 538.0 481.0 539.0 477.0 539.8 475.0 540.3 471.0 541.0 467.0 541.6 464.7 542.0 461.0 542.5 457.0 543.0 453.0 543.4 449.0 543.8 446.7 544.0 443.0 544.3 439.0 544.5 435.0 544.8 431.0 545.0 427.0 545.2 423.0 545.3 419.0 545.5 415.0 545.6 411.0 545.7 407.0 545.9 403.9 546.0 401.0 546.0 397.0 546.2 393.0 546.3 389.0 546.4 385.0 546.5 381.0 546.5 377.0 546.6 373.0 546.6 369.0 546.7 365.0 546.7 361.0 546.7 357.0 546.6 353.0 546.6 349.0 546.5 345.0 546.4 341.0 546.4 337.0 546.3 333.0 546.3 329.0 546.3 325.0 546.5 321.0 546.8 317.0 547.4 314.4 548.0 311.0 548.7 307.0 549.9 305.0 550.4 301.0 551.6 299.0 552.2 295.0 553.2 292.3 554.0 289.0 554.7 285.0 555.6 283.0 556.0 279.0 556.6 275.0 557.2 271.0 557.6 267.0 557.9 263.0 557.9 259.0 557.7 255.0 557.0 251.3 556.0 249.0 554.4 247.8 552.0 249.0 549.5 251.0 547.6 253.7 546.0 257.0 544.5 259.0 543.7 263.0 542.4 265.0 541.8 269.0 540.9 273.0 540.0 275.0 539.7 279.0 539.1 283.0 538.5 287.0 538.0 289.0 537.8 293.0 537.4 297.0 536.9 301.0 536.3 303.2 536.0 307.0 535.2 311.0 534.0 313.0 533.3 315.7 532.0 319.0 530.3 321.0 529.1 323.0 527.8 325.8 526.0 328.8 524.0 331.0 522.5 333.0 521.1 335.0 519.7 337.6 518.0 340.5 516.0 343.0 514.2 345.0 512.8 347.0 511.3 349.0 509.9 351.7 507.9 354.4 505.9 357.0 504.0 359.0 502.6 361.0 501.2 363.0 499.8 365.8 497.9 369.0 496.0 371.0 494.9 373.0 493.8 376.5 491.9 379.0 490.8 381.0 489.9 385.0 488.2 387.0 487.5 391.0 486.1 393.0 485.4 397.0 484.3 399.0 483.7 403.0 482.7 406.4 481.9 409.0 481.4 413.0 480.6 417.0 480.0 419.0 479.7 423.0 479.1 427.0 478.6 431.0 478.2 433.6 477.9 437.0 477.6 441.0 477.3 445.0 477.0 449.0 476.8 453.0 476.6 457.0 476.5 461.0 476.3 465.0 476.2 469.0 476.0 471.3 475.9 475.0 475.8 479.0 475.6 483.0 475.4 487.0 475.2 491.0 474.9 495.0 474.7 499.0 474.3 503.0 474.0 505.0 473.8 509.0 473.3 513.0 472.7 517.0 472.1 519.0 471.8 523.0 470.9 527.0 470.0 529.0 469.5 533.0 468.4 535.0 467.8 539.0 466.6 541.5 465.9 545.0 465.1 549.0 464.2 551.0 463.9Z" fill="#cca2cf"/><path d="M543.0 469.9 547.0 469.4 551.0 469.1 555.0 469.2 558.8 469.9 561.0 471.0 563.0 472.9 564.1 475.9 563.7 479.9 563.0 482.2 561.3 485.9 560.1 487.9 558.7 489.9 557.0 492.1 555.0 494.3 553.0 496.3 551.0 498.2 549.0 500.0 546.7 502.0 544.2 503.9 541.6 505.9 539.0 507.9 537.0 509.4 535.0 510.9 533.0 512.3 530.8 514.0 528.0 516.0 525.2 518.0 523.0 519.4 521.0 520.8 519.0 522.1 516.0 524.0 513.0 525.7 511.0 526.8 508.7 528.0 505.0 529.7 503.0 530.6 499.8 532.0 497.0 533.0 494.4 534.0 491.0 535.1 488.0 536.0 485.0 536.8 481.0 537.8 479.0 538.2 475.0 539.1 471.0 539.8 469.0 540.2 465.0 540.8 461.0 541.3 457.0 541.8 455.0 542.0 451.0 542.5 447.0 542.8 443.0 543.1 439.0 543.4 435.0 543.6 431.0 543.8 427.0 543.9 425.0 544.0 421.0 544.2 417.0 544.3 413.0 544.4 409.0 544.6 405.0 544.7 401.0 544.8 397.0 544.9 393.0 544.9 389.0 545.0 385.0 545.0 381.0 545.0 377.0 545.0 373.0 545.0 369.0 544.9 365.0 544.8 361.0 544.6 357.0 544.4 353.0 544.1 351.0 543.9 347.0 543.5 343.0 543.0 339.0 542.4 337.0 541.9 333.0 540.8 330.9 540.0 328.0 538.0 327.1 534.0 329.0 530.5 331.0 528.0 332.9 526.0 335.0 524.0 337.0 522.3 339.0 520.6 341.0 519.0 343.0 517.4 345.0 515.9 347.5 514.0 350.1 511.9 352.7 509.9 355.0 508.2 357.0 506.7 359.0 505.1 361.0 503.6 363.3 501.9 366.1 500.0 369.0 498.1 371.0 496.8 373.0 495.6 376.0 494.0 379.0 492.4 381.0 491.5 384.5 489.9 387.0 488.9 389.7 487.9 393.0 486.8 395.7 485.9 399.0 485.0 403.0 484.0 405.0 483.5 409.0 482.6 412.4 481.9 415.0 481.5 419.0 480.8 423.0 480.3 425.5 479.9 429.0 479.5 433.0 479.1 437.0 478.8 441.0 478.5 445.0 478.2 449.0 478.0 451.0 477.9 455.0 477.7 459.0 477.6 463.0 477.4 467.0 477.3 471.0 477.1 475.0 477.0 479.0 476.8 483.0 476.7 487.0 476.5 491.0 476.3 495.0 476.1 497.0 475.9 501.0 475.6 505.0 475.3 509.0 475.0 513.0 474.6 517.0 474.1 519.0 473.9 523.0 473.3 527.0 472.7 531.0 472.1 533.0 471.7 537.0 471.0 541.0 470.3 543.0 469.9Z" fill="#ca98ca"/><path d="M543.0 473.9 545.0 474.0 549.0 474.4 553.0 475.7 555.0 477.1 556.8 479.9 557.1 481.9 556.9 483.9 555.6 487.9 554.5 489.9 553.0 492.2 551.0 494.6 549.0 496.8 547.0 498.8 545.0 500.6 543.0 502.4 541.0 504.0 538.6 505.9 536.0 507.9 533.3 509.9 531.0 511.7 529.0 513.2 527.0 514.6 525.0 516.1 522.4 518.0 519.4 520.0 517.0 521.5 515.0 522.8 513.0 524.0 509.5 526.0 507.0 527.3 505.0 528.3 501.3 530.0 499.0 530.9 496.3 532.0 493.0 533.2 490.6 534.0 487.0 535.1 483.7 536.0 481.0 536.6 477.0 537.5 475.0 538.0 471.0 538.7 467.0 539.4 463.3 540.0 461.0 540.3 457.0 540.8 453.0 541.2 449.0 541.6 445.0 541.9 443.0 542.0 439.0 542.3 435.0 542.5 431.0 542.7 427.0 542.9 423.0 543.0 419.0 543.1 415.0 543.3 411.0 543.4 407.0 543.4 403.0 543.5 399.0 543.6 395.0 543.6 391.0 543.7 387.0 543.7 383.0 543.7 379.0 543.6 375.0 543.5 371.0 543.4 367.0 543.2 363.0 542.9 359.0 542.6 355.0 542.1 353.0 541.9 349.0 541.2 345.0 540.3 343.0 539.7 339.0 538.0 337.0 536.5 335.3 534.0 335.7 530.0 337.0 527.6 339.0 525.0 341.0 522.8 343.0 520.9 345.0 519.0 347.0 517.3 349.0 515.7 351.1 514.0 353.6 511.9 356.1 509.9 358.6 508.0 361.0 506.1 363.0 504.5 365.0 503.0 367.0 501.5 369.2 499.9 372.3 497.9 375.0 496.3 377.0 495.2 379.3 493.9 383.0 492.1 385.0 491.2 388.1 489.9 391.0 488.8 393.5 487.9 397.0 486.8 400.0 485.9 403.0 485.1 407.0 484.2 409.0 483.7 413.0 482.9 417.0 482.2 419.0 481.9 423.0 481.3 427.0 480.8 431.0 480.4 435.0 480.0 437.0 479.9 441.0 479.5 445.0 479.3 449.0 479.1 453.0 478.9 457.0 478.7 461.0 478.6 465.0 478.4 469.0 478.3 473.0 478.2 477.0 478.1 480.0 478.0 483.0 477.8 487.0 477.6 491.0 477.5 495.0 477.2 499.0 477.0 503.0 476.8 507.0 476.5 511.0 476.3 515.0 476.0 517.0 475.8 521.0 475.5 525.0 475.1 529.0 474.8 533.0 474.4 537.0 474.1 541.0 474.0 543.0 473.9Z" fill="#cd92c7"/><path d="M505.0 477.9 509.0 477.7 513.0 477.5 517.0 477.3 521.0 477.1 525.0 477.0 529.0 476.8 533.0 476.8 537.0 476.9 541.0 477.2 544.7 477.9 547.0 478.8 549.1 479.9 551.0 482.2 551.7 486.0 551.0 488.9 549.5 491.9 548.2 494.0 546.6 496.0 544.8 497.9 542.8 499.9 540.6 501.9 538.3 503.9 535.8 505.9 533.2 507.9 531.0 509.7 529.0 511.2 527.0 512.7 525.0 514.2 522.5 516.0 519.7 518.0 517.0 519.8 515.0 521.1 513.0 522.3 510.3 524.0 507.0 525.8 505.0 526.8 502.6 528.0 499.0 529.6 497.0 530.4 493.0 531.9 491.0 532.6 487.0 533.9 485.0 534.5 481.0 535.5 479.0 536.0 475.0 536.9 471.0 537.7 469.0 538.0 465.0 538.7 461.0 539.3 457.0 539.8 455.0 540.0 451.0 540.4 447.0 540.8 443.0 541.1 439.0 541.3 435.0 541.5 431.0 541.7 427.0 541.8 423.6 542.0 421.0 542.0 417.0 542.1 413.0 542.2 409.0 542.3 405.0 542.4 401.0 542.5 397.0 542.5 393.0 542.5 389.0 542.5 385.0 542.5 381.0 542.4 377.0 542.3 373.0 542.1 371.0 541.9 367.0 541.7 363.0 541.3 359.0 540.8 355.0 540.1 353.0 539.7 349.0 538.6 347.0 537.8 343.5 536.0 341.6 534.0 340.8 532.0 341.0 529.3 342.5 526.0 343.9 524.0 345.6 522.0 347.6 520.0 349.7 518.0 352.0 516.0 354.4 514.0 356.8 511.9 359.0 510.1 361.0 508.5 363.0 506.9 365.0 505.3 367.0 503.7 369.3 501.9 372.2 499.9 375.0 498.1 377.0 496.9 379.0 495.7 382.4 493.9 385.0 492.7 387.0 491.8 391.0 490.2 393.0 489.4 397.0 488.1 399.0 487.4 403.0 486.3 405.0 485.8 409.0 484.8 413.0 484.0 415.0 483.7 419.0 483.0 423.0 482.4 426.4 481.9 429.0 481.6 433.0 481.2 437.0 480.9 441.0 480.6 445.0 480.3 449.0 480.1 452.3 479.9 455.0 479.8 459.0 479.7 463.0 479.5 467.0 479.4 471.0 479.3 475.0 479.2 479.0 479.0 483.0 478.9 487.0 478.7 491.0 478.6 495.0 478.4 499.0 478.2 503.0 478.0 505.0 477.9Z" fill="#d08cc4"/><path d="M483.0 479.9 487.0 479.7 491.0 479.6 495.0 479.4 499.0 479.3 503.0 479.2 507.0 479.0 511.0 478.9 515.0 478.8 519.0 478.7 523.0 478.7 527.0 478.7 531.0 478.8 535.0 479.2 539.0 479.9 541.0 480.5 544.2 481.9 546.3 483.9 547.2 486.0 547.0 489.5 546.1 492.0 545.0 493.9 543.0 496.6 541.0 498.9 539.0 500.9 537.0 502.7 535.0 504.5 533.0 506.1 530.7 507.9 528.1 509.9 525.5 512.0 523.0 513.8 521.0 515.3 519.0 516.7 517.0 518.1 514.2 520.0 511.0 522.0 509.0 523.2 507.0 524.3 503.9 526.0 501.0 527.4 499.0 528.3 495.0 529.9 493.0 530.7 489.5 532.0 487.0 532.8 483.0 533.9 481.0 534.5 477.0 535.4 474.6 536.0 471.0 536.7 467.0 537.4 463.4 538.0 461.0 538.3 457.0 538.8 453.0 539.3 449.0 539.6 445.0 539.9 443.0 540.1 439.0 540.4 435.0 540.6 431.0 540.7 427.0 540.9 423.0 541.0 419.0 541.1 415.0 541.2 411.0 541.3 407.0 541.4 403.0 541.4 399.0 541.4 395.0 541.4 391.0 541.4 387.0 541.4 383.0 541.2 379.0 541.1 375.0 540.9 371.0 540.6 367.0 540.2 365.0 539.9 361.0 539.3 357.0 538.5 354.9 538.0 351.0 536.5 349.0 535.4 347.0 533.9 345.2 530.0 346.3 526.0 347.6 524.0 349.1 522.0 351.0 519.9 353.0 517.9 355.1 516.0 357.4 514.0 359.8 512.0 362.1 509.9 364.5 508.0 367.0 505.9 369.0 504.4 371.0 502.8 373.0 501.4 375.0 499.9 378.1 498.0 381.0 496.3 383.0 495.2 385.5 493.9 389.0 492.3 391.0 491.5 395.0 490.0 397.0 489.3 401.0 488.0 403.0 487.5 407.0 486.4 409.0 485.9 413.0 485.1 417.0 484.3 419.3 483.9 423.0 483.4 427.0 482.9 431.0 482.4 435.0 482.0 437.0 481.9 441.0 481.5 445.0 481.3 449.0 481.1 453.0 480.9 457.0 480.7 461.0 480.6 465.0 480.5 469.0 480.4 473.0 480.2 477.0 480.1 481.0 480.0 483.0 479.9Z" fill="#d386c1"/><path d="M453.0 481.9 457.0 481.7 461.0 481.6 465.0 481.4 469.0 481.3 473.0 481.2 477.0 481.0 481.0 480.9 485.0 480.8 489.0 480.7 493.0 480.5 497.0 480.4 501.0 480.3 505.0 480.2 509.0 480.1 513.0 480.1 517.0 480.1 521.0 480.1 525.0 480.3 529.0 480.6 533.0 481.2 536.3 481.9 539.0 483.0 541.0 484.3 543.0 487.0 543.3 490.0 542.8 491.9 541.0 495.4 539.1 498.0 537.3 499.9 535.3 501.9 533.1 503.9 531.0 505.8 529.0 507.4 527.0 509.0 525.0 510.5 523.0 512.0 520.4 514.0 517.7 516.0 515.0 517.8 513.0 519.1 511.0 520.4 508.5 522.0 505.0 524.0 503.0 525.0 501.0 526.0 497.0 527.9 495.0 528.7 491.9 530.0 489.0 531.0 486.0 532.0 483.0 532.9 479.0 533.9 477.0 534.4 473.0 535.3 469.7 536.0 467.0 536.4 463.0 537.1 459.0 537.6 456.3 538.0 453.0 538.3 449.0 538.7 445.0 539.0 441.0 539.3 437.0 539.5 433.0 539.7 429.0 539.9 426.6 540.0 423.0 540.1 419.0 540.2 415.0 540.2 411.0 540.3 407.0 540.4 403.0 540.4 399.0 540.4 395.0 540.4 391.0 540.4 387.0 540.3 383.0 540.1 380.1 540.0 377.0 539.8 373.0 539.4 369.0 539.0 365.0 538.4 362.8 538.0 359.0 537.0 355.9 536.0 353.0 534.5 351.0 532.8 349.4 530.0 349.9 526.0 351.0 523.9 353.0 521.2 355.0 519.0 357.0 517.0 359.0 515.1 361.0 513.4 363.0 511.6 365.0 509.9 367.3 507.9 369.8 506.0 372.3 503.9 375.0 502.0 377.0 500.5 379.0 499.2 381.0 497.9 384.5 495.9 387.0 494.7 389.0 493.7 393.0 492.0 395.0 491.3 398.7 489.9 401.0 489.2 405.0 488.0 407.0 487.5 411.0 486.6 414.0 485.9 417.0 485.4 421.0 484.7 425.0 484.1 427.0 483.9 431.0 483.4 435.0 483.0 439.0 482.7 443.0 482.4 447.0 482.1 451.0 482.0 453.0 481.9Z" fill="#d680be"/><path d="M479.0 481.9 483.0 481.8 487.0 481.7 491.0 481.6 495.0 481.5 499.0 481.4 503.0 481.3 507.0 481.3 511.0 481.3 515.0 481.3 519.0 481.5 523.0 481.7 525.4 481.9 529.0 482.5 533.0 483.4 535.0 484.2 537.8 485.9 539.3 487.9 539.7 491.9 539.0 493.9 537.0 497.2 535.0 499.7 533.0 501.8 531.0 503.7 529.0 505.5 527.0 507.1 525.0 508.7 523.0 510.3 520.8 511.9 518.2 514.0 515.4 516.0 513.0 517.6 511.0 518.9 509.0 520.2 506.0 522.0 503.0 523.6 501.0 524.7 498.4 526.0 495.0 527.5 493.0 528.3 489.0 529.8 487.0 530.5 483.0 531.8 481.0 532.4 477.0 533.4 474.6 534.0 471.0 534.7 467.0 535.5 464.1 536.0 461.0 536.4 457.0 537.0 453.0 537.4 449.0 537.8 447.0 538.0 443.0 538.3 439.0 538.5 435.0 538.7 431.0 538.9 427.0 539.0 423.0 539.1 419.0 539.2 415.0 539.3 411.0 539.4 407.0 539.4 403.0 539.4 399.0 539.4 395.0 539.4 391.0 539.3 387.0 539.2 383.0 539.0 379.0 538.7 375.0 538.3 371.9 538.0 369.0 537.5 365.0 536.7 362.1 536.0 359.0 534.8 357.0 533.8 354.6 532.0 353.0 528.0 353.0 527.9 354.2 524.0 355.5 522.0 357.1 520.0 359.0 517.9 361.0 515.9 363.1 514.0 365.4 512.0 367.7 509.9 370.1 508.0 372.5 506.0 375.0 504.0 377.0 502.5 379.0 501.1 381.0 499.7 383.9 497.9 387.0 496.2 389.0 495.2 391.7 493.9 395.0 492.6 397.0 491.8 401.0 490.4 403.0 489.8 407.0 488.6 409.7 488.0 413.0 487.2 417.0 486.4 419.6 486.0 423.0 485.4 427.0 484.9 431.0 484.4 435.0 484.0 437.0 483.8 441.0 483.5 445.0 483.2 449.0 483.0 453.0 482.8 457.0 482.7 461.0 482.5 465.0 482.4 469.0 482.3 473.0 482.1 477.0 482.0 479.0 481.9Z" fill="#d979ba"/><path d="M449.0 483.9 453.0 483.8 457.0 483.6 461.0 483.5 465.0 483.3 469.0 483.2 473.0 483.0 477.0 482.9 481.0 482.8 485.0 482.7 489.0 482.6 493.0 482.5 497.0 482.4 501.0 482.4 505.0 482.4 509.0 482.4 513.0 482.5 517.0 482.7 521.0 483.0 525.0 483.6 527.0 483.9 531.0 485.2 533.0 486.1 535.3 487.9 536.5 491.9 535.2 495.9 533.9 497.9 532.4 499.9 530.5 501.9 528.5 504.0 526.2 505.9 523.8 508.0 521.2 510.0 519.0 511.7 517.0 513.2 515.0 514.6 513.0 516.0 510.1 518.0 507.0 519.9 505.0 521.1 503.0 522.3 499.9 524.0 497.0 525.4 495.0 526.3 491.0 527.9 489.0 528.7 485.4 530.0 483.0 530.7 479.0 531.9 477.0 532.4 473.0 533.3 470.0 534.0 467.0 534.5 463.0 535.2 459.0 535.8 457.0 536.0 453.0 536.5 449.0 536.9 445.0 537.2 441.0 537.5 437.0 537.7 433.0 537.9 431.0 538.0 427.0 538.1 423.0 538.2 419.0 538.3 415.0 538.4 411.0 538.4 407.0 538.5 403.0 538.5 399.0 538.4 395.0 538.4 391.0 538.3 387.0 538.1 384.8 538.0 381.0 537.7 377.0 537.2 373.0 536.7 369.0 536.0 367.0 535.5 363.0 534.2 361.0 533.2 359.0 531.9 357.0 529.3 356.7 526.0 357.4 524.0 359.0 521.3 361.0 518.9 363.0 516.7 365.0 514.8 367.0 513.0 369.0 511.2 371.0 509.5 373.0 507.8 375.2 505.9 377.8 503.9 380.5 501.9 383.0 500.3 385.0 499.0 387.0 497.8 390.6 495.9 393.0 494.8 395.0 493.9 399.0 492.4 401.0 491.6 405.0 490.4 407.0 489.8 411.0 488.8 414.6 487.9 417.0 487.5 421.0 486.7 425.0 486.1 427.0 485.8 431.0 485.4 435.0 484.9 439.0 484.6 443.0 484.3 447.0 484.1 449.0 483.9Z" fill="#db72b7"/><path d="M475.0 483.9 479.0 483.8 483.0 483.6 487.0 483.5 491.0 483.5 495.0 483.4 499.0 483.4 503.0 483.4 507.0 483.4 511.0 483.6 515.0 483.8 517.0 484.0 521.0 484.5 525.0 485.3 527.1 485.9 531.0 487.9 532.8 489.9 533.4 491.9 533.0 494.6 531.4 497.9 530.0 499.9 528.2 501.9 526.2 503.9 524.0 505.9 521.6 507.9 519.1 509.9 517.0 511.5 515.0 513.0 513.0 514.5 510.9 516.0 507.9 518.0 505.0 519.7 503.0 520.9 501.0 522.0 497.3 524.0 495.0 525.0 492.9 526.0 489.0 527.5 487.0 528.3 483.0 529.6 481.0 530.3 477.0 531.4 474.7 532.0 471.0 532.8 467.0 533.6 465.0 534.0 461.0 534.6 457.0 535.1 453.0 535.6 449.7 536.0 447.0 536.2 443.0 536.5 439.0 536.7 435.0 537.0 431.0 537.1 427.0 537.2 423.0 537.3 419.0 537.4 415.0 537.5 411.0 537.5 407.0 537.5 403.0 537.5 399.0 537.5 395.0 537.4 391.0 537.2 387.0 537.0 383.0 536.6 379.0 536.2 377.0 535.9 373.0 535.2 369.0 534.2 367.0 533.6 363.5 532.0 361.2 530.0 360.2 528.0 360.5 524.0 361.5 522.0 363.0 519.9 365.0 517.6 367.0 515.6 369.0 513.7 371.0 511.9 373.2 509.9 375.6 507.9 378.0 505.9 380.6 503.9 383.0 502.2 385.0 500.8 387.0 499.6 389.8 498.0 393.0 496.3 395.0 495.4 398.3 494.0 401.0 493.0 403.9 491.9 407.0 491.0 410.8 490.0 413.0 489.4 417.0 488.6 420.1 488.0 423.0 487.5 427.0 486.9 431.0 486.4 434.8 485.9 437.0 485.7 441.0 485.4 445.0 485.1 449.0 484.9 453.0 484.7 457.0 484.5 461.0 484.4 465.0 484.2 469.0 484.1 473.0 484.0 475.0 483.9Z" fill="#dd6bb3"/><path d="M449.0 485.9 453.0 485.7 457.0 485.5 461.0 485.3 465.0 485.2 469.0 485.0 473.0 484.9 477.0 484.7 481.0 484.6 485.0 484.5 489.0 484.4 493.0 484.4 497.0 484.4 501.0 484.4 505.0 484.5 509.0 484.7 513.0 484.9 517.0 485.4 520.3 485.9 523.0 486.6 526.4 487.9 529.0 489.9 530.2 492.0 529.9 495.9 529.0 497.9 527.0 500.7 525.0 502.9 523.0 504.9 521.0 506.7 519.0 508.3 517.0 509.9 514.3 511.9 511.6 514.0 509.0 515.7 507.0 517.1 505.0 518.3 502.3 520.0 499.0 521.8 497.0 522.8 494.7 524.0 491.0 525.6 489.0 526.4 485.0 527.9 483.0 528.6 479.0 529.8 477.0 530.3 473.0 531.4 470.3 532.0 467.0 532.6 463.0 533.3 459.0 534.0 457.0 534.2 453.0 534.7 449.0 535.1 445.0 535.5 441.0 535.7 437.4 536.0 435.0 536.1 431.0 536.2 427.0 536.4 423.0 536.4 419.0 536.5 415.0 536.6 411.0 536.6 407.0 536.6 403.0 536.5 399.0 536.5 395.0 536.3 391.0 536.1 388.5 536.0 385.0 535.6 381.0 535.1 377.0 534.5 374.3 534.0 371.0 533.0 368.4 532.0 365.3 530.0 363.8 528.0 363.7 524.0 365.0 521.4 367.0 518.6 369.0 516.4 371.0 514.5 373.0 512.6 375.0 510.9 377.0 509.1 379.0 507.4 381.0 505.8 383.4 503.9 386.3 501.9 389.0 500.2 391.0 499.0 393.0 497.9 397.0 496.0 399.0 495.1 402.0 493.9 405.0 492.9 408.0 491.9 411.0 491.1 415.0 490.1 417.0 489.7 421.0 488.9 425.0 488.2 427.0 487.9 431.0 487.4 435.0 487.0 439.0 486.6 443.0 486.3 447.0 486.0 449.0 485.9Z" fill="#df64b0"/><path d="M471.0 485.9 475.0 485.7 479.0 485.6 483.0 485.5 487.0 485.4 491.0 485.3 495.0 485.3 499.0 485.4 503.0 485.5 507.0 485.7 510.6 486.0 513.0 486.2 517.0 486.9 521.0 487.9 523.0 488.7 525.2 489.9 527.0 492.2 527.3 496.0 526.5 498.0 525.0 500.3 523.0 502.7 521.0 504.7 519.0 506.6 517.0 508.3 514.9 509.9 512.2 511.9 509.5 514.0 507.0 515.6 505.0 516.9 503.0 518.2 499.9 520.0 497.0 521.5 495.0 522.5 492.0 524.0 489.0 525.2 487.0 526.0 483.0 527.5 481.0 528.1 477.0 529.3 474.6 530.0 471.0 530.8 467.0 531.7 465.0 532.0 461.0 532.7 457.0 533.3 453.0 533.8 451.0 534.0 447.0 534.4 443.0 534.7 439.0 535.0 435.0 535.2 431.0 535.3 427.0 535.4 423.0 535.5 419.0 535.6 415.0 535.6 411.0 535.6 407.0 535.6 403.0 535.6 399.0 535.4 395.0 535.2 391.0 535.0 387.0 534.6 383.0 534.1 381.0 533.8 377.0 532.9 373.7 532.0 371.0 530.7 369.0 529.3 367.0 526.2 367.0 524.2 367.7 522.0 369.0 519.9 371.0 517.4 373.0 515.3 375.0 513.4 377.0 511.6 379.0 509.9 381.3 507.9 383.8 505.9 386.4 503.9 389.0 502.2 391.0 500.9 393.0 499.7 396.3 497.9 399.0 496.7 401.0 495.8 405.0 494.3 407.0 493.6 411.0 492.4 413.0 491.8 417.0 490.9 421.0 490.0 423.0 489.7 427.0 489.1 431.0 488.5 435.0 488.0 437.0 487.8 441.0 487.5 445.0 487.2 449.0 486.9 453.0 486.7 457.0 486.5 461.0 486.3 465.0 486.1 469.0 486.0 471.0 485.9Z" fill="#e05baa"/><path d="M449.0 487.9 453.0 487.7 457.0 487.5 461.0 487.3 465.0 487.1 469.0 486.9 473.0 486.8 477.0 486.6 481.0 486.5 485.0 486.4 489.0 486.3 493.0 486.3 497.0 486.4 501.0 486.5 505.0 486.7 509.0 487.0 513.0 487.6 515.0 488.0 519.0 489.2 521.0 490.0 523.5 491.9 524.6 495.9 523.0 499.9 521.5 501.9 519.7 504.0 517.6 506.0 515.3 508.0 513.0 509.8 511.0 511.3 509.0 512.8 507.0 514.2 504.3 516.0 501.1 518.0 499.0 519.1 497.0 520.2 493.6 522.0 491.0 523.2 489.0 524.0 485.0 525.6 483.0 526.3 479.0 527.7 477.0 528.3 473.0 529.3 470.4 530.0 467.0 530.7 463.0 531.4 459.9 532.0 457.0 532.4 453.0 532.9 449.0 533.3 445.0 533.7 441.1 534.0 439.0 534.1 435.0 534.3 431.0 534.4 427.0 534.5 423.0 534.6 419.0 534.7 415.0 534.7 411.0 534.7 407.0 534.6 403.0 534.5 399.0 534.4 395.0 534.1 392.7 534.0 389.0 533.5 385.0 533.0 381.0 532.2 379.0 531.7 375.0 530.2 373.0 528.9 371.0 526.7 370.4 524.0 371.0 521.9 373.0 518.7 375.0 516.4 377.0 514.4 379.0 512.5 381.0 510.8 383.0 509.1 385.0 507.4 387.0 505.8 389.6 504.0 392.6 501.9 395.0 500.5 397.0 499.4 399.9 497.9 403.0 496.6 405.0 495.8 409.0 494.4 411.0 493.8 415.0 492.7 417.9 492.0 421.0 491.3 425.0 490.6 428.6 489.9 431.0 489.6 435.0 489.1 439.0 488.7 443.0 488.4 447.0 488.1 449.0 487.9Z" fill="#e151a3"/><path d="M469.0 487.9 473.0 487.7 477.0 487.5 481.0 487.4 485.0 487.3 489.0 487.3 493.0 487.3 497.0 487.4 501.0 487.6 505.0 487.8 507.0 488.1 511.0 488.7 515.0 489.6 517.0 490.4 519.8 492.0 521.4 493.9 521.5 498.0 520.6 499.9 519.0 502.2 517.0 504.5 515.0 506.4 513.0 508.1 510.7 509.9 508.0 512.0 505.2 514.0 503.0 515.4 501.0 516.6 498.8 518.0 495.1 520.0 493.0 521.0 491.0 522.0 487.0 523.7 485.0 524.5 481.0 525.9 479.0 526.6 475.0 527.8 473.0 528.3 469.0 529.3 465.7 530.0 463.0 530.5 459.0 531.1 455.0 531.7 453.0 532.0 449.0 532.4 445.0 532.7 441.0 533.0 437.0 533.3 433.0 533.4 429.0 533.6 425.0 533.6 421.0 533.7 417.0 533.7 413.0 533.7 409.0 533.6 405.0 533.5 401.0 533.3 397.0 533.1 393.0 532.7 389.0 532.2 387.0 531.8 383.0 530.9 379.9 530.0 377.0 528.4 375.0 526.5 374.1 524.0 375.0 520.8 376.8 518.0 378.6 516.0 380.6 514.0 382.8 511.9 385.0 510.1 387.0 508.4 389.0 506.8 391.0 505.3 393.0 503.9 396.1 501.9 399.0 500.3 401.0 499.3 403.9 497.9 407.0 496.7 409.0 495.9 413.0 494.7 415.5 493.9 419.0 493.1 423.0 492.2 425.0 491.8 429.0 491.2 433.0 490.6 437.0 490.1 439.0 489.9 443.0 489.5 447.0 489.2 451.0 488.9 455.0 488.6 459.0 488.4 463.0 488.2 467.0 488.0 469.0 487.9Z" fill="#e3479d"/><path d="M453.0 489.8 457.0 489.6 461.0 489.3 465.0 489.1 469.0 488.9 473.0 488.7 477.0 488.5 481.0 488.4 485.0 488.3 489.0 488.3 493.0 488.3 497.0 488.5 501.0 488.7 505.0 489.1 509.0 489.7 511.0 490.2 515.0 491.6 517.0 492.9 519.0 495.9 518.2 499.9 517.0 501.9 515.0 504.3 513.0 506.3 511.0 508.0 508.6 509.9 505.9 511.9 503.0 514.0 501.0 515.2 499.0 516.5 496.4 518.0 493.0 519.7 491.0 520.7 488.3 522.0 485.0 523.3 483.0 524.1 479.0 525.5 477.0 526.1 473.0 527.2 470.2 528.0 467.0 528.7 463.0 529.5 460.3 530.0 457.0 530.5 453.0 531.0 449.0 531.4 445.0 531.8 443.0 532.0 439.0 532.2 435.0 532.4 431.0 532.6 427.0 532.6 423.0 532.7 419.0 532.7 415.0 532.7 411.0 532.6 407.0 532.5 403.0 532.3 399.0 532.0 397.0 531.8 393.0 531.3 389.0 530.6 386.3 530.0 383.0 528.7 381.0 527.7 378.9 526.0 378.1 522.0 379.0 519.8 381.0 517.0 383.0 514.9 385.0 513.0 387.0 511.2 389.0 509.6 391.0 507.9 393.7 506.0 396.6 503.9 399.0 502.5 401.0 501.4 403.8 499.9 407.0 498.5 409.0 497.7 413.0 496.3 415.0 495.7 419.0 494.6 421.5 493.9 425.0 493.2 429.0 492.5 432.2 492.0 435.0 491.6 439.0 491.1 443.0 490.7 447.0 490.3 451.0 490.0 453.0 489.8Z" fill="#e43d97"/><path d="M469.0 489.9 473.0 489.7 477.0 489.5 481.0 489.4 485.0 489.3 489.0 489.3 493.0 489.4 497.0 489.6 501.0 489.9 503.0 490.1 507.0 490.8 511.0 491.9 513.0 492.9 515.0 494.5 516.3 497.9 515.0 501.3 513.1 504.0 511.2 505.9 509.0 507.9 507.0 509.5 505.0 511.0 503.0 512.5 500.8 514.0 497.6 516.0 495.0 517.4 493.0 518.5 490.0 520.0 487.0 521.3 485.0 522.1 481.0 523.7 479.0 524.3 475.0 525.6 473.0 526.2 469.0 527.2 465.6 528.0 463.0 528.5 459.0 529.2 455.0 529.8 453.0 530.0 449.0 530.5 445.0 530.8 441.0 531.1 437.0 531.4 433.0 531.5 429.0 531.6 425.0 531.7 421.0 531.7 417.0 531.7 413.0 531.6 409.0 531.4 405.0 531.2 401.0 530.8 397.0 530.3 394.4 530.0 391.0 529.2 387.1 528.0 385.0 526.8 383.0 525.0 382.1 522.0 383.0 519.4 385.0 516.6 387.0 514.5 389.0 512.6 391.0 510.9 393.0 509.3 395.0 507.8 397.5 505.9 400.6 503.9 403.0 502.6 405.0 501.6 408.4 500.0 411.0 498.9 413.5 497.9 417.0 496.8 420.0 495.9 423.0 495.2 427.0 494.3 429.0 493.9 433.0 493.3 437.0 492.7 441.0 492.1 443.0 491.9 447.0 491.5 451.0 491.1 455.0 490.8 459.0 490.5 463.0 490.2 467.0 490.0 469.0 489.9Z" fill="#e63491"/><path d="M457.0 491.8 461.0 491.5 465.0 491.2 469.0 490.9 473.0 490.7 477.0 490.5 481.0 490.4 485.0 490.4 489.0 490.4 493.0 490.5 497.0 490.8 501.0 491.2 505.0 491.9 507.0 492.5 510.6 494.0 512.8 495.9 513.5 497.9 513.0 500.4 511.0 503.8 509.0 505.9 507.0 507.8 505.0 509.4 503.0 510.9 501.0 512.3 498.6 514.0 495.2 516.0 493.0 517.2 491.0 518.2 487.3 520.0 485.0 520.9 482.5 522.0 479.0 523.2 476.8 524.0 473.0 525.1 469.7 526.0 467.0 526.6 463.0 527.4 460.2 528.0 457.0 528.5 453.0 529.0 449.0 529.5 445.0 529.9 443.0 530.0 439.0 530.3 435.0 530.4 431.0 530.6 427.0 530.6 423.0 530.6 419.0 530.6 415.0 530.5 411.0 530.3 407.0 530.0 405.0 529.8 401.0 529.3 397.0 528.6 394.1 528.0 391.0 526.8 389.0 525.7 387.0 523.6 386.8 520.0 387.9 518.0 389.4 516.0 391.4 514.0 393.7 511.9 396.1 509.9 398.8 507.9 401.0 506.5 403.0 505.2 405.1 503.9 409.0 502.0 411.0 501.1 413.7 500.0 417.0 498.8 419.5 498.0 423.0 497.0 427.0 496.0 429.0 495.5 433.0 494.8 437.0 494.1 439.0 493.8 443.0 493.2 447.0 492.8 451.0 492.4 455.0 492.0 457.0 491.8Z" fill="#e72a8b"/><path d="M471.0 491.9 475.0 491.7 479.0 491.5 483.0 491.4 487.0 491.4 491.0 491.6 495.0 491.8 497.0 492.0 501.0 492.6 505.0 493.6 507.0 494.5 509.2 496.0 510.6 499.9 509.0 503.3 507.0 505.7 505.0 507.6 503.0 509.3 501.0 510.8 499.0 512.2 496.3 514.0 493.0 515.8 491.0 516.9 488.9 518.0 485.0 519.7 483.0 520.6 479.3 522.0 477.0 522.7 473.0 524.0 471.0 524.5 467.0 525.5 465.0 526.0 461.0 526.8 457.0 527.4 453.5 528.0 451.0 528.3 447.0 528.7 443.0 529.0 439.0 529.2 435.0 529.4 431.0 529.5 427.0 529.5 423.0 529.5 419.0 529.4 415.0 529.2 411.0 528.9 407.0 528.5 403.0 528.0 401.0 527.5 397.0 526.4 395.0 525.5 392.6 524.0 391.4 520.0 393.0 516.9 395.0 514.6 397.0 512.7 399.0 511.1 401.0 509.6 403.3 507.9 406.5 506.0 409.0 504.5 411.0 503.5 414.4 501.9 417.0 500.9 419.7 499.9 423.0 498.9 426.3 497.9 429.0 497.3 433.0 496.4 435.1 495.9 439.0 495.3 443.0 494.7 447.0 494.1 449.0 493.8 453.0 493.4 457.0 493.0 461.0 492.6 465.0 492.3 469.0 492.0 471.0 491.9Z" fill="#e22581"/><path d="M461.0 493.8 465.0 493.4 469.0 493.1 473.0 492.9 477.0 492.7 481.0 492.6 485.0 492.6 489.0 492.7 493.0 492.9 497.0 493.4 500.0 493.9 503.0 494.9 505.2 495.9 507.2 497.9 507.3 502.0 506.2 503.9 504.5 506.0 502.4 507.9 499.9 509.9 497.1 511.9 495.0 513.3 493.0 514.5 490.3 516.0 487.0 517.6 485.0 518.5 481.5 520.0 479.0 520.9 475.9 522.0 473.0 522.8 469.0 523.9 467.0 524.4 463.0 525.3 459.6 526.0 457.0 526.4 453.0 526.9 449.0 527.4 445.0 527.8 443.0 528.0 439.0 528.2 435.0 528.3 431.0 528.4 427.0 528.4 423.0 528.3 419.0 528.1 416.3 528.0 413.0 527.6 409.0 527.1 405.0 526.3 403.0 525.8 399.0 524.1 397.0 522.2 396.4 520.0 397.0 517.9 399.0 515.2 401.0 513.2 403.0 511.5 405.1 509.9 408.1 507.9 411.0 506.3 413.0 505.2 415.6 503.9 419.0 502.5 421.0 501.7 425.0 500.4 427.0 499.7 431.0 498.6 433.8 498.0 437.0 497.3 441.0 496.5 444.0 495.9 447.0 495.5 451.0 494.9 455.0 494.4 459.0 494.0 461.0 493.8Z" fill="#dd2076"/><path d="M475.0 493.9 479.0 493.7 483.0 493.7 487.0 493.8 489.8 494.0 493.0 494.3 497.0 495.0 500.4 496.0 503.0 497.5 504.7 500.0 503.6 503.9 502.1 506.0 500.0 507.9 497.5 510.0 495.0 511.7 493.0 513.0 491.0 514.2 487.7 516.0 485.0 517.2 483.0 518.1 479.0 519.7 477.0 520.4 473.0 521.7 471.0 522.3 467.0 523.3 464.2 524.0 461.0 524.6 457.0 525.3 453.0 525.9 451.0 526.1 447.0 526.5 443.0 526.8 439.0 527.0 435.0 527.1 431.0 527.2 427.0 527.1 423.0 526.9 419.0 526.6 415.0 526.2 413.0 525.9 409.0 525.0 405.8 524.0 403.0 522.1 401.8 520.0 403.0 516.3 405.0 514.0 407.0 512.2 409.0 510.7 411.0 509.3 413.2 507.9 417.0 505.9 419.0 505.0 421.4 503.9 425.0 502.5 427.0 501.8 431.0 500.6 433.2 499.9 437.0 499.0 441.0 498.1 443.0 497.7 447.0 496.9 451.0 496.3 453.4 495.9 457.0 495.5 461.0 495.0 465.0 494.6 469.0 494.2 473.0 494.0 475.0 493.9Z" fill="#d81c6c"/><path d="M465.0 495.8 469.0 495.4 473.0 495.2 477.0 495.0 481.0 494.9 485.0 495.0 489.0 495.3 493.0 495.8 495.0 496.2 499.0 497.7 501.0 499.5 501.7 501.9 501.0 503.9 499.0 506.5 497.0 508.4 495.0 510.0 492.2 512.0 489.0 513.9 487.0 514.9 484.9 516.0 481.0 517.7 479.0 518.5 475.0 519.9 473.0 520.5 469.0 521.6 467.0 522.2 463.0 523.1 459.0 523.8 457.0 524.2 453.0 524.7 449.0 525.2 445.0 525.5 441.0 525.8 437.0 525.9 433.0 525.9 429.0 525.8 425.0 525.6 421.0 525.2 417.0 524.6 414.1 524.0 411.0 522.7 409.0 521.5 407.5 518.0 409.0 515.2 411.0 513.1 413.0 511.4 415.1 509.9 418.5 507.9 421.0 506.6 423.0 505.7 427.0 504.0 429.0 503.3 432.9 501.9 435.0 501.3 439.0 500.2 441.0 499.7 445.0 498.8 449.0 498.0 451.0 497.7 455.0 497.1 459.0 496.5 463.0 496.0 465.0 495.8Z" fill="#d31761"/><path d="M459.0 497.8 463.0 497.3 467.0 496.8 471.0 496.5 475.0 496.3 479.0 496.2 483.0 496.2 487.0 496.5 491.0 497.1 494.2 497.9 497.0 499.5 498.5 501.9 497.0 505.8 495.0 507.9 493.0 509.6 491.0 511.0 489.0 512.3 486.1 514.0 483.0 515.5 481.0 516.4 477.0 517.9 475.0 518.6 471.0 519.9 469.0 520.5 465.0 521.5 462.8 522.0 459.0 522.7 455.0 523.3 451.0 523.8 449.0 524.0 445.0 524.3 441.0 524.5 437.0 524.6 433.0 524.5 429.0 524.3 425.2 524.0 423.0 523.6 419.0 522.7 416.8 522.0 413.9 520.0 413.6 516.0 415.1 514.0 417.3 512.0 420.2 509.9 423.0 508.3 425.0 507.3 427.9 505.9 431.0 504.7 433.0 503.9 437.0 502.6 439.1 501.9 443.0 500.9 447.0 499.9 449.0 499.5 453.0 498.8 457.0 498.1 459.0 497.8Z" fill="#ce1257"/><path d="M469.0 497.9 473.0 497.7 477.0 497.5 481.0 497.6 485.0 497.8 487.0 498.1 491.0 499.1 493.0 500.0 495.0 503.7 495.0 504.0 493.0 507.1 491.0 508.9 489.0 510.5 486.8 511.9 483.1 514.0 481.0 514.9 478.7 516.0 475.0 517.3 473.0 518.0 469.0 519.2 466.3 520.0 463.0 520.7 459.0 521.5 456.0 522.0 453.0 522.4 449.0 522.8 445.0 523.0 441.0 523.2 437.0 523.1 433.0 522.9 429.0 522.5 425.7 522.0 423.0 521.1 420.6 520.0 418.9 518.0 419.0 516.0 421.0 513.2 423.0 511.5 425.2 509.9 428.8 507.9 431.0 506.9 433.2 505.9 437.0 504.5 439.0 503.8 443.0 502.6 445.3 501.9 449.0 501.1 453.0 500.2 455.0 499.8 459.0 499.1 463.0 498.6 467.0 498.1 469.0 497.9Z" fill="#c20f52"/><path d="M463.0 499.9 467.0 499.5 471.0 499.2 475.0 499.0 479.0 499.0 483.0 499.3 486.5 499.9 489.0 501.0 491.0 502.7 491.0 505.4 489.2 507.9 487.0 509.8 485.0 511.1 483.0 512.3 479.9 514.0 477.0 515.2 475.0 516.0 471.0 517.3 469.0 518.0 465.0 519.0 461.0 519.8 459.0 520.2 455.0 520.8 451.0 521.2 447.0 521.5 443.0 521.7 439.0 521.6 435.0 521.3 431.0 520.6 428.4 520.0 425.2 518.0 424.6 516.0 425.4 514.0 427.4 511.9 430.2 509.9 433.0 508.4 435.0 507.4 438.5 506.0 441.0 505.0 444.2 503.9 447.0 503.2 451.0 502.1 453.0 501.7 457.0 500.9 461.0 500.2 463.0 499.9Z" fill="#b50b4d"/><path d="M461.0 501.7 465.0 501.2 469.0 500.8 473.0 500.6 477.0 500.6 481.0 501.0 484.8 501.9 487.0 503.7 487.2 505.9 485.8 507.9 483.5 509.9 481.0 511.5 479.0 512.6 476.2 514.0 473.0 515.2 470.9 516.0 467.0 517.1 463.5 518.0 461.0 518.4 457.0 519.1 453.0 519.6 449.1 520.0 447.0 520.0 443.0 520.0 441.0 519.9 437.0 519.4 433.0 518.2 431.0 516.6 430.8 514.0 432.5 511.9 435.0 510.1 437.0 509.0 439.0 507.9 443.0 506.3 445.0 505.6 449.0 504.3 451.0 503.8 455.0 502.8 459.0 502.0 461.0 501.7Z" fill="#a80749"/><path d="M459.0 503.7 463.0 503.0 467.0 502.6 471.0 502.3 475.0 502.4 479.0 503.0 481.6 504.0 481.9 507.9 479.7 509.9 477.0 511.6 475.0 512.6 471.8 514.0 469.0 514.9 465.4 516.0 463.0 516.5 459.0 517.2 455.0 517.8 453.0 518.0 449.0 518.2 445.0 518.1 443.0 517.9 439.0 516.8 437.0 515.1 437.0 513.4 439.0 511.1 441.0 509.7 444.5 508.0 447.0 507.0 449.9 505.9 453.0 505.1 457.0 504.1 459.0 503.7Z" fill="#9b0445"/><path d="M459.0 505.7 461.0 505.3 463.0 505.0 465.0 504.8 467.0 504.6 469.0 504.5 471.0 504.6 473.0 504.8 475.0 505.3 476.4 505.9 476.8 507.9 475.0 509.8 474.9 509.9 473.0 511.0 471.3 511.9 471.0 512.1 469.0 512.8 467.0 513.5 465.7 514.0 465.0 514.1 463.0 514.6 461.0 515.0 459.0 515.3 457.0 515.6 455.0 515.9 453.4 516.0 453.0 516.0 451.0 516.0 450.6 516.0 449.0 515.8 447.0 515.4 445.0 514.6 444.0 514.0 444.3 511.9 445.0 511.4 446.7 510.0 447.0 509.8 449.0 508.9 450.9 507.9 451.0 507.9 453.0 507.3 455.0 506.7 457.0 506.1 457.5 506.0 459.0 505.7Z" fill="#8e0040"/><path d="M457.0 509.7 459.0 509.1 461.0 508.6 463.0 508.2 465.0 508.2 466.5 509.9 465.0 510.5 463.0 511.3 461.4 511.9 461.0 512.0 459.0 512.2 457.0 512.2 455.3 511.9 456.1 509.9 457.0 509.7Z" fill="#8e0040"/></g></g>
<path d="M170 401.95V697.1M125 672.43H665M320 401.95V697.1M125 590.49H665M470 401.95V697.1M125 508.55H665M620 401.95V697.1M125 426.61H665" stroke="#e8e5ea" stroke-width="2" fill="none" opacity="1"/>
<rect x="490.8" y="641.3" width="161.4" height="19.5" fill="url(#cbar)" stroke="#000" stroke-width="1.8"/>
<text x="533" y="680.3" font-size="19.3" text-anchor="middle">0.3</text>
<text x="575.7" y="680.3" font-size="19.3" text-anchor="middle">0.6</text>
<text x="614.9" y="680.3" font-size="19.3" text-anchor="middle">0.9</text>
<path d="M532.42 641.4v3.6M532.42 660.8v-3.6M574.54 641.4v3.6M574.54 660.8v-3.6M616.66 641.4v3.6M616.66 660.8v-3.6" stroke="#000" stroke-width="1.7"/>
<text x="575.3" y="633" font-size="20.05" text-anchor="middle">point density</text>
<path d="M124.85 697.1v4.2M125 697.1h-4.2M136.72 697.1v3M125 690.61h-3M146.76 697.1v3M125 685.12h-3M155.46 697.1v3M125 680.37h-3M163.14 697.1v3M125 676.18h-3M170 697.1v5M125 672.43h-5M215.15 697.1v3M125 647.76h-3M241.57 697.1v3M125 633.33h-3M260.31 697.1v3M125 623.1h-3M274.85 697.1v3M125 615.16h-3M286.72 697.1v3M125 608.67h-3M296.76 697.1v3M125 603.18h-3M305.46 697.1v3M125 598.43h-3M313.14 697.1v3M125 594.24h-3M320 697.1v5M125 590.49h-5M365.15 697.1v3M125 565.82h-3M391.57 697.1v3M125 551.39h-3M410.31 697.1v3M125 541.16h-3M424.85 697.1v3M125 533.22h-3M436.72 697.1v3M125 526.73h-3M446.76 697.1v3M125 521.24h-3M455.46 697.1v3M125 516.49h-3M463.14 697.1v3M125 512.3h-3M470 697.1v5M125 508.55h-5M515.15 697.1v3M125 483.88h-3M541.57 697.1v3M125 469.45h-3M560.31 697.1v3M125 459.22h-3M574.85 697.1v3M125 451.28h-3M586.72 697.1v3M125 444.79h-3M596.76 697.1v3M125 439.3h-3M605.46 697.1v3M125 434.55h-3M613.14 697.1v3M125 430.36h-3M620 697.1v5M125 426.61h-5M125 401.94h-4.2" stroke="#000" stroke-width="1.75" fill="none"/>
<rect x="125" y="401.95" width="540" height="295.15" fill="none" stroke="#000" stroke-width="2"/>
<text x="160.5" y="720.2" font-size="20" text-anchor="start">10<tspan dy="-7" font-size="10.2">0</tspan></text><text x="112.2" y="681.93" font-size="20" text-anchor="end">10<tspan dy="-7" font-size="10.2">0</tspan></text><text x="310.5" y="720.2" font-size="20" text-anchor="start">10<tspan dy="-7" font-size="10.2">1</tspan></text><text x="112.2" y="599.99" font-size="20" text-anchor="end">10<tspan dy="-7" font-size="10.2">1</tspan></text><text x="460.5" y="720.2" font-size="20" text-anchor="start">10<tspan dy="-7" font-size="10.2">2</tspan></text><text x="112.2" y="520.55" font-size="20" text-anchor="end">10<tspan dy="-7" font-size="10.2">2</tspan></text><text x="610.5" y="720.2" font-size="20" text-anchor="start">10<tspan dy="-7" font-size="10.2">3</tspan></text><text x="112.2" y="436.11" font-size="20" text-anchor="end">10<tspan dy="-7" font-size="10.2">3</tspan></text>
<text x="393.3" y="749.3" font-size="26" text-anchor="middle">Rainfall duration, <tspan font-style="italic">D</tspan> (hr)</text>
<text transform="translate(60,551.4) rotate(-90)" font-size="26" text-anchor="middle">Cumulated rainfall, <tspan font-style="italic">E</tspan> (mm)</text>
<text x="0" y="423.4" font-size="44">B</text>
</g>
<g id="panelC">
<path d="M152.5 1198.5H251.7" stroke="#000" stroke-width="3.3"/><path d="M202.1 1196.2V1198" stroke="#000" stroke-width="1.6"/>
<path d="M330.7 1166.6V1179.2M330.7 1191.7V1196.2" stroke="#000" stroke-width="1.85"/><rect x="281.9" y="1179.2" width="97.6" height="12.5" fill="#bae4b3" stroke="#000" stroke-width="1.85"/><path d="M281.9 1186.2H379.5" stroke="#000" stroke-width="3.8"/>
<path d="M459.3 1052V1115.8M459.3 1158.2V1166.2" stroke="#000" stroke-width="1.85"/><rect x="410.5" y="1115.8" width="97.6" height="42.4" fill="#74c476" stroke="#000" stroke-width="1.85"/><path d="M410.5 1144.4H508.1" stroke="#000" stroke-width="3.8"/><circle cx="459.3" cy="1050.39" r="2.65" fill="none" stroke="#000" stroke-width="1.5"/><circle cx="459.3" cy="1049.07" r="2.65" fill="none" stroke="#000" stroke-width="1.5"/><circle cx="459.3" cy="1047.75" r="2.65" fill="none" stroke="#000" stroke-width="1.5"/><circle cx="459.3" cy="1045.77" r="2.65" fill="none" stroke="#000" stroke-width="1.5"/><circle cx="459.3" cy="1044.45" r="2.65" fill="none" stroke="#000" stroke-width="1.5"/><circle cx="459.3" cy="1042.47" r="2.65" fill="none" stroke="#000" stroke-width="1.5"/><circle cx="459.3" cy="1040.49" r="2.65" fill="none" stroke="#000" stroke-width="1.5"/><circle cx="459.3" cy="1037.85" r="2.65" fill="none" stroke="#000" stroke-width="1.5"/><circle cx="459.3" cy="1034.55" r="2.65" fill="none" stroke="#000" stroke-width="1.5"/><circle cx="459.3" cy="1031.91" r="2.65" fill="none" stroke="#000" stroke-width="1.5"/><circle cx="459.3" cy="1029.27" r="2.65" fill="none" stroke="#000" stroke-width="1.5"/><circle cx="459.3" cy="1026.63" r="2.65" fill="none" stroke="#000" stroke-width="1.5"/><circle cx="459.3" cy="1023.99" r="2.65" fill="none" stroke="#000" stroke-width="1.5"/><circle cx="459.3" cy="1021.35" r="2.65" fill="none" stroke="#000" stroke-width="1.5"/><circle cx="459.3" cy="1018.71" r="2.65" fill="none" stroke="#000" stroke-width="1.5"/><circle cx="459.3" cy="1016.06" r="2.65" fill="none" stroke="#000" stroke-width="1.5"/><circle cx="459.3" cy="1011.44" r="2.65" fill="none" stroke="#000" stroke-width="1.5"/><circle cx="459.3" cy="1008.8" r="2.65" fill="none" stroke="#000" stroke-width="1.5"/><circle cx="459.3" cy="1002.86" r="2.65" fill="none" stroke="#000" stroke-width="1.5"/><circle cx="459.3" cy="1000.22" r="2.65" fill="none" stroke="#000" stroke-width="1.5"/><circle cx="459.3" cy="995.6" r="2.65" fill="none" stroke="#000" stroke-width="1.5"/><circle cx="459.3" cy="988.34" r="2.65" fill="none" stroke="#000" stroke-width="1.5"/><circle cx="459.3" cy="981.73" r="2.65" fill="none" stroke="#000" stroke-width="1.5"/><circle cx="459.3" cy="973.48" r="2.65" fill="none" stroke="#000" stroke-width="1.5"/><circle cx="459.3" cy="896.3" r="2.65" fill="none" stroke="#000" stroke-width="1.5"/>
<path d="M587.9 800V805.2M587.9 825.6V827" stroke="#000" stroke-width="1.85"/><rect x="539.1" y="805.2" width="97.6" height="20.4" fill="#238b45" stroke="#000" stroke-width="1.85"/><path d="M539.1 808.8H636.7" stroke="#000" stroke-width="3.8"/><circle cx="587.9" cy="866.4" r="2.65" fill="none" stroke="#000" stroke-width="1.5"/>
<g stroke="#000" stroke-width="1.7" stroke-linejoin="round"><path d="M285.35 818.55A128.3 128.3 0 0 0 176.59 878.79L219.99 905.95A77.1 77.1 0 0 1 285.35 869.75Z" fill="#edf8e9"/><path d="M176.59 878.79A128.3 128.3 0 1 0 412.53 963.73L361.78 956.99A77.1 77.1 0 1 1 219.99 905.95Z" fill="#bae4b3"/><path d="M412.53 963.73A128.3 128.3 0 0 0 286.96 818.56L286.32 869.76A77.1 77.1 0 0 1 361.78 956.99Z" fill="#74c476"/><path d="M286.96 818.56A128.3 128.3 0 0 0 285.35 818.55L285.35 869.75A77.1 77.1 0 0 1 286.32 869.76Z" fill="#238b45"/><path d="M285.45 818.55V869.75" stroke-width="3"/></g>
<path d="M284.6 815.4L304 802.2" stroke="#000" stroke-width="1.6" fill="none"/>
<text x="307" y="810" font-size="19.8">0.2%</text>
<text x="236.4" y="867.4" font-size="19.8" text-anchor="middle">16.1%</text>
<text x="337.2" y="867.4" font-size="19.8" text-anchor="middle">26.9%</text>
<text x="286.4" y="1054" font-size="19.8" text-anchor="middle">56.8%</text>
<rect x="238.7" y="897.3" width="15.6" height="15.6" fill="#edf8e9" stroke="#000" stroke-width="1.4"/>
<text x="258.6" y="911" font-size="19.9" text-anchor="start">[10<tspan dy="-6.4" font-size="12.5">0</tspan><tspan dy="6.4">,10</tspan><tspan dy="-6.4" font-size="12.5">1</tspan><tspan dy="6.4">]</tspan></text>
<rect x="238.7" y="927" width="15.6" height="15.6" fill="#bae4b3" stroke="#000" stroke-width="1.4"/>
<text x="258.6" y="940.7" font-size="19.9" text-anchor="start">]10<tspan dy="-6.4" font-size="12.5">1</tspan><tspan dy="6.4">,10</tspan><tspan dy="-6.4" font-size="12.5">2</tspan><tspan dy="6.4">]</tspan></text>
<rect x="238.7" y="956.7" width="15.6" height="15.6" fill="#74c476" stroke="#000" stroke-width="1.4"/>
<text x="258.6" y="970.4" font-size="19.9" text-anchor="start">]10<tspan dy="-6.4" font-size="12.5">2</tspan><tspan dy="6.4">,10</tspan><tspan dy="-6.4" font-size="12.5">3</tspan><tspan dy="6.4">]</tspan></text>
<rect x="238.7" y="986.4" width="15.6" height="15.6" fill="#238b45" stroke="#000" stroke-width="1.4"/>
<text x="258.6" y="1000.1" font-size="19.9" text-anchor="start">]10<tspan dy="-6.4" font-size="12.5">3</tspan><tspan dy="6.4">,10</tspan><tspan dy="-6.4" font-size="12.5">4</tspan><tspan dy="6.4">]</tspan></text>
<text x="215.4" y="954" font-size="20.5">D</text>
<rect x="125" y="779.2" width="540" height="440.2" fill="none" stroke="#000" stroke-width="1.9"/>
<text x="110.9" y="1207.7" font-size="23" text-anchor="end">0</text>
<text x="110.9" y="1125.17" font-size="23" text-anchor="end">250</text>
<text x="110.9" y="1042.65" font-size="23" text-anchor="end">500</text>
<text x="110.9" y="960.12" font-size="23" text-anchor="end">750</text>
<text x="110.9" y="877.6" font-size="23" text-anchor="end">1000</text>
<text x="110.9" y="795.07" font-size="23" text-anchor="end">1250</text>
<text x="202.8" y="1249" font-size="22.8" text-anchor="middle">[10<tspan dy="-7.3" font-size="13.8">0</tspan><tspan dy="7.3">,10</tspan><tspan dy="-7.3" font-size="13.8">1</tspan><tspan dy="7.3">]</tspan></text>
<text x="331.4" y="1249" font-size="22.8" text-anchor="middle">]10<tspan dy="-7.3" font-size="13.8">1</tspan><tspan dy="7.3">,10</tspan><tspan dy="-7.3" font-size="13.8">2</tspan><tspan dy="7.3">]</tspan></text>
<text x="460" y="1249" font-size="22.8" text-anchor="middle">]10<tspan dy="-7.3" font-size="13.8">2</tspan><tspan dy="7.3">,10</tspan><tspan dy="-7.3" font-size="13.8">3</tspan><tspan dy="7.3">]</tspan></text>
<text x="588.6" y="1249" font-size="22.8" text-anchor="middle">]10<tspan dy="-7.3" font-size="13.8">3</tspan><tspan dy="7.3">,10</tspan><tspan dy="-7.3" font-size="13.8">4</tspan><tspan dy="7.3">]</tspan></text>
<path d="M125 1199.6h-9.8M125 1117.07h-9.8M125 1034.55h-9.8M125 952.02h-9.8M125 869.5h-9.8M125 786.97h-9.8M202.1 1219.4v9M330.7 1219.4v9M459.3 1219.4v9M587.9 1219.4v9" stroke="#000" stroke-width="1.7"/>
<text x="398" y="1285.2" font-size="26.9" text-anchor="middle">Log class</text>
<text transform="translate(46,1019) rotate(-90)" font-size="26" text-anchor="middle">Rainfall duration, <tspan font-style="italic">D</tspan> (hr)</text>
<text x="0" y="800.3" font-size="44">C</text>
</g>
<g id="panelD">
<rect x="146.9" y="1616.2" width="4.4" height="103.4" fill="#fee6ce" stroke="#000" stroke-width="1.8"/>
<path d="M151.7 1530.4H167.8M192.3 1530.4H207.3" stroke="#000" stroke-width="1.85"/><rect x="167.8" y="1478.7" width="24.5" height="103.4" fill="#fdae6b" stroke="#000" stroke-width="1.85"/><path d="M178.8 1478.7V1582.1" stroke="#000" stroke-width="3.3"/>
<path d="M208.3 1392.9H220.3M277 1392.9H358" stroke="#000" stroke-width="1.85"/><rect x="220.3" y="1341.2" width="56.7" height="103.4" fill="#e6550d" stroke="#000" stroke-width="1.85"/><path d="M240.9 1341.2V1444.6" stroke="#000" stroke-width="3.3"/><circle cx="361" cy="1392.9" r="2.65" fill="none" stroke="#000" stroke-width="1.5"/><circle cx="362" cy="1392.9" r="2.65" fill="none" stroke="#000" stroke-width="1.5"/><circle cx="363" cy="1392.9" r="2.65" fill="none" stroke="#000" stroke-width="1.5"/><circle cx="364" cy="1392.9" r="2.65" fill="none" stroke="#000" stroke-width="1.5"/><circle cx="365" cy="1392.9" r="2.65" fill="none" stroke="#000" stroke-width="1.5"/><circle cx="366" cy="1392.9" r="2.65" fill="none" stroke="#000" stroke-width="1.5"/><circle cx="367" cy="1392.9" r="2.65" fill="none" stroke="#000" stroke-width="1.5"/><circle cx="368" cy="1392.9" r="2.65" fill="none" stroke="#000" stroke-width="1.5"/><circle cx="369" cy="1392.9" r="2.65" fill="none" stroke="#000" stroke-width="1.5"/><circle cx="370" cy="1392.9" r="2.65" fill="none" stroke="#000" stroke-width="1.5"/><circle cx="371" cy="1392.9" r="2.65" fill="none" stroke="#000" stroke-width="1.5"/><circle cx="372" cy="1392.9" r="2.65" fill="none" stroke="#000" stroke-width="1.5"/><circle cx="373" cy="1392.9" r="2.65" fill="none" stroke="#000" stroke-width="1.5"/><circle cx="374" cy="1392.9" r="2.65" fill="none" stroke="#000" stroke-width="1.5"/><circle cx="375" cy="1392.9" r="2.65" fill="none" stroke="#000" stroke-width="1.5"/><circle cx="376" cy="1392.9" r="2.65" fill="none" stroke="#000" stroke-width="1.5"/><circle cx="377" cy="1392.9" r="2.65" fill="none" stroke="#000" stroke-width="1.5"/><circle cx="378" cy="1392.9" r="2.65" fill="none" stroke="#000" stroke-width="1.5"/><circle cx="379" cy="1392.9" r="2.65" fill="none" stroke="#000" stroke-width="1.5"/><circle cx="380" cy="1392.9" r="2.65" fill="none" stroke="#000" stroke-width="1.5"/><circle cx="381" cy="1392.9" r="2.65" fill="none" stroke="#000" stroke-width="1.5"/><circle cx="382" cy="1392.9" r="2.65" fill="none" stroke="#000" stroke-width="1.5"/><circle cx="383" cy="1392.9" r="2.65" fill="none" stroke="#000" stroke-width="1.5"/><circle cx="384" cy="1392.9" r="2.65" fill="none" stroke="#000" stroke-width="1.5"/><circle cx="385" cy="1392.9" r="2.65" fill="none" stroke="#000" stroke-width="1.5"/><circle cx="386" cy="1392.9" r="2.65" fill="none" stroke="#000" stroke-width="1.5"/><circle cx="387" cy="1392.9" r="2.65" fill="none" stroke="#000" stroke-width="1.5"/><circle cx="388" cy="1392.9" r="2.65" fill="none" stroke="#000" stroke-width="1.5"/><circle cx="389" cy="1392.9" r="2.65" fill="none" stroke="#000" stroke-width="1.5"/><circle cx="390" cy="1392.9" r="2.65" fill="none" stroke="#000" stroke-width="1.5"/><circle cx="391" cy="1392.9" r="2.65" fill="none" stroke="#000" stroke-width="1.5"/><circle cx="393" cy="1392.9" r="2.65" fill="none" stroke="#000" stroke-width="1.5"/><circle cx="395" cy="1392.9" r="2.65" fill="none" stroke="#000" stroke-width="1.5"/><circle cx="397" cy="1392.9" r="2.65" fill="none" stroke="#000" stroke-width="1.5"/><circle cx="399" cy="1392.9" r="2.65" fill="none" stroke="#000" stroke-width="1.5"/><circle cx="401" cy="1392.9" r="2.65" fill="none" stroke="#000" stroke-width="1.5"/><circle cx="404" cy="1392.9" r="2.65" fill="none" stroke="#000" stroke-width="1.5"/><circle cx="407" cy="1392.9" r="2.65" fill="none" stroke="#000" stroke-width="1.5"/><circle cx="410" cy="1392.9" r="2.65" fill="none" stroke="#000" stroke-width="1.5"/><circle cx="414" cy="1392.9" r="2.65" fill="none" stroke="#000" stroke-width="1.5"/><circle cx="418" cy="1392.9" r="2.65" fill="none" stroke="#000" stroke-width="1.5"/><circle cx="421" cy="1392.9" r="2.65" fill="none" stroke="#000" stroke-width="1.5"/><circle cx="423" cy="1392.9" r="2.65" fill="none" stroke="#000" stroke-width="1.5"/><circle cx="434" cy="1392.9" r="2.65" fill="none" stroke="#000" stroke-width="1.5"/><circle cx="437" cy="1392.9" r="2.65" fill="none" stroke="#000" stroke-width="1.5"/><circle cx="440" cy="1392.9" r="2.65" fill="none" stroke="#000" stroke-width="1.5"/><circle cx="443" cy="1392.9" r="2.65" fill="none" stroke="#000" stroke-width="1.5"/><circle cx="446" cy="1392.9" r="2.65" fill="none" stroke="#000" stroke-width="1.5"/><circle cx="450" cy="1392.9" r="2.65" fill="none" stroke="#000" stroke-width="1.5"/><circle cx="455" cy="1392.9" r="2.65" fill="none" stroke="#000" stroke-width="1.5"/><circle cx="460" cy="1392.9" r="2.65" fill="none" stroke="#000" stroke-width="1.5"/><circle cx="475" cy="1392.9" r="2.65" fill="none" stroke="#000" stroke-width="1.5"/><circle cx="479" cy="1392.9" r="2.65" fill="none" stroke="#000" stroke-width="1.5"/><circle cx="483" cy="1392.9" r="2.65" fill="none" stroke="#000" stroke-width="1.5"/><circle cx="488" cy="1392.9" r="2.65" fill="none" stroke="#000" stroke-width="1.5"/><circle cx="538.7" cy="1392.9" r="2.65" fill="none" stroke="#000" stroke-width="1.5"/><circle cx="570.7" cy="1392.9" r="2.65" fill="none" stroke="#000" stroke-width="1.5"/><circle cx="602" cy="1392.9" r="2.65" fill="none" stroke="#000" stroke-width="1.5"/><circle cx="621" cy="1392.9" r="2.65" fill="none" stroke="#000" stroke-width="1.5"/>
<g stroke="#000" stroke-width="1.7" stroke-linejoin="round"><path d="M521.5 1476.1A128.3 128.3 0 0 0 518.28 1476.14L519.56 1527.32A77.1 77.1 0 0 1 521.5 1527.3Z" fill="#fff1e2"/><path d="M518.28 1476.14A128.3 128.3 0 1 0 594.94 1709.6L565.63 1667.62A77.1 77.1 0 1 1 519.56 1527.32Z" fill="#fdae6b"/><path d="M594.94 1709.6A128.3 128.3 0 0 0 521.5 1476.1L521.5 1527.3A77.1 77.1 0 0 1 565.63 1667.62Z" fill="#e6550d"/><path d="M521.7 1476.1V1527.3" stroke-width="2.5"/></g>
<path d="M521.4 1470.6L543 1457.2" stroke="#000" stroke-width="1.6" fill="none"/>
<text x="546.6" y="1461" font-size="19.8">0.4%</text>
<text x="569.6" y="1520" font-size="19.8" text-anchor="middle">40.3%</text>
<text x="504.3" y="1706.6" font-size="19.8" text-anchor="middle">59.3%</text>
<rect x="479.7" y="1566.7" width="15.6" height="15.6" fill="#fdc28c" stroke="#000" stroke-width="1.4"/>
<text x="497.6" y="1580" font-size="19.9" text-anchor="start">[10<tspan dy="-6.4" font-size="12.5">0</tspan><tspan dy="6.4">,10</tspan><tspan dy="-6.4" font-size="12.5">1</tspan><tspan dy="6.4">]</tspan></text>
<rect x="479.7" y="1596.4" width="15.6" height="15.6" fill="#fdae6b" stroke="#000" stroke-width="1.4"/>
<text x="497.6" y="1609.7" font-size="19.9" text-anchor="start">]10<tspan dy="-6.4" font-size="12.5">1</tspan><tspan dy="6.4">,10</tspan><tspan dy="-6.4" font-size="12.5">2</tspan><tspan dy="6.4">]</tspan></text>
<rect x="479.7" y="1626.1" width="15.6" height="15.6" fill="#e6550d" stroke="#000" stroke-width="1.4"/>
<text x="497.6" y="1639.4" font-size="19.9" text-anchor="start">]10<tspan dy="-6.4" font-size="12.5">2</tspan><tspan dy="6.4">,10</tspan><tspan dy="-6.4" font-size="12.5">3</tspan><tspan dy="6.4">]</tspan></text>
<text x="458" y="1612" font-size="20.5">E</text>
<rect x="125" y="1310.3" width="540" height="440.1" fill="none" stroke="#000" stroke-width="1.9"/>
<text x="159.5" y="1779" font-size="23" text-anchor="middle">0</text>
<text x="285.82" y="1779" font-size="23" text-anchor="middle">200</text>
<text x="412.14" y="1779" font-size="23" text-anchor="middle">400</text>
<text x="538.46" y="1779" font-size="23" text-anchor="middle">600</text>
<text x="664.78" y="1779" font-size="23" text-anchor="middle">800</text>
<text x="0" y="0" font-size="22.8" text-anchor="middle" transform="translate(107,1668.5) rotate(-90)">[10<tspan dy="-7.3" font-size="13.8">0</tspan><tspan dy="7.3">,10</tspan><tspan dy="-7.3" font-size="13.8">1</tspan><tspan dy="7.3">]</tspan></text>
<text x="0" y="0" font-size="22.8" text-anchor="middle" transform="translate(107,1531) rotate(-90)">]10<tspan dy="-7.3" font-size="13.8">1</tspan><tspan dy="7.3">,10</tspan><tspan dy="-7.3" font-size="13.8">2</tspan><tspan dy="7.3">]</tspan></text>
<text x="0" y="0" font-size="22.8" text-anchor="middle" transform="translate(107,1393.5) rotate(-90)">]10<tspan dy="-7.3" font-size="13.8">2</tspan><tspan dy="7.3">,10</tspan><tspan dy="-7.3" font-size="13.8">3</tspan><tspan dy="7.3">]</tspan></text>
<path d="M159.9 1750.4v9.6M286.22 1750.4v9.6M412.54 1750.4v9.6M538.86 1750.4v9.6M665.18 1750.4v9.6M125 1667.9h-13.4M125 1530.4h-13.4M125 1392.9h-13.4" stroke="#000" stroke-width="1.7"/>
<text x="411.3" y="1814.3" font-size="26.2" text-anchor="middle">Cumulated rainfall, <tspan font-style="italic">E</tspan> (mm)</text>
<text transform="translate(61,1539.5) rotate(-90)" font-size="26.9" text-anchor="middle">Log class</text>
<text x="0" y="1334.8" font-size="44">D</text>
</g>
</svg>
</body></html>
